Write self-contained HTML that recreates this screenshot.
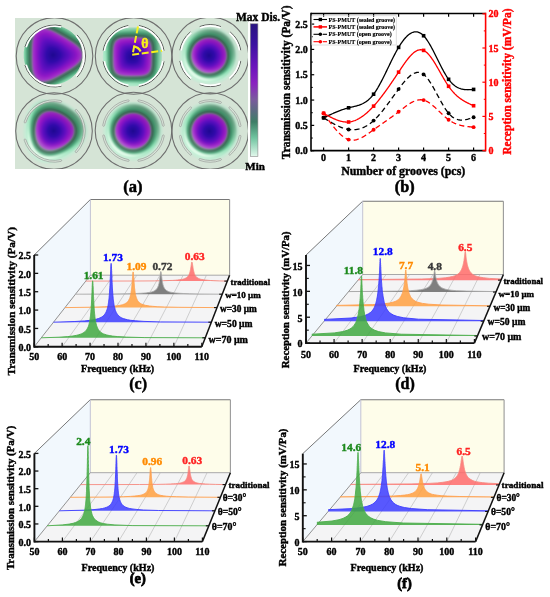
<!DOCTYPE html>
<html><head><meta charset="utf-8"><style>
html,body{margin:0;padding:0;background:#fff;width:550px;height:597px;overflow:hidden}
#wrap{position:relative;width:550px;height:597px}
#hm,#fb{position:absolute;left:15px;top:18px;width:233px;height:151px}
#fb{background-color:#d5e4d6;background-image:radial-gradient(circle 36.5px at 38.0px 37.0px, rgb(30,8,145) 0.0%, rgb(48,10,170) 18.0%, rgb(96,14,192) 34.0%, rgb(145,22,198) 46.0%, rgb(160,44,200) 53.0%, rgb(134,96,160) 57.0%, rgb(86,110,112) 60.0%, rgb(60,110,88) 64.0%, rgb(72,158,116) 71.0%, rgb(138,222,178) 80.0%, rgb(196,234,212) 90.0%, rgb(213,228,214) 100.0%, rgba(213,228,214,0) 100%),radial-gradient(circle 33.5px at 117.4px 38.8px, rgb(30,8,145) 0.0%, rgb(48,10,170) 18.0%, rgb(96,14,192) 34.0%, rgb(145,22,198) 46.0%, rgb(160,44,200) 53.0%, rgb(134,96,160) 57.0%, rgb(86,110,112) 60.0%, rgb(60,110,88) 64.0%, rgb(72,158,116) 71.0%, rgb(138,222,178) 80.0%, rgb(196,234,212) 90.0%, rgb(213,228,214) 100.0%, rgba(213,228,214,0) 100%),radial-gradient(circle 30.5px at 194.0px 37.5px, rgb(30,8,145) 0.0%, rgb(48,10,170) 18.0%, rgb(96,14,192) 34.0%, rgb(145,22,198) 46.0%, rgb(160,44,200) 53.0%, rgb(134,96,160) 57.0%, rgb(86,110,112) 60.0%, rgb(60,110,88) 64.0%, rgb(72,158,116) 71.0%, rgb(138,222,178) 80.0%, rgb(196,234,212) 90.0%, rgb(213,228,214) 100.0%, rgba(213,228,214,0) 100%),radial-gradient(circle 31.5px at 38.6px 112.8px, rgb(30,8,145) 0.0%, rgb(48,10,170) 18.0%, rgb(96,14,192) 34.0%, rgb(145,22,198) 46.0%, rgb(160,44,200) 53.0%, rgb(134,96,160) 57.0%, rgb(86,110,112) 60.0%, rgb(60,110,88) 64.0%, rgb(72,158,116) 71.0%, rgb(138,222,178) 80.0%, rgb(196,234,212) 90.0%, rgb(213,228,214) 100.0%, rgba(213,228,214,0) 100%),radial-gradient(circle 31.0px at 118.0px 113.0px, rgb(30,8,145) 0.0%, rgb(48,10,170) 18.0%, rgb(96,14,192) 34.0%, rgb(145,22,198) 46.0%, rgb(160,44,200) 53.0%, rgb(134,96,160) 57.0%, rgb(86,110,112) 60.0%, rgb(60,110,88) 64.0%, rgb(72,158,116) 71.0%, rgb(138,222,178) 80.0%, rgb(196,234,212) 90.0%, rgb(213,228,214) 100.0%, rgba(213,228,214,0) 100%),radial-gradient(circle 31.0px at 194.5px 113.2px, rgb(30,8,145) 0.0%, rgb(48,10,170) 18.0%, rgb(96,14,192) 34.0%, rgb(145,22,198) 46.0%, rgb(160,44,200) 53.0%, rgb(134,96,160) 57.0%, rgb(86,110,112) 60.0%, rgb(60,110,88) 64.0%, rgb(72,158,116) 71.0%, rgb(138,222,178) 80.0%, rgb(196,234,212) 90.0%, rgb(213,228,214) 100.0%, rgba(213,228,214,0) 100%)}
svg{position:absolute;left:0;top:0}
text{font-family:"Liberation Serif",serif;font-weight:bold}
</style></head><body><div id="wrap">
<div id="fb"></div><canvas id="hm" width="233" height="151"></canvas>
<svg width="550" height="597" viewBox="0 0 550 597">
<clipPath id="clipA"><rect x="15" y="18" width="233" height="151"/></clipPath>
<g clip-path="url(#clipA)">
<circle cx="54.5" cy="56.0" r="38.3" fill="none" stroke="#6e6e6e" stroke-width="1.1"/>
<path d="M61.45,25.89 A30.9,30.9 0 0 0 24.95,46.97" fill="none" stroke="#505050" stroke-width="1"/>
<path d="M61.18,27.06 A29.7,29.7 0 0 0 26.10,47.32" fill="none" stroke="#ffffff" stroke-width="1.6"/>
<path d="M24.95,65.03 A30.9,30.9 0 0 0 61.45,86.11" fill="none" stroke="#505050" stroke-width="1"/>
<path d="M26.10,64.68 A29.7,29.7 0 0 0 61.18,84.94" fill="none" stroke="#ffffff" stroke-width="1.6"/>
<path d="M77.10,77.07 A30.9,30.9 0 0 0 77.10,34.93" fill="none" stroke="#505050" stroke-width="1"/>
<path d="M76.22,76.26 A29.7,29.7 0 0 0 76.22,35.74" fill="none" stroke="#ffffff" stroke-width="1.6"/>
<circle cx="133.6" cy="56.0" r="38.3" fill="none" stroke="#6e6e6e" stroke-width="1.1"/>
<path d="M164.03,50.63 A30.9,30.9 0 0 0 138.97,25.57" fill="none" stroke="#505050" stroke-width="1"/>
<path d="M162.85,50.84 A29.7,29.7 0 0 0 138.76,26.75" fill="none" stroke="#ffffff" stroke-width="1.6"/>
<path d="M128.23,25.57 A30.9,30.9 0 0 0 103.17,50.63" fill="none" stroke="#505050" stroke-width="1"/>
<path d="M128.44,26.75 A29.7,29.7 0 0 0 104.35,50.84" fill="none" stroke="#ffffff" stroke-width="1.6"/>
<path d="M103.17,61.37 A30.9,30.9 0 0 0 128.23,86.43" fill="none" stroke="#505050" stroke-width="1"/>
<path d="M104.35,61.16 A29.7,29.7 0 0 0 128.44,85.25" fill="none" stroke="#ffffff" stroke-width="1.6"/>
<path d="M138.97,86.43 A30.9,30.9 0 0 0 164.03,61.37" fill="none" stroke="#505050" stroke-width="1"/>
<path d="M138.76,85.25 A29.7,29.7 0 0 0 162.85,61.16" fill="none" stroke="#ffffff" stroke-width="1.6"/>
<circle cx="210.3" cy="55.6" r="38.3" fill="none" stroke="#6e6e6e" stroke-width="1.1"/>
<path d="M240.73,50.23 A30.9,30.9 0 0 0 230.16,31.93" fill="none" stroke="#505050" stroke-width="1"/>
<path d="M239.55,50.44 A29.7,29.7 0 0 0 229.39,32.85" fill="none" stroke="#ffffff" stroke-width="1.6"/>
<path d="M220.87,26.56 A30.9,30.9 0 0 0 199.73,26.56" fill="none" stroke="#505050" stroke-width="1"/>
<path d="M220.46,27.69 A29.7,29.7 0 0 0 200.14,27.69" fill="none" stroke="#ffffff" stroke-width="1.6"/>
<path d="M190.44,31.93 A30.9,30.9 0 0 0 179.87,50.23" fill="none" stroke="#505050" stroke-width="1"/>
<path d="M191.21,32.85 A29.7,29.7 0 0 0 181.05,50.44" fill="none" stroke="#ffffff" stroke-width="1.6"/>
<path d="M179.87,60.97 A30.9,30.9 0 0 0 190.44,79.27" fill="none" stroke="#505050" stroke-width="1"/>
<path d="M181.05,60.76 A29.7,29.7 0 0 0 191.21,78.35" fill="none" stroke="#ffffff" stroke-width="1.6"/>
<path d="M199.73,84.64 A30.9,30.9 0 0 0 220.87,84.64" fill="none" stroke="#505050" stroke-width="1"/>
<path d="M200.14,83.51 A29.7,29.7 0 0 0 220.46,83.51" fill="none" stroke="#ffffff" stroke-width="1.6"/>
<path d="M230.16,79.27 A30.9,30.9 0 0 0 240.73,60.97" fill="none" stroke="#505050" stroke-width="1"/>
<path d="M229.39,78.35 A29.7,29.7 0 0 0 239.55,60.76" fill="none" stroke="#ffffff" stroke-width="1.6"/>
<circle cx="54.0" cy="131.0" r="38.3" fill="none" stroke="#6e6e6e" stroke-width="1.1"/>
<path d="M61.02,100.60 A31.2,31.2 0 0 0 24.16,121.88 A0.9000000000000004,0.9000000000000004 0 0 0 25.88,122.40 A29.4,29.4 0 0 1 60.61,102.35 A0.9000000000000004,0.9000000000000004 0 0 0 61.02,100.60 Z" fill="#d9e6da" stroke="#8e8e8e" stroke-width="0.6"/>
<path d="M24.16,140.12 A31.2,31.2 0 0 0 61.02,161.40 A0.9000000000000004,0.9000000000000004 0 0 0 60.61,159.65 A29.4,29.4 0 0 1 25.88,139.60 A0.9000000000000004,0.9000000000000004 0 0 0 24.16,140.12 Z" fill="#d9e6da" stroke="#8e8e8e" stroke-width="0.6"/>
<path d="M76.82,152.28 A31.2,31.2 0 0 0 76.82,109.72 A0.9000000000000004,0.9000000000000004 0 0 0 75.50,110.95 A29.4,29.4 0 0 1 75.50,151.05 A0.9000000000000004,0.9000000000000004 0 0 0 76.82,152.28 Z" fill="#d9e6da" stroke="#8e8e8e" stroke-width="0.6"/>
<circle cx="133.5" cy="130.6" r="38.3" fill="none" stroke="#6e6e6e" stroke-width="1.1"/>
<path d="M164.23,125.18 A31.2,31.2 0 0 0 138.92,99.87 A0.9000000000000004,0.9000000000000004 0 0 0 138.61,101.65 A29.4,29.4 0 0 1 162.45,125.49 A0.9000000000000004,0.9000000000000004 0 0 0 164.23,125.18 Z" fill="#d9e6da" stroke="#8e8e8e" stroke-width="0.6"/>
<path d="M128.08,99.87 A31.2,31.2 0 0 0 102.77,125.18 A0.9000000000000004,0.9000000000000004 0 0 0 104.55,125.49 A29.4,29.4 0 0 1 128.39,101.65 A0.9000000000000004,0.9000000000000004 0 0 0 128.08,99.87 Z" fill="#d9e6da" stroke="#8e8e8e" stroke-width="0.6"/>
<path d="M102.77,136.02 A31.2,31.2 0 0 0 128.08,161.33 A0.9000000000000004,0.9000000000000004 0 0 0 128.39,159.55 A29.4,29.4 0 0 1 104.55,135.71 A0.9000000000000004,0.9000000000000004 0 0 0 102.77,136.02 Z" fill="#d9e6da" stroke="#8e8e8e" stroke-width="0.6"/>
<path d="M138.92,161.33 A31.2,31.2 0 0 0 164.23,136.02 A0.9000000000000004,0.9000000000000004 0 0 0 162.45,135.71 A29.4,29.4 0 0 1 138.61,159.55 A0.9000000000000004,0.9000000000000004 0 0 0 138.92,161.33 Z" fill="#d9e6da" stroke="#8e8e8e" stroke-width="0.6"/>
<circle cx="210.2" cy="131.0" r="38.3" fill="none" stroke="#6e6e6e" stroke-width="1.1"/>
<path d="M240.93,125.58 A31.2,31.2 0 0 0 230.25,107.10 A0.9000000000000004,0.9000000000000004 0 0 0 229.10,108.48 A29.4,29.4 0 0 1 239.15,125.89 A0.9000000000000004,0.9000000000000004 0 0 0 240.93,125.58 Z" fill="#d9e6da" stroke="#8e8e8e" stroke-width="0.6"/>
<path d="M220.87,101.68 A31.2,31.2 0 0 0 199.53,101.68 A0.9000000000000004,0.9000000000000004 0 0 0 200.14,103.37 A29.4,29.4 0 0 1 220.26,103.37 A0.9000000000000004,0.9000000000000004 0 0 0 220.87,101.68 Z" fill="#d9e6da" stroke="#8e8e8e" stroke-width="0.6"/>
<path d="M190.15,107.10 A31.2,31.2 0 0 0 179.47,125.58 A0.9000000000000004,0.9000000000000004 0 0 0 181.25,125.89 A29.4,29.4 0 0 1 191.30,108.48 A0.9000000000000004,0.9000000000000004 0 0 0 190.15,107.10 Z" fill="#d9e6da" stroke="#8e8e8e" stroke-width="0.6"/>
<path d="M179.47,136.42 A31.2,31.2 0 0 0 190.15,154.90 A0.9000000000000004,0.9000000000000004 0 0 0 191.30,153.52 A29.4,29.4 0 0 1 181.25,136.11 A0.9000000000000004,0.9000000000000004 0 0 0 179.47,136.42 Z" fill="#d9e6da" stroke="#8e8e8e" stroke-width="0.6"/>
<path d="M199.53,160.32 A31.2,31.2 0 0 0 220.87,160.32 A0.9000000000000004,0.9000000000000004 0 0 0 220.26,158.63 A29.4,29.4 0 0 1 200.14,158.63 A0.9000000000000004,0.9000000000000004 0 0 0 199.53,160.32 Z" fill="#d9e6da" stroke="#8e8e8e" stroke-width="0.6"/>
<path d="M230.25,154.90 A31.2,31.2 0 0 0 240.93,136.42 A0.9000000000000004,0.9000000000000004 0 0 0 239.15,136.11 A29.4,29.4 0 0 1 229.10,153.52 A0.9000000000000004,0.9000000000000004 0 0 0 230.25,154.90 Z" fill="#d9e6da" stroke="#8e8e8e" stroke-width="0.6"/>
</g>
<path d="M138,26.5 L132.6,54.4" stroke="#f7f01a" stroke-width="2" stroke-dasharray="7,2.6" fill="none"/>
<path d="M132.2,54.8 L162.1,50.7" stroke="#f7f01a" stroke-width="2" stroke-dasharray="7,2.6" fill="none"/>
<path d="M133.6,46.6 A8,8 0 0 1 140.6,51.5" stroke="#f7f01a" stroke-width="2.2" fill="none"/>
<text x="141.2" y="47.7" font-size="14" font-family="Liberation Serif" fill="#f7f01a" stroke="#f7f01a" stroke-width="0.45">θ</text>
<linearGradient id="cbar" x1="0" y1="0" x2="0" y2="1">
<stop offset="0" stop-color="#2a1580"/>
<stop offset="0.15" stop-color="#3a12a0"/>
<stop offset="0.32" stop-color="#6a14bc"/>
<stop offset="0.45" stop-color="#8a22c0"/>
<stop offset="0.57" stop-color="#7a5a9e"/>
<stop offset="0.66" stop-color="#5a6c80"/>
<stop offset="0.74" stop-color="#3e7e66"/>
<stop offset="0.86" stop-color="#70c4a0"/>
<stop offset="1" stop-color="#e2f8ec"/>
</linearGradient>
<rect x="250.3" y="23.8" width="7.6" height="132.6" fill="url(#cbar)" stroke="#888" stroke-width="0.6"/>
<text x="236.00" y="21.10" font-size="11.5" fill="#000" text-anchor="start" stroke="#000" stroke-width="0.4" >Max Dis.</text>
<text x="245.30" y="169.60" font-size="11" fill="#000" text-anchor="start" stroke="#000" stroke-width="0.4" >Min</text>
<text x="132.95" y="192.10" font-size="16.5" fill="#000" text-anchor="middle" stroke="#000" stroke-width="0.5" >(a)</text>
<clipPath id="clipB"><rect x="311.0" y="13.5" width="174.60000000000002" height="137.1"/></clipPath>
<g clip-path="url(#clipB)">
<path d="M323.60,117.78 L324.23,118.17 L324.85,118.56 L325.48,118.94 L326.10,119.33 L326.73,119.71 L327.35,120.10 L327.98,120.48 L328.60,120.85 L329.23,121.23 L329.85,121.60 L330.48,121.97 L331.10,122.33 L331.73,122.69 L332.35,123.04 L332.98,123.39 L333.60,123.74 L334.23,124.07 L334.85,124.41 L335.48,124.73 L336.10,125.05 L336.73,125.36 L337.35,125.67 L337.98,125.96 L338.60,126.25 L339.23,126.53 L339.85,126.80 L340.48,127.06 L341.10,127.31 L341.73,127.55 L342.35,127.78 L342.98,128.00 L343.60,128.21 L344.23,128.41 L344.85,128.59 L345.48,128.76 L346.10,128.92 L346.73,129.07 L347.35,129.21 L347.98,129.33 L348.60,129.43 L349.23,129.52 L349.85,129.60 L350.48,129.66 L351.10,129.71 L351.73,129.74 L352.35,129.76 L352.98,129.76 L353.60,129.75 L354.23,129.72 L354.85,129.68 L355.48,129.62 L356.10,129.54 L356.73,129.45 L357.35,129.35 L357.98,129.22 L358.60,129.08 L359.23,128.93 L359.85,128.76 L360.48,128.57 L361.10,128.37 L361.73,128.14 L362.35,127.91 L362.98,127.65 L363.60,127.38 L364.23,127.09 L364.85,126.78 L365.48,126.46 L366.10,126.12 L366.73,125.76 L367.35,125.38 L367.98,124.99 L368.60,124.58 L369.23,124.15 L369.85,123.70 L370.48,123.23 L371.10,122.75 L371.73,122.24 L372.35,121.72 L372.98,121.18 L373.60,120.62 L374.23,120.04 L374.85,119.44 L375.48,118.83 L376.10,118.20 L376.73,117.55 L377.35,116.88 L377.98,116.20 L378.60,115.51 L379.23,114.80 L379.85,114.08 L380.48,113.34 L381.10,112.60 L381.73,111.84 L382.35,111.07 L382.98,110.29 L383.60,109.50 L384.23,108.70 L384.85,107.89 L385.48,107.07 L386.10,106.25 L386.73,105.41 L387.35,104.58 L387.98,103.73 L388.60,102.89 L389.23,102.03 L389.85,101.18 L390.48,100.32 L391.10,99.46 L391.73,98.59 L392.35,97.73 L392.98,96.86 L393.60,95.99 L394.23,95.13 L394.85,94.26 L395.48,93.40 L396.10,92.53 L396.73,91.68 L397.35,90.82 L397.98,89.97 L398.60,89.12 L399.23,88.28 L399.85,87.45 L400.48,86.62 L401.10,85.80 L401.73,84.99 L402.35,84.20 L402.98,83.42 L403.60,82.65 L404.23,81.90 L404.85,81.17 L405.48,80.46 L406.10,79.77 L406.73,79.10 L407.35,78.45 L407.98,77.83 L408.60,77.23 L409.23,76.66 L409.85,76.12 L410.48,75.61 L411.10,75.14 L411.73,74.69 L412.35,74.28 L412.98,73.91 L413.60,73.57 L414.23,73.27 L414.85,73.01 L415.48,72.80 L416.10,72.62 L416.73,72.49 L417.35,72.41 L417.98,72.37 L418.60,72.38 L419.23,72.45 L419.85,72.56 L420.48,72.72 L421.10,72.94 L421.73,73.22 L422.35,73.55 L422.98,73.94 L423.60,74.39 L424.23,74.89 L424.85,75.46 L425.48,76.09 L426.10,76.76 L426.73,77.49 L427.35,78.26 L427.98,79.08 L428.60,79.94 L429.23,80.84 L429.85,81.77 L430.48,82.74 L431.10,83.74 L431.73,84.77 L432.35,85.82 L432.98,86.90 L433.60,88.00 L434.23,89.11 L434.85,90.24 L435.48,91.38 L436.10,92.53 L436.73,93.69 L437.35,94.85 L437.98,96.01 L438.60,97.17 L439.23,98.32 L439.85,99.47 L440.48,100.61 L441.10,101.74 L441.73,102.85 L442.35,103.94 L442.98,105.01 L443.60,106.06 L444.23,107.08 L444.85,108.08 L445.48,109.04 L446.10,109.97 L446.73,110.86 L447.35,111.71 L447.98,112.51 L448.60,113.28 L449.23,113.99 L449.85,114.66 L450.48,115.28 L451.10,115.86 L451.73,116.40 L452.35,116.89 L452.98,117.35 L453.60,117.76 L454.23,118.13 L454.85,118.47 L455.48,118.77 L456.10,119.04 L456.73,119.28 L457.35,119.48 L457.98,119.65 L458.60,119.79 L459.23,119.90 L459.85,119.98 L460.48,120.04 L461.10,120.07 L461.73,120.08 L462.35,120.07 L462.98,120.03 L463.60,119.97 L464.23,119.90 L464.85,119.80 L465.48,119.69 L466.10,119.57 L466.73,119.43 L467.35,119.27 L467.98,119.11 L468.60,118.93 L469.23,118.75 L469.85,118.55 L470.48,118.35 L471.10,118.14 L471.73,117.93 L472.35,117.72 L472.98,117.50 L473.60,117.28" fill="none" stroke="#000" stroke-width="1.3" stroke-dasharray="5.2,3.2"/>
<path d="M323.60,113.19 L324.23,114.07 L324.85,114.96 L325.48,115.85 L326.10,116.74 L326.73,117.62 L327.35,118.49 L327.98,119.36 L328.60,120.23 L329.23,121.09 L329.85,121.94 L330.48,122.78 L331.10,123.62 L331.73,124.44 L332.35,125.25 L332.98,126.05 L333.60,126.83 L334.23,127.61 L334.85,128.36 L335.48,129.11 L336.10,129.83 L336.73,130.54 L337.35,131.23 L337.98,131.90 L338.60,132.56 L339.23,133.19 L339.85,133.80 L340.48,134.38 L341.10,134.95 L341.73,135.49 L342.35,136.00 L342.98,136.49 L343.60,136.95 L344.23,137.39 L344.85,137.80 L345.48,138.17 L346.10,138.52 L346.73,138.83 L347.35,139.12 L347.98,139.37 L348.60,139.59 L349.23,139.77 L349.85,139.92 L350.48,140.04 L351.10,140.12 L351.73,140.18 L352.35,140.20 L352.98,140.20 L353.60,140.17 L354.23,140.11 L354.85,140.02 L355.48,139.91 L356.10,139.77 L356.73,139.62 L357.35,139.43 L357.98,139.23 L358.60,139.01 L359.23,138.76 L359.85,138.50 L360.48,138.22 L361.10,137.92 L361.73,137.60 L362.35,137.27 L362.98,136.93 L363.60,136.57 L364.23,136.20 L364.85,135.82 L365.48,135.42 L366.10,135.02 L366.73,134.61 L367.35,134.19 L367.98,133.76 L368.60,133.33 L369.23,132.89 L369.85,132.44 L370.48,132.00 L371.10,131.55 L371.73,131.09 L372.35,130.64 L372.98,130.19 L373.60,129.74 L374.23,129.29 L374.85,128.84 L375.48,128.39 L376.10,127.95 L376.73,127.51 L377.35,127.07 L377.98,126.62 L378.60,126.18 L379.23,125.75 L379.85,125.31 L380.48,124.87 L381.10,124.43 L381.73,123.99 L382.35,123.56 L382.98,123.12 L383.60,122.68 L384.23,122.25 L384.85,121.81 L385.48,121.37 L386.10,120.93 L386.73,120.49 L387.35,120.05 L387.98,119.61 L388.60,119.17 L389.23,118.73 L389.85,118.28 L390.48,117.83 L391.10,117.38 L391.73,116.93 L392.35,116.48 L392.98,116.03 L393.60,115.57 L394.23,115.11 L394.85,114.65 L395.48,114.18 L396.10,113.72 L396.73,113.25 L397.35,112.77 L397.98,112.30 L398.60,111.82 L399.23,111.33 L399.85,110.85 L400.48,110.36 L401.10,109.87 L401.73,109.39 L402.35,108.90 L402.98,108.42 L403.60,107.94 L404.23,107.46 L404.85,106.99 L405.48,106.53 L406.10,106.07 L406.73,105.62 L407.35,105.18 L407.98,104.75 L408.60,104.33 L409.23,103.92 L409.85,103.53 L410.48,103.15 L411.10,102.78 L411.73,102.44 L412.35,102.10 L412.98,101.79 L413.60,101.49 L414.23,101.22 L414.85,100.96 L415.48,100.73 L416.10,100.52 L416.73,100.33 L417.35,100.17 L417.98,100.04 L418.60,99.93 L419.23,99.84 L419.85,99.79 L420.48,99.77 L421.10,99.77 L421.73,99.81 L422.35,99.88 L422.98,99.98 L423.60,100.12 L424.23,100.29 L424.85,100.50 L425.48,100.74 L426.10,101.01 L426.73,101.31 L427.35,101.64 L427.98,101.99 L428.60,102.37 L429.23,102.78 L429.85,103.21 L430.48,103.66 L431.10,104.13 L431.73,104.61 L432.35,105.12 L432.98,105.64 L433.60,106.18 L434.23,106.73 L434.85,107.29 L435.48,107.86 L436.10,108.44 L436.73,109.02 L437.35,109.62 L437.98,110.21 L438.60,110.81 L439.23,111.42 L439.85,112.02 L440.48,112.62 L441.10,113.22 L441.73,113.82 L442.35,114.41 L442.98,115.00 L443.60,115.58 L444.23,116.15 L444.85,116.70 L445.48,117.25 L446.10,117.78 L446.73,118.30 L447.35,118.80 L447.98,119.29 L448.60,119.75 L449.23,120.20 L449.85,120.62 L450.48,121.03 L451.10,121.42 L451.73,121.79 L452.35,122.14 L452.98,122.47 L453.60,122.79 L454.23,123.09 L454.85,123.38 L455.48,123.65 L456.10,123.90 L456.73,124.14 L457.35,124.37 L457.98,124.58 L458.60,124.79 L459.23,124.98 L459.85,125.15 L460.48,125.32 L461.10,125.48 L461.73,125.62 L462.35,125.76 L462.98,125.88 L463.60,126.00 L464.23,126.11 L464.85,126.22 L465.48,126.31 L466.10,126.40 L466.73,126.48 L467.35,126.56 L467.98,126.63 L468.60,126.70 L469.23,126.76 L469.85,126.82 L470.48,126.88 L471.10,126.94 L471.73,126.99 L472.35,127.04 L472.98,127.09 L473.60,127.14" fill="none" stroke="#ff0000" stroke-width="1.3" stroke-dasharray="5.2,3.2"/>
<path d="M323.60,117.78 L324.23,117.49 L324.85,117.20 L325.48,116.90 L326.10,116.61 L326.73,116.32 L327.35,116.03 L327.98,115.74 L328.60,115.45 L329.23,115.16 L329.85,114.88 L330.48,114.59 L331.10,114.31 L331.73,114.03 L332.35,113.75 L332.98,113.48 L333.60,113.20 L334.23,112.93 L334.85,112.67 L335.48,112.40 L336.10,112.14 L336.73,111.88 L337.35,111.62 L337.98,111.37 L338.60,111.12 L339.23,110.88 L339.85,110.64 L340.48,110.41 L341.10,110.17 L341.73,109.95 L342.35,109.73 L342.98,109.51 L343.60,109.30 L344.23,109.09 L344.85,108.89 L345.48,108.70 L346.10,108.51 L346.73,108.32 L347.35,108.14 L347.98,107.97 L348.60,107.81 L349.23,107.65 L349.85,107.50 L350.48,107.35 L351.10,107.20 L351.73,107.06 L352.35,106.91 L352.98,106.77 L353.60,106.63 L354.23,106.48 L354.85,106.33 L355.48,106.17 L356.10,106.01 L356.73,105.84 L357.35,105.66 L357.98,105.47 L358.60,105.27 L359.23,105.06 L359.85,104.83 L360.48,104.59 L361.10,104.34 L361.73,104.07 L362.35,103.78 L362.98,103.47 L363.60,103.14 L364.23,102.79 L364.85,102.42 L365.48,102.02 L366.10,101.60 L366.73,101.15 L367.35,100.68 L367.98,100.18 L368.60,99.64 L369.23,99.08 L369.85,98.49 L370.48,97.86 L371.10,97.20 L371.73,96.50 L372.35,95.77 L372.98,95.00 L373.60,94.19 L374.23,93.34 L374.85,92.45 L375.48,91.52 L376.10,90.56 L376.73,89.57 L377.35,88.55 L377.98,87.50 L378.60,86.41 L379.23,85.31 L379.85,84.18 L380.48,83.02 L381.10,81.84 L381.73,80.65 L382.35,79.44 L382.98,78.21 L383.60,76.97 L384.23,75.71 L384.85,74.45 L385.48,73.17 L386.10,71.89 L386.73,70.60 L387.35,69.31 L387.98,68.02 L388.60,66.73 L389.23,65.43 L389.85,64.14 L390.48,62.86 L391.10,61.58 L391.73,60.31 L392.35,59.05 L392.98,57.81 L393.60,56.57 L394.23,55.36 L394.85,54.15 L395.48,52.97 L396.10,51.81 L396.73,50.67 L397.35,49.55 L397.98,48.46 L398.60,47.39 L399.23,46.36 L399.85,45.35 L400.48,44.38 L401.10,43.43 L401.73,42.52 L402.35,41.64 L402.98,40.79 L403.60,39.98 L404.23,39.20 L404.85,38.46 L405.48,37.75 L406.10,37.08 L406.73,36.44 L407.35,35.84 L407.98,35.29 L408.60,34.77 L409.23,34.29 L409.85,33.85 L410.48,33.45 L411.10,33.09 L411.73,32.78 L412.35,32.50 L412.98,32.28 L413.60,32.09 L414.23,31.95 L414.85,31.86 L415.48,31.82 L416.10,31.82 L416.73,31.87 L417.35,31.96 L417.98,32.11 L418.60,32.31 L419.23,32.55 L419.85,32.85 L420.48,33.20 L421.10,33.60 L421.73,34.06 L422.35,34.57 L422.98,35.13 L423.60,35.75 L424.23,36.42 L424.85,37.15 L425.48,37.93 L426.10,38.75 L426.73,39.62 L427.35,40.54 L427.98,41.50 L428.60,42.49 L429.23,43.52 L429.85,44.58 L430.48,45.67 L431.10,46.80 L431.73,47.94 L432.35,49.11 L432.98,50.30 L433.60,51.51 L434.23,52.73 L434.85,53.97 L435.48,55.21 L436.10,56.47 L436.73,57.73 L437.35,58.99 L437.98,60.25 L438.60,61.51 L439.23,62.77 L439.85,64.02 L440.48,65.25 L441.10,66.48 L441.73,67.69 L442.35,68.88 L442.98,70.06 L443.60,71.21 L444.23,72.33 L444.85,73.43 L445.48,74.50 L446.10,75.53 L446.73,76.53 L447.35,77.50 L447.98,78.42 L448.60,79.30 L449.23,80.13 L449.85,80.92 L450.48,81.67 L451.10,82.38 L451.73,83.04 L452.35,83.67 L452.98,84.25 L453.60,84.80 L454.23,85.31 L454.85,85.79 L455.48,86.24 L456.10,86.65 L456.73,87.03 L457.35,87.38 L457.98,87.70 L458.60,87.99 L459.23,88.25 L459.85,88.49 L460.48,88.70 L461.10,88.89 L461.73,89.06 L462.35,89.20 L462.98,89.33 L463.60,89.43 L464.23,89.52 L464.85,89.59 L465.48,89.64 L466.10,89.68 L466.73,89.71 L467.35,89.72 L467.98,89.73 L468.60,89.72 L469.23,89.70 L469.85,89.68 L470.48,89.65 L471.10,89.61 L471.73,89.57 L472.35,89.52 L472.98,89.47 L473.60,89.43" fill="none" stroke="#000" stroke-width="1.3"/>
<path d="M323.60,113.32 L324.23,113.67 L324.85,114.02 L325.48,114.37 L326.10,114.72 L326.73,115.07 L327.35,115.41 L327.98,115.75 L328.60,116.09 L329.23,116.42 L329.85,116.75 L330.48,117.07 L331.10,117.39 L331.73,117.70 L332.35,118.01 L332.98,118.31 L333.60,118.60 L334.23,118.88 L334.85,119.15 L335.48,119.42 L336.10,119.68 L336.73,119.92 L337.35,120.16 L337.98,120.38 L338.60,120.59 L339.23,120.79 L339.85,120.98 L340.48,121.16 L341.10,121.32 L341.73,121.46 L342.35,121.60 L342.98,121.71 L343.60,121.82 L344.23,121.90 L344.85,121.97 L345.48,122.02 L346.10,122.06 L346.73,122.07 L347.35,122.07 L347.98,122.05 L348.60,122.01 L349.23,121.95 L349.85,121.87 L350.48,121.77 L351.10,121.65 L351.73,121.51 L352.35,121.35 L352.98,121.17 L353.60,120.98 L354.23,120.76 L354.85,120.53 L355.48,120.28 L356.10,120.01 L356.73,119.73 L357.35,119.42 L357.98,119.10 L358.60,118.77 L359.23,118.41 L359.85,118.04 L360.48,117.66 L361.10,117.25 L361.73,116.83 L362.35,116.40 L362.98,115.95 L363.60,115.49 L364.23,115.01 L364.85,114.51 L365.48,114.00 L366.10,113.48 L366.73,112.94 L367.35,112.39 L367.98,111.82 L368.60,111.24 L369.23,110.65 L369.85,110.04 L370.48,109.42 L371.10,108.79 L371.73,108.15 L372.35,107.49 L372.98,106.82 L373.60,106.14 L374.23,105.45 L374.85,104.74 L375.48,104.03 L376.10,103.30 L376.73,102.57 L377.35,101.82 L377.98,101.06 L378.60,100.30 L379.23,99.52 L379.85,98.73 L380.48,97.94 L381.10,97.14 L381.73,96.32 L382.35,95.50 L382.98,94.68 L383.60,93.84 L384.23,93.00 L384.85,92.15 L385.48,91.29 L386.10,90.42 L386.73,89.55 L387.35,88.68 L387.98,87.79 L388.60,86.91 L389.23,86.01 L389.85,85.11 L390.48,84.21 L391.10,83.30 L391.73,82.39 L392.35,81.47 L392.98,80.55 L393.60,79.63 L394.23,78.70 L394.85,77.77 L395.48,76.84 L396.10,75.90 L396.73,74.97 L397.35,74.03 L397.98,73.09 L398.60,72.15 L399.23,71.20 L399.85,70.26 L400.48,69.32 L401.10,68.38 L401.73,67.45 L402.35,66.53 L402.98,65.61 L403.60,64.70 L404.23,63.81 L404.85,62.93 L405.48,62.06 L406.10,61.21 L406.73,60.37 L407.35,59.56 L407.98,58.77 L408.60,58.00 L409.23,57.25 L409.85,56.53 L410.48,55.84 L411.10,55.17 L411.73,54.54 L412.35,53.94 L412.98,53.37 L413.60,52.84 L414.23,52.34 L414.85,51.88 L415.48,51.47 L416.10,51.09 L416.73,50.76 L417.35,50.47 L417.98,50.23 L418.60,50.03 L419.23,49.89 L419.85,49.80 L420.48,49.75 L421.10,49.77 L421.73,49.84 L422.35,49.96 L422.98,50.15 L423.60,50.39 L424.23,50.70 L424.85,51.07 L425.48,51.49 L426.10,51.97 L426.73,52.50 L427.35,53.09 L427.98,53.72 L428.60,54.39 L429.23,55.11 L429.85,55.88 L430.48,56.68 L431.10,57.51 L431.73,58.38 L432.35,59.29 L432.98,60.22 L433.60,61.18 L434.23,62.16 L434.85,63.17 L435.48,64.19 L436.10,65.24 L436.73,66.30 L437.35,67.37 L437.98,68.46 L438.60,69.55 L439.23,70.65 L439.85,71.75 L440.48,72.86 L441.10,73.96 L441.73,75.06 L442.35,76.16 L442.98,77.24 L443.60,78.32 L444.23,79.39 L444.85,80.44 L445.48,81.47 L446.10,82.49 L446.73,83.48 L447.35,84.45 L447.98,85.39 L448.60,86.30 L449.23,87.19 L449.85,88.04 L450.48,88.86 L451.10,89.66 L451.73,90.43 L452.35,91.17 L452.98,91.88 L453.60,92.57 L454.23,93.23 L454.85,93.87 L455.48,94.49 L456.10,95.08 L456.73,95.65 L457.35,96.20 L457.98,96.73 L458.60,97.25 L459.23,97.74 L459.85,98.21 L460.48,98.67 L461.10,99.11 L461.73,99.54 L462.35,99.95 L462.98,100.35 L463.60,100.73 L464.23,101.11 L464.85,101.47 L465.48,101.82 L466.10,102.16 L466.73,102.49 L467.35,102.81 L467.98,103.12 L468.60,103.43 L469.23,103.73 L469.85,104.03 L470.48,104.32 L471.10,104.60 L471.73,104.89 L472.35,105.17 L472.98,105.45 L473.60,105.73" fill="none" stroke="#ff0000" stroke-width="1.3"/>
</g>
<circle cx="323.60" cy="117.78" r="1.95" fill="#000"/>
<circle cx="348.60" cy="129.43" r="1.95" fill="#000"/>
<circle cx="373.60" cy="120.62" r="1.95" fill="#000"/>
<circle cx="398.60" cy="89.12" r="1.95" fill="#000"/>
<circle cx="423.60" cy="74.39" r="1.95" fill="#000"/>
<circle cx="448.60" cy="113.28" r="1.95" fill="#000"/>
<circle cx="473.60" cy="117.28" r="1.95" fill="#000"/>
<circle cx="323.60" cy="113.19" r="1.95" fill="#ff0000"/>
<circle cx="348.60" cy="139.59" r="1.95" fill="#ff0000"/>
<circle cx="373.60" cy="129.74" r="1.95" fill="#ff0000"/>
<circle cx="398.60" cy="111.82" r="1.95" fill="#ff0000"/>
<circle cx="423.60" cy="100.12" r="1.95" fill="#ff0000"/>
<circle cx="448.60" cy="119.75" r="1.95" fill="#ff0000"/>
<circle cx="473.60" cy="127.14" r="1.95" fill="#ff0000"/>
<rect x="321.80" y="115.98" width="3.6" height="3.6" fill="#000"/>
<rect x="346.80" y="106.01" width="3.6" height="3.6" fill="#000"/>
<rect x="371.80" y="92.39" width="3.6" height="3.6" fill="#000"/>
<rect x="396.80" y="45.59" width="3.6" height="3.6" fill="#000"/>
<rect x="421.80" y="33.95" width="3.6" height="3.6" fill="#000"/>
<rect x="446.80" y="77.50" width="3.6" height="3.6" fill="#000"/>
<rect x="471.80" y="87.63" width="3.6" height="3.6" fill="#000"/>
<rect x="321.80" y="111.52" width="3.6" height="3.6" fill="#ff0000"/>
<rect x="346.80" y="120.21" width="3.6" height="3.6" fill="#ff0000"/>
<rect x="371.80" y="104.34" width="3.6" height="3.6" fill="#ff0000"/>
<rect x="396.80" y="70.35" width="3.6" height="3.6" fill="#ff0000"/>
<rect x="421.80" y="48.59" width="3.6" height="3.6" fill="#ff0000"/>
<rect x="446.80" y="84.50" width="3.6" height="3.6" fill="#ff0000"/>
<rect x="471.80" y="103.93" width="3.6" height="3.6" fill="#ff0000"/>
<line x1="311.00" y1="13.50" x2="485.60" y2="13.50" stroke="#000" stroke-width="1.6" />
<line x1="311.00" y1="150.60" x2="485.60" y2="150.60" stroke="#000" stroke-width="1.6" />
<line x1="311.00" y1="12.70" x2="311.00" y2="151.40" stroke="#000" stroke-width="1.6" />
<line x1="485.60" y1="12.70" x2="485.60" y2="151.40" stroke="#ff0000" stroke-width="1.6" />
<line x1="311.00" y1="150.70" x2="314.20" y2="150.70" stroke="#000" stroke-width="1.2" />
<text x="307.80" y="154.20" font-size="10" fill="#000" text-anchor="end" stroke="#000" stroke-width="0.4" >0.0</text>
<line x1="311.00" y1="125.38" x2="314.20" y2="125.38" stroke="#000" stroke-width="1.2" />
<text x="307.80" y="128.88" font-size="10" fill="#000" text-anchor="end" stroke="#000" stroke-width="0.4" >0.5</text>
<line x1="311.00" y1="100.06" x2="314.20" y2="100.06" stroke="#000" stroke-width="1.2" />
<text x="307.80" y="103.56" font-size="10" fill="#000" text-anchor="end" stroke="#000" stroke-width="0.4" >1.0</text>
<line x1="311.00" y1="74.74" x2="314.20" y2="74.74" stroke="#000" stroke-width="1.2" />
<text x="307.80" y="78.24" font-size="10" fill="#000" text-anchor="end" stroke="#000" stroke-width="0.4" >1.5</text>
<line x1="311.00" y1="49.42" x2="314.20" y2="49.42" stroke="#000" stroke-width="1.2" />
<text x="307.80" y="52.92" font-size="10" fill="#000" text-anchor="end" stroke="#000" stroke-width="0.4" >2.0</text>
<line x1="311.00" y1="24.10" x2="314.20" y2="24.10" stroke="#000" stroke-width="1.2" />
<text x="307.80" y="27.60" font-size="10" fill="#000" text-anchor="end" stroke="#000" stroke-width="0.4" >2.5</text>
<line x1="311.00" y1="138.04" x2="312.80" y2="138.04" stroke="#000" stroke-width="1" />
<line x1="311.00" y1="112.72" x2="312.80" y2="112.72" stroke="#000" stroke-width="1" />
<line x1="311.00" y1="87.40" x2="312.80" y2="87.40" stroke="#000" stroke-width="1" />
<line x1="311.00" y1="62.08" x2="312.80" y2="62.08" stroke="#000" stroke-width="1" />
<line x1="311.00" y1="36.76" x2="312.80" y2="36.76" stroke="#000" stroke-width="1" />
<line x1="323.60" y1="150.60" x2="323.60" y2="147.40" stroke="#000" stroke-width="1.2" />
<line x1="323.60" y1="13.50" x2="323.60" y2="16.70" stroke="#000" stroke-width="1.2" />
<text x="323.60" y="161.30" font-size="10" fill="#000" text-anchor="middle" stroke="#000" stroke-width="0.4" >0</text>
<line x1="348.60" y1="150.60" x2="348.60" y2="147.40" stroke="#000" stroke-width="1.2" />
<line x1="348.60" y1="13.50" x2="348.60" y2="16.70" stroke="#000" stroke-width="1.2" />
<text x="348.60" y="161.30" font-size="10" fill="#000" text-anchor="middle" stroke="#000" stroke-width="0.4" >1</text>
<line x1="373.60" y1="150.60" x2="373.60" y2="147.40" stroke="#000" stroke-width="1.2" />
<line x1="373.60" y1="13.50" x2="373.60" y2="16.70" stroke="#000" stroke-width="1.2" />
<text x="373.60" y="161.30" font-size="10" fill="#000" text-anchor="middle" stroke="#000" stroke-width="0.4" >2</text>
<line x1="398.60" y1="150.60" x2="398.60" y2="147.40" stroke="#000" stroke-width="1.2" />
<line x1="398.60" y1="13.50" x2="398.60" y2="16.70" stroke="#000" stroke-width="1.2" />
<text x="398.60" y="161.30" font-size="10" fill="#000" text-anchor="middle" stroke="#000" stroke-width="0.4" >3</text>
<line x1="423.60" y1="150.60" x2="423.60" y2="147.40" stroke="#000" stroke-width="1.2" />
<line x1="423.60" y1="13.50" x2="423.60" y2="16.70" stroke="#000" stroke-width="1.2" />
<text x="423.60" y="161.30" font-size="10" fill="#000" text-anchor="middle" stroke="#000" stroke-width="0.4" >4</text>
<line x1="448.60" y1="150.60" x2="448.60" y2="147.40" stroke="#000" stroke-width="1.2" />
<line x1="448.60" y1="13.50" x2="448.60" y2="16.70" stroke="#000" stroke-width="1.2" />
<text x="448.60" y="161.30" font-size="10" fill="#000" text-anchor="middle" stroke="#000" stroke-width="0.4" >5</text>
<line x1="473.60" y1="150.60" x2="473.60" y2="147.40" stroke="#000" stroke-width="1.2" />
<line x1="473.60" y1="13.50" x2="473.60" y2="16.70" stroke="#000" stroke-width="1.2" />
<text x="473.60" y="161.30" font-size="10" fill="#000" text-anchor="middle" stroke="#000" stroke-width="0.4" >6</text>
<line x1="485.60" y1="150.60" x2="482.40" y2="150.60" stroke="#ff0000" stroke-width="1.2" />
<text x="488.60" y="154.10" font-size="10" fill="#ff0000" text-anchor="start" stroke="#ff0000" stroke-width="0.4" >0</text>
<line x1="485.60" y1="116.40" x2="482.40" y2="116.40" stroke="#ff0000" stroke-width="1.2" />
<text x="488.60" y="119.90" font-size="10" fill="#ff0000" text-anchor="start" stroke="#ff0000" stroke-width="0.4" >5</text>
<line x1="485.60" y1="82.20" x2="482.40" y2="82.20" stroke="#ff0000" stroke-width="1.2" />
<text x="488.60" y="85.70" font-size="10" fill="#ff0000" text-anchor="start" stroke="#ff0000" stroke-width="0.4" >10</text>
<line x1="485.60" y1="48.00" x2="482.40" y2="48.00" stroke="#ff0000" stroke-width="1.2" />
<text x="488.60" y="51.50" font-size="10" fill="#ff0000" text-anchor="start" stroke="#ff0000" stroke-width="0.4" >15</text>
<line x1="485.60" y1="13.80" x2="482.40" y2="13.80" stroke="#ff0000" stroke-width="1.2" />
<text x="488.60" y="17.30" font-size="10" fill="#ff0000" text-anchor="start" stroke="#ff0000" stroke-width="0.4" >20</text>
<line x1="485.60" y1="133.50" x2="483.80" y2="133.50" stroke="#ff0000" stroke-width="1" />
<line x1="485.60" y1="99.30" x2="483.80" y2="99.30" stroke="#ff0000" stroke-width="1" />
<line x1="485.60" y1="65.10" x2="483.80" y2="65.10" stroke="#ff0000" stroke-width="1" />
<line x1="485.60" y1="30.90" x2="483.80" y2="30.90" stroke="#ff0000" stroke-width="1" />
<text x="403.20" y="174.60" font-size="11.9" fill="#000" text-anchor="middle" stroke="#000" stroke-width="0.4" >Number of grooves (pcs)</text>
<text transform="translate(290.0,82.3) rotate(-90)" font-size="11.6" text-anchor="middle" stroke="#000" stroke-width="0.4">Transmission sensitivity (Pa/V)</text>
<text transform="translate(511.4,81.6) rotate(-90)" font-size="11.55" fill="#ff0000" text-anchor="middle" stroke="#ff0000" stroke-width="0.4">Reception sensitivity (mV/Pa)</text>
<text x="404.75" y="191.70" font-size="16.2" fill="#000" text-anchor="middle" stroke="#000" stroke-width="0.55" >(b)</text>
<rect x="311.8" y="15.8" width="84.4" height="29.2" fill="none" stroke="#c8c8c8" stroke-width="0.6"/>
<line x1="313.50" y1="19.50" x2="327.00" y2="19.50" stroke="#000" stroke-width="1.1" />
<rect x="318.65" y="17.80" width="3.4" height="3.4" fill="#000"/>
<text x="328.60" y="21.60" font-size="6.0" fill="#000" text-anchor="start" stroke="#000" stroke-width="0.15" >FS-PMUT (sealed groove)</text>
<line x1="313.50" y1="26.90" x2="327.00" y2="26.90" stroke="#ff0000" stroke-width="1.5" />
<rect x="318.65" y="25.20" width="3.4" height="3.4" fill="#ff0000"/>
<text x="328.60" y="29.00" font-size="6.0" fill="#000" text-anchor="start" stroke="#000" stroke-width="0.15" >FS-PMUT (sealed groove)</text>
<line x1="313.50" y1="34.30" x2="319.00" y2="34.30" stroke="#000" stroke-width="1.1" />
<line x1="322.80" y1="34.30" x2="327.00" y2="34.30" stroke="#000" stroke-width="1.1" />
<circle cx="320.35" cy="34.30" r="1.8" fill="#000"/>
<text x="328.60" y="36.40" font-size="6.0" fill="#000" text-anchor="start" stroke="#000" stroke-width="0.15" >FS-PMUT (open groove)</text>
<line x1="313.50" y1="41.70" x2="319.00" y2="41.70" stroke="#ff0000" stroke-width="1.1" />
<line x1="322.80" y1="41.70" x2="327.00" y2="41.70" stroke="#ff0000" stroke-width="1.1" />
<circle cx="320.35" cy="41.70" r="1.8" fill="#ff0000"/>
<text x="328.60" y="43.80" font-size="6.0" fill="#000" text-anchor="start" stroke="#000" stroke-width="0.15" >FS-PMUT (open groove)</text>
<polygon points="34.20,346.80 34.20,255.00 90.40,199.50 90.40,275.20" fill="#f2f8fd"/>
<rect x="90.4" y="199.5" width="139.2" height="75.69999999999999" fill="#fefdea"/>
<polygon points="34.20,346.80 201.80,346.80 229.60,275.20 90.40,275.20" fill="#f4f4f5"/>
<line x1="34.20" y1="255.00" x2="90.40" y2="199.50" stroke="#555" stroke-width="0.8" />
<line x1="90.40" y1="199.50" x2="229.60" y2="199.50" stroke="#777" stroke-width="1.1" />
<line x1="229.60" y1="199.50" x2="229.60" y2="275.20" stroke="#999" stroke-width="1.1" />
<line x1="90.40" y1="199.50" x2="90.40" y2="275.20" stroke="#c4c4d4" stroke-width="1.0" />
<line x1="90.40" y1="275.20" x2="229.60" y2="275.20" stroke="#a8a8a8" stroke-width="1.0" />
<line x1="34.20" y1="346.80" x2="90.40" y2="275.20" stroke="#666" stroke-width="0.7" />
<line x1="62.13" y1="346.80" x2="113.60" y2="275.20" stroke="#b4b4b4" stroke-width="0.6" />
<line x1="90.07" y1="346.80" x2="136.80" y2="275.20" stroke="#b4b4b4" stroke-width="0.6" />
<line x1="118.00" y1="346.80" x2="160.00" y2="275.20" stroke="#b4b4b4" stroke-width="0.6" />
<line x1="145.93" y1="346.80" x2="183.20" y2="275.20" stroke="#b4b4b4" stroke-width="0.6" />
<line x1="173.87" y1="346.80" x2="206.40" y2="275.20" stroke="#b4b4b4" stroke-width="0.6" />
<path d="M85.77,281.10 L85.8,281.1 L136.2,281.0 L154.2,280.9 L163.4,280.7 L169.0,280.5 L172.8,280.4 L175.5,280.2 L177.6,280.0 L179.2,279.8 L180.5,279.6 L181.5,279.4 L182.4,279.3 L183.2,279.1 L183.8,278.9 L184.4,278.7 L184.9,278.5 L185.3,278.3 L185.7,278.1 L186.1,277.9 L186.4,277.7 L186.7,277.5 L186.9,277.3 L187.2,277.1 L187.4,276.9 L187.6,276.6 L187.8,276.4 L188.0,276.2 L188.2,276.0 L188.3,275.8 L188.5,275.5 L188.6,275.3 L188.7,275.1 L188.9,274.9 L189.0,274.6 L189.1,274.4 L189.2,274.1 L189.3,273.9 L189.4,273.6 L189.5,273.4 L189.6,273.1 L189.7,272.9 L189.8,272.6 L189.8,272.3 L189.9,272.0 L190.0,271.8 L190.1,271.5 L190.1,271.2 L190.2,270.9 L190.3,270.6 L190.3,270.3 L190.4,270.0 L190.5,269.7 L190.5,269.4 L190.6,269.1 L190.6,268.7 L190.7,268.4 L190.8,268.1 L190.8,267.8 L190.9,267.4 L190.9,267.1 L191.0,266.8 L191.0,266.4 L191.1,266.1 L191.1,265.8 L191.2,265.5 L191.2,265.2 L191.3,264.9 L191.3,264.6 L191.4,264.3 L191.4,264.0 L191.4,263.7 L191.5,263.5 L191.5,263.2 L191.6,263.0 L191.6,262.8 L191.7,262.7 L191.7,262.5 L191.7,262.4 L191.8,262.3 L191.8,262.2 L191.9,262.2 L191.9,262.2 L191.9,262.2 L192.0,262.2 L192.0,262.2 L192.0,262.3 L192.1,262.4 L192.1,262.5 L192.2,262.7 L192.2,262.9 L192.3,263.1 L192.3,263.3 L192.4,263.5 L192.4,263.8 L192.4,264.0 L192.5,264.3 L192.5,264.6 L192.6,264.9 L192.6,265.2 L192.7,265.5 L192.7,265.8 L192.8,266.2 L192.8,266.5 L192.9,266.8 L192.9,267.1 L193.0,267.5 L193.0,267.8 L193.1,268.1 L193.1,268.5 L193.2,268.8 L193.2,269.1 L193.3,269.4 L193.4,269.7 L193.4,270.0 L193.5,270.3 L193.6,270.7 L193.6,270.9 L193.7,271.2 L193.8,271.5 L193.8,271.8 L193.9,272.1 L194.0,272.4 L194.1,272.6 L194.1,272.9 L194.2,273.2 L194.3,273.4 L194.4,273.7 L194.5,273.9 L194.6,274.2 L194.7,274.4 L194.8,274.7 L195.0,274.9 L195.1,275.2 L195.2,275.4 L195.4,275.6 L195.5,275.8 L195.7,276.1 L195.8,276.3 L196.0,276.5 L196.2,276.7 L196.4,276.9 L196.6,277.1 L196.9,277.4 L197.1,277.6 L197.4,277.8 L197.7,278.0 L198.1,278.2 L198.5,278.4 L198.9,278.6 L199.4,278.8 L199.9,279.0 L200.5,279.2 L201.3,279.4 L202.1,279.5 L203.2,279.7 L204.4,279.9 L205.9,280.1 L207.9,280.3 L210.4,280.5 L213.9,280.7 L219.1,280.9 L227.3,281.1 L227.31,281.10 Z" fill="#ff6b6b" fill-opacity="0.85" stroke="none"/>
<path d="M85.8,281.1 L136.2,281.0 L154.2,280.9 L163.4,280.7 L169.0,280.5 L172.8,280.4 L175.5,280.2 L177.6,280.0 L179.2,279.8 L180.5,279.6 L181.5,279.4 L182.4,279.3 L183.2,279.1 L183.8,278.9 L184.4,278.7 L184.9,278.5 L185.3,278.3 L185.7,278.1 L186.1,277.9 L186.4,277.7 L186.7,277.5 L186.9,277.3 L187.2,277.1 L187.4,276.9 L187.6,276.6 L187.8,276.4 L188.0,276.2 L188.2,276.0 L188.3,275.8 L188.5,275.5 L188.6,275.3 L188.7,275.1 L188.9,274.9 L189.0,274.6 L189.1,274.4 L189.2,274.1 L189.3,273.9 L189.4,273.6 L189.5,273.4 L189.6,273.1 L189.7,272.9 L189.8,272.6 L189.8,272.3 L189.9,272.0 L190.0,271.8 L190.1,271.5 L190.1,271.2 L190.2,270.9 L190.3,270.6 L190.3,270.3 L190.4,270.0 L190.5,269.7 L190.5,269.4 L190.6,269.1 L190.6,268.7 L190.7,268.4 L190.8,268.1 L190.8,267.8 L190.9,267.4 L190.9,267.1 L191.0,266.8 L191.0,266.4 L191.1,266.1 L191.1,265.8 L191.2,265.5 L191.2,265.2 L191.3,264.9 L191.3,264.6 L191.4,264.3 L191.4,264.0 L191.4,263.7 L191.5,263.5 L191.5,263.2 L191.6,263.0 L191.6,262.8 L191.7,262.7 L191.7,262.5 L191.7,262.4 L191.8,262.3 L191.8,262.2 L191.9,262.2 L191.9,262.2 L191.9,262.2 L192.0,262.2 L192.0,262.2 L192.0,262.3 L192.1,262.4 L192.1,262.5 L192.2,262.7 L192.2,262.9 L192.3,263.1 L192.3,263.3 L192.4,263.5 L192.4,263.8 L192.4,264.0 L192.5,264.3 L192.5,264.6 L192.6,264.9 L192.6,265.2 L192.7,265.5 L192.7,265.8 L192.8,266.2 L192.8,266.5 L192.9,266.8 L192.9,267.1 L193.0,267.5 L193.0,267.8 L193.1,268.1 L193.1,268.5 L193.2,268.8 L193.2,269.1 L193.3,269.4 L193.4,269.7 L193.4,270.0 L193.5,270.3 L193.6,270.7 L193.6,270.9 L193.7,271.2 L193.8,271.5 L193.8,271.8 L193.9,272.1 L194.0,272.4 L194.1,272.6 L194.1,272.9 L194.2,273.2 L194.3,273.4 L194.4,273.7 L194.5,273.9 L194.6,274.2 L194.7,274.4 L194.8,274.7 L195.0,274.9 L195.1,275.2 L195.2,275.4 L195.4,275.6 L195.5,275.8 L195.7,276.1 L195.8,276.3 L196.0,276.5 L196.2,276.7 L196.4,276.9 L196.6,277.1 L196.9,277.4 L197.1,277.6 L197.4,277.8 L197.7,278.0 L198.1,278.2 L198.5,278.4 L198.9,278.6 L199.4,278.8 L199.9,279.0 L200.5,279.2 L201.3,279.4 L202.1,279.5 L203.2,279.7 L204.4,279.9 L205.9,280.1 L207.9,280.3 L210.4,280.5 L213.9,280.7 L219.1,280.9 L227.3,281.1" fill="none" stroke="#f68a80" stroke-width="0.9" stroke-linejoin="round"/>
<text x="194.80" y="260.30" font-size="11.4" fill="#ff2222" text-anchor="middle" stroke="#ff2222" stroke-width="0.4" >0.63</text>
<path d="M75.49,294.20 L75.5,294.2 L113.2,294.0 L127.9,293.8 L135.6,293.5 L140.4,293.3 L143.7,293.1 L146.1,292.9 L147.9,292.6 L149.3,292.4 L150.5,292.2 L151.4,292.0 L152.2,291.7 L152.9,291.5 L153.5,291.3 L154.0,291.0 L154.4,290.8 L154.8,290.6 L155.2,290.3 L155.5,290.1 L155.8,289.8 L156.1,289.6 L156.3,289.4 L156.5,289.1 L156.7,288.8 L156.9,288.6 L157.1,288.3 L157.3,288.1 L157.4,287.8 L157.6,287.5 L157.7,287.3 L157.8,287.0 L157.9,286.7 L158.1,286.4 L158.2,286.1 L158.3,285.9 L158.4,285.6 L158.5,285.3 L158.6,285.0 L158.6,284.7 L158.7,284.3 L158.8,284.0 L158.9,283.7 L159.0,283.4 L159.0,283.0 L159.1,282.7 L159.2,282.4 L159.2,282.0 L159.3,281.7 L159.4,281.3 L159.4,280.9 L159.5,280.6 L159.5,280.2 L159.6,279.8 L159.6,279.4 L159.7,279.0 L159.7,278.7 L159.8,278.3 L159.8,277.9 L159.9,277.5 L159.9,277.1 L160.0,276.7 L160.0,276.3 L160.1,275.9 L160.1,275.5 L160.2,275.2 L160.2,274.8 L160.3,274.4 L160.3,274.1 L160.3,273.7 L160.4,273.4 L160.4,273.1 L160.5,272.8 L160.5,272.6 L160.5,272.3 L160.6,272.1 L160.6,272.0 L160.7,271.8 L160.7,271.7 L160.7,271.6 L160.8,271.5 L160.8,271.5 L160.8,271.5 L160.9,271.5 L160.9,271.6 L160.9,271.7 L161.0,271.8 L161.0,271.9 L161.1,272.1 L161.1,272.3 L161.2,272.5 L161.2,272.8 L161.2,273.1 L161.3,273.4 L161.3,273.7 L161.4,274.0 L161.4,274.4 L161.4,274.7 L161.5,275.1 L161.5,275.5 L161.6,275.8 L161.6,276.2 L161.7,276.6 L161.7,277.0 L161.8,277.4 L161.8,277.8 L161.9,278.2 L161.9,278.6 L162.0,279.0 L162.0,279.4 L162.1,279.8 L162.1,280.1 L162.2,280.5 L162.2,280.9 L162.3,281.2 L162.4,281.6 L162.4,282.0 L162.5,282.3 L162.5,282.7 L162.6,283.0 L162.7,283.3 L162.8,283.7 L162.8,284.0 L162.9,284.3 L163.0,284.6 L163.1,284.9 L163.2,285.2 L163.3,285.5 L163.4,285.8 L163.5,286.1 L163.6,286.4 L163.7,286.7 L163.8,287.0 L163.9,287.3 L164.1,287.5 L164.2,287.8 L164.3,288.1 L164.5,288.3 L164.7,288.6 L164.9,288.8 L165.1,289.1 L165.3,289.3 L165.5,289.6 L165.7,289.8 L166.0,290.1 L166.3,290.3 L166.7,290.6 L167.0,290.8 L167.5,291.0 L167.9,291.3 L168.5,291.5 L169.1,291.7 L169.8,292.0 L170.7,292.2 L171.8,292.4 L173.0,292.6 L174.6,292.9 L176.7,293.1 L179.5,293.3 L183.4,293.5 L189.5,293.8 L199.9,294.0 L222.2,294.2 L222.22,294.20 Z" fill="#6a6a6a" fill-opacity="0.85" stroke="none"/>
<path d="M75.5,294.2 L113.2,294.0 L127.9,293.8 L135.6,293.5 L140.4,293.3 L143.7,293.1 L146.1,292.9 L147.9,292.6 L149.3,292.4 L150.5,292.2 L151.4,292.0 L152.2,291.7 L152.9,291.5 L153.5,291.3 L154.0,291.0 L154.4,290.8 L154.8,290.6 L155.2,290.3 L155.5,290.1 L155.8,289.8 L156.1,289.6 L156.3,289.4 L156.5,289.1 L156.7,288.8 L156.9,288.6 L157.1,288.3 L157.3,288.1 L157.4,287.8 L157.6,287.5 L157.7,287.3 L157.8,287.0 L157.9,286.7 L158.1,286.4 L158.2,286.1 L158.3,285.9 L158.4,285.6 L158.5,285.3 L158.6,285.0 L158.6,284.7 L158.7,284.3 L158.8,284.0 L158.9,283.7 L159.0,283.4 L159.0,283.0 L159.1,282.7 L159.2,282.4 L159.2,282.0 L159.3,281.7 L159.4,281.3 L159.4,280.9 L159.5,280.6 L159.5,280.2 L159.6,279.8 L159.6,279.4 L159.7,279.0 L159.7,278.7 L159.8,278.3 L159.8,277.9 L159.9,277.5 L159.9,277.1 L160.0,276.7 L160.0,276.3 L160.1,275.9 L160.1,275.5 L160.2,275.2 L160.2,274.8 L160.3,274.4 L160.3,274.1 L160.3,273.7 L160.4,273.4 L160.4,273.1 L160.5,272.8 L160.5,272.6 L160.5,272.3 L160.6,272.1 L160.6,272.0 L160.7,271.8 L160.7,271.7 L160.7,271.6 L160.8,271.5 L160.8,271.5 L160.8,271.5 L160.9,271.5 L160.9,271.6 L160.9,271.7 L161.0,271.8 L161.0,271.9 L161.1,272.1 L161.1,272.3 L161.2,272.5 L161.2,272.8 L161.2,273.1 L161.3,273.4 L161.3,273.7 L161.4,274.0 L161.4,274.4 L161.4,274.7 L161.5,275.1 L161.5,275.5 L161.6,275.8 L161.6,276.2 L161.7,276.6 L161.7,277.0 L161.8,277.4 L161.8,277.8 L161.9,278.2 L161.9,278.6 L162.0,279.0 L162.0,279.4 L162.1,279.8 L162.1,280.1 L162.2,280.5 L162.2,280.9 L162.3,281.2 L162.4,281.6 L162.4,282.0 L162.5,282.3 L162.5,282.7 L162.6,283.0 L162.7,283.3 L162.8,283.7 L162.8,284.0 L162.9,284.3 L163.0,284.6 L163.1,284.9 L163.2,285.2 L163.3,285.5 L163.4,285.8 L163.5,286.1 L163.6,286.4 L163.7,286.7 L163.8,287.0 L163.9,287.3 L164.1,287.5 L164.2,287.8 L164.3,288.1 L164.5,288.3 L164.7,288.6 L164.9,288.8 L165.1,289.1 L165.3,289.3 L165.5,289.6 L165.7,289.8 L166.0,290.1 L166.3,290.3 L166.7,290.6 L167.0,290.8 L167.5,291.0 L167.9,291.3 L168.5,291.5 L169.1,291.7 L169.8,292.0 L170.7,292.2 L171.8,292.4 L173.0,292.6 L174.6,292.9 L176.7,293.1 L179.5,293.3 L183.4,293.5 L189.5,293.8 L199.9,294.0 L222.2,294.2" fill="none" stroke="#acacac" stroke-width="0.9" stroke-linejoin="round"/>
<text x="162.40" y="269.60" font-size="11.4" fill="#3a3a3a" text-anchor="middle" stroke="#3a3a3a" stroke-width="0.4" >0.72</text>
<path d="M64.97,307.60 L65.0,307.6 L92.5,307.2 L104.2,306.8 L110.7,306.5 L114.8,306.1 L117.6,305.8 L119.7,305.4 L121.3,305.0 L122.6,304.7 L123.6,304.3 L124.5,304.0 L125.2,303.6 L125.8,303.2 L126.4,302.9 L126.8,302.5 L127.2,302.1 L127.6,301.8 L127.9,301.4 L128.2,301.0 L128.5,300.6 L128.7,300.2 L128.9,299.8 L129.1,299.4 L129.3,299.1 L129.5,298.6 L129.7,298.2 L129.8,297.8 L130.0,297.4 L130.1,297.0 L130.2,296.6 L130.3,296.1 L130.4,295.7 L130.6,295.2 L130.7,294.8 L130.8,294.3 L130.8,293.9 L130.9,293.4 L131.0,292.9 L131.1,292.4 L131.2,291.9 L131.2,291.4 L131.3,290.9 L131.4,290.4 L131.5,289.9 L131.5,289.3 L131.6,288.8 L131.6,288.2 L131.7,287.7 L131.8,287.1 L131.8,286.5 L131.9,286.0 L131.9,285.4 L132.0,284.8 L132.0,284.2 L132.1,283.6 L132.1,282.9 L132.2,282.3 L132.2,281.7 L132.3,281.1 L132.3,280.5 L132.4,279.9 L132.4,279.2 L132.4,278.6 L132.5,278.0 L132.5,277.4 L132.6,276.9 L132.6,276.3 L132.6,275.8 L132.7,275.2 L132.7,274.7 L132.8,274.3 L132.8,273.8 L132.8,273.5 L132.9,273.1 L132.9,272.8 L133.0,272.5 L133.0,272.3 L133.0,272.1 L133.1,272.0 L133.1,271.9 L133.1,271.9 L133.1,271.9 L133.2,272.0 L133.2,272.1 L133.3,272.2 L133.3,272.4 L133.3,272.7 L133.4,272.9 L133.4,273.3 L133.4,273.7 L133.5,274.1 L133.5,274.5 L133.6,275.0 L133.6,275.5 L133.6,276.1 L133.7,276.6 L133.7,277.2 L133.8,277.8 L133.8,278.4 L133.9,279.0 L133.9,279.6 L133.9,280.2 L134.0,280.8 L134.0,281.4 L134.1,282.1 L134.1,282.7 L134.2,283.3 L134.2,283.9 L134.3,284.5 L134.3,285.1 L134.4,285.7 L134.4,286.3 L134.5,286.9 L134.5,287.5 L134.6,288.0 L134.6,288.6 L134.7,289.1 L134.8,289.7 L134.8,290.2 L134.9,290.7 L135.0,291.2 L135.0,291.7 L135.1,292.2 L135.2,292.7 L135.3,293.2 L135.4,293.7 L135.5,294.2 L135.5,294.6 L135.6,295.1 L135.7,295.5 L135.9,296.0 L136.0,296.4 L136.1,296.9 L136.2,297.3 L136.4,297.7 L136.5,298.1 L136.7,298.5 L136.8,298.9 L137.0,299.3 L137.2,299.7 L137.4,300.1 L137.6,300.5 L137.9,300.9 L138.2,301.3 L138.5,301.7 L138.8,302.0 L139.2,302.4 L139.6,302.8 L140.1,303.1 L140.6,303.5 L141.3,303.9 L142.0,304.2 L142.9,304.6 L144.0,304.9 L145.3,305.3 L147.1,305.6 L149.3,306.0 L152.5,306.3 L157.1,306.7 L164.6,307.0 L178.9,307.3 L217.0,307.6 L217.02,307.60 Z" fill="#ffa040" fill-opacity="0.85" stroke="none"/>
<path d="M65.0,307.6 L92.5,307.2 L104.2,306.8 L110.7,306.5 L114.8,306.1 L117.6,305.8 L119.7,305.4 L121.3,305.0 L122.6,304.7 L123.6,304.3 L124.5,304.0 L125.2,303.6 L125.8,303.2 L126.4,302.9 L126.8,302.5 L127.2,302.1 L127.6,301.8 L127.9,301.4 L128.2,301.0 L128.5,300.6 L128.7,300.2 L128.9,299.8 L129.1,299.4 L129.3,299.1 L129.5,298.6 L129.7,298.2 L129.8,297.8 L130.0,297.4 L130.1,297.0 L130.2,296.6 L130.3,296.1 L130.4,295.7 L130.6,295.2 L130.7,294.8 L130.8,294.3 L130.8,293.9 L130.9,293.4 L131.0,292.9 L131.1,292.4 L131.2,291.9 L131.2,291.4 L131.3,290.9 L131.4,290.4 L131.5,289.9 L131.5,289.3 L131.6,288.8 L131.6,288.2 L131.7,287.7 L131.8,287.1 L131.8,286.5 L131.9,286.0 L131.9,285.4 L132.0,284.8 L132.0,284.2 L132.1,283.6 L132.1,282.9 L132.2,282.3 L132.2,281.7 L132.3,281.1 L132.3,280.5 L132.4,279.9 L132.4,279.2 L132.4,278.6 L132.5,278.0 L132.5,277.4 L132.6,276.9 L132.6,276.3 L132.6,275.8 L132.7,275.2 L132.7,274.7 L132.8,274.3 L132.8,273.8 L132.8,273.5 L132.9,273.1 L132.9,272.8 L133.0,272.5 L133.0,272.3 L133.0,272.1 L133.1,272.0 L133.1,271.9 L133.1,271.9 L133.1,271.9 L133.2,272.0 L133.2,272.1 L133.3,272.2 L133.3,272.4 L133.3,272.7 L133.4,272.9 L133.4,273.3 L133.4,273.7 L133.5,274.1 L133.5,274.5 L133.6,275.0 L133.6,275.5 L133.6,276.1 L133.7,276.6 L133.7,277.2 L133.8,277.8 L133.8,278.4 L133.9,279.0 L133.9,279.6 L133.9,280.2 L134.0,280.8 L134.0,281.4 L134.1,282.1 L134.1,282.7 L134.2,283.3 L134.2,283.9 L134.3,284.5 L134.3,285.1 L134.4,285.7 L134.4,286.3 L134.5,286.9 L134.5,287.5 L134.6,288.0 L134.6,288.6 L134.7,289.1 L134.8,289.7 L134.8,290.2 L134.9,290.7 L135.0,291.2 L135.0,291.7 L135.1,292.2 L135.2,292.7 L135.3,293.2 L135.4,293.7 L135.5,294.2 L135.5,294.6 L135.6,295.1 L135.7,295.5 L135.9,296.0 L136.0,296.4 L136.1,296.9 L136.2,297.3 L136.4,297.7 L136.5,298.1 L136.7,298.5 L136.8,298.9 L137.0,299.3 L137.2,299.7 L137.4,300.1 L137.6,300.5 L137.9,300.9 L138.2,301.3 L138.5,301.7 L138.8,302.0 L139.2,302.4 L139.6,302.8 L140.1,303.1 L140.6,303.5 L141.3,303.9 L142.0,304.2 L142.9,304.6 L144.0,304.9 L145.3,305.3 L147.1,305.6 L149.3,306.0 L152.5,306.3 L157.1,306.7 L164.6,307.0 L178.9,307.3 L217.0,307.6" fill="none" stroke="#ffa050" stroke-width="0.9" stroke-linejoin="round"/>
<text x="136.50" y="270.00" font-size="11.4" fill="#ff8a00" text-anchor="middle" stroke="#ff8a00" stroke-width="0.4" >1.09</text>
<path d="M53.51,322.20 L53.5,322.2 L74.9,321.5 L84.7,320.9 L90.3,320.3 L94.0,319.7 L96.6,319.1 L98.5,318.5 L100.0,317.9 L101.1,317.4 L102.1,316.8 L102.9,316.2 L103.6,315.6 L104.1,315.0 L104.6,314.4 L105.1,313.7 L105.5,313.1 L105.8,312.5 L106.1,311.9 L106.4,311.3 L106.6,310.6 L106.9,310.0 L107.1,309.3 L107.3,308.7 L107.5,308.0 L107.6,307.4 L107.8,306.7 L107.9,306.0 L108.1,305.3 L108.2,304.6 L108.3,303.9 L108.4,303.2 L108.5,302.4 L108.6,301.7 L108.7,301.0 L108.8,300.2 L108.9,299.4 L109.0,298.6 L109.1,297.8 L109.2,297.0 L109.2,296.2 L109.3,295.4 L109.4,294.5 L109.4,293.7 L109.5,292.8 L109.6,291.9 L109.6,291.0 L109.7,290.1 L109.7,289.2 L109.8,288.3 L109.9,287.3 L109.9,286.3 L110.0,285.4 L110.0,284.4 L110.1,283.4 L110.1,282.4 L110.1,281.4 L110.2,280.4 L110.2,279.3 L110.3,278.3 L110.3,277.3 L110.4,276.3 L110.4,275.3 L110.5,274.3 L110.5,273.3 L110.5,272.3 L110.6,271.3 L110.6,270.4 L110.7,269.5 L110.7,268.7 L110.7,267.9 L110.8,267.1 L110.8,266.4 L110.8,265.8 L110.9,265.2 L110.9,264.7 L111.0,264.3 L111.0,263.9 L111.0,263.7 L111.1,263.5 L111.1,263.4 L111.1,263.4 L111.1,263.4 L111.2,263.5 L111.2,263.7 L111.2,263.9 L111.3,264.3 L111.3,264.7 L111.4,265.2 L111.4,265.8 L111.4,266.4 L111.5,267.1 L111.5,267.9 L111.5,268.7 L111.6,269.5 L111.6,270.4 L111.7,271.3 L111.7,272.3 L111.7,273.3 L111.8,274.3 L111.8,275.3 L111.9,276.3 L111.9,277.3 L111.9,278.3 L112.0,279.4 L112.0,280.4 L112.1,281.4 L112.1,282.4 L112.2,283.4 L112.2,284.4 L112.3,285.4 L112.3,286.4 L112.4,287.4 L112.4,288.3 L112.5,289.2 L112.5,290.2 L112.6,291.1 L112.7,292.0 L112.7,292.9 L112.8,293.8 L112.9,294.6 L112.9,295.5 L113.0,296.3 L113.1,297.1 L113.1,297.9 L113.2,298.7 L113.3,299.5 L113.4,300.3 L113.5,301.0 L113.6,301.8 L113.7,302.5 L113.8,303.3 L113.9,304.0 L114.0,304.7 L114.1,305.4 L114.3,306.1 L114.4,306.8 L114.6,307.4 L114.7,308.1 L114.9,308.8 L115.1,309.4 L115.3,310.1 L115.5,310.7 L115.8,311.3 L116.0,312.0 L116.3,312.6 L116.7,313.2 L117.1,313.8 L117.5,314.4 L118.0,315.0 L118.5,315.6 L119.2,316.2 L119.9,316.8 L120.8,317.4 L121.9,318.0 L123.3,318.6 L125.1,319.1 L127.4,319.7 L130.7,320.3 L135.7,320.8 L144.0,321.4 L160.6,321.9 L211.4,322.2 L211.35,322.20 Z" fill="#3c3cff" fill-opacity="0.85" stroke="none"/>
<path d="M53.5,322.2 L74.9,321.5 L84.7,320.9 L90.3,320.3 L94.0,319.7 L96.6,319.1 L98.5,318.5 L100.0,317.9 L101.1,317.4 L102.1,316.8 L102.9,316.2 L103.6,315.6 L104.1,315.0 L104.6,314.4 L105.1,313.7 L105.5,313.1 L105.8,312.5 L106.1,311.9 L106.4,311.3 L106.6,310.6 L106.9,310.0 L107.1,309.3 L107.3,308.7 L107.5,308.0 L107.6,307.4 L107.8,306.7 L107.9,306.0 L108.1,305.3 L108.2,304.6 L108.3,303.9 L108.4,303.2 L108.5,302.4 L108.6,301.7 L108.7,301.0 L108.8,300.2 L108.9,299.4 L109.0,298.6 L109.1,297.8 L109.2,297.0 L109.2,296.2 L109.3,295.4 L109.4,294.5 L109.4,293.7 L109.5,292.8 L109.6,291.9 L109.6,291.0 L109.7,290.1 L109.7,289.2 L109.8,288.3 L109.9,287.3 L109.9,286.3 L110.0,285.4 L110.0,284.4 L110.1,283.4 L110.1,282.4 L110.1,281.4 L110.2,280.4 L110.2,279.3 L110.3,278.3 L110.3,277.3 L110.4,276.3 L110.4,275.3 L110.5,274.3 L110.5,273.3 L110.5,272.3 L110.6,271.3 L110.6,270.4 L110.7,269.5 L110.7,268.7 L110.7,267.9 L110.8,267.1 L110.8,266.4 L110.8,265.8 L110.9,265.2 L110.9,264.7 L111.0,264.3 L111.0,263.9 L111.0,263.7 L111.1,263.5 L111.1,263.4 L111.1,263.4 L111.1,263.4 L111.2,263.5 L111.2,263.7 L111.2,263.9 L111.3,264.3 L111.3,264.7 L111.4,265.2 L111.4,265.8 L111.4,266.4 L111.5,267.1 L111.5,267.9 L111.5,268.7 L111.6,269.5 L111.6,270.4 L111.7,271.3 L111.7,272.3 L111.7,273.3 L111.8,274.3 L111.8,275.3 L111.9,276.3 L111.9,277.3 L111.9,278.3 L112.0,279.4 L112.0,280.4 L112.1,281.4 L112.1,282.4 L112.2,283.4 L112.2,284.4 L112.3,285.4 L112.3,286.4 L112.4,287.4 L112.4,288.3 L112.5,289.2 L112.5,290.2 L112.6,291.1 L112.7,292.0 L112.7,292.9 L112.8,293.8 L112.9,294.6 L112.9,295.5 L113.0,296.3 L113.1,297.1 L113.1,297.9 L113.2,298.7 L113.3,299.5 L113.4,300.3 L113.5,301.0 L113.6,301.8 L113.7,302.5 L113.8,303.3 L113.9,304.0 L114.0,304.7 L114.1,305.4 L114.3,306.1 L114.4,306.8 L114.6,307.4 L114.7,308.1 L114.9,308.8 L115.1,309.4 L115.3,310.1 L115.5,310.7 L115.8,311.3 L116.0,312.0 L116.3,312.6 L116.7,313.2 L117.1,313.8 L117.5,314.4 L118.0,315.0 L118.5,315.6 L119.2,316.2 L119.9,316.8 L120.8,317.4 L121.9,318.0 L123.3,318.6 L125.1,319.1 L127.4,319.7 L130.7,320.3 L135.7,320.8 L144.0,321.4 L160.6,321.9 L211.4,322.2" fill="none" stroke="#3a3aff" stroke-width="0.9" stroke-linejoin="round"/>
<text x="112.90" y="261.40" font-size="11.4" fill="#0000ff" text-anchor="middle" stroke="#0000ff" stroke-width="0.4" >1.73</text>
<path d="M41.26,337.80 L41.3,337.8 L59.0,337.2 L67.7,336.6 L72.8,336.0 L76.2,335.4 L78.6,334.8 L80.4,334.2 L81.8,333.7 L82.9,333.1 L83.8,332.5 L84.6,331.9 L85.3,331.4 L85.8,330.8 L86.3,330.2 L86.7,329.6 L87.1,329.0 L87.4,328.4 L87.7,327.8 L88.0,327.2 L88.3,326.6 L88.5,325.9 L88.7,325.3 L88.9,324.7 L89.1,324.0 L89.2,323.4 L89.4,322.7 L89.5,322.1 L89.6,321.4 L89.8,320.7 L89.9,320.0 L90.0,319.3 L90.1,318.6 L90.2,317.9 L90.3,317.2 L90.4,316.5 L90.5,315.7 L90.6,314.9 L90.6,314.2 L90.7,313.4 L90.8,312.6 L90.9,311.8 L90.9,311.0 L91.0,310.1 L91.1,309.3 L91.1,308.4 L91.2,307.6 L91.2,306.7 L91.3,305.8 L91.4,304.9 L91.4,303.9 L91.5,303.0 L91.5,302.1 L91.6,301.1 L91.6,300.1 L91.7,299.2 L91.7,298.2 L91.7,297.2 L91.8,296.2 L91.8,295.2 L91.9,294.2 L91.9,293.2 L92.0,292.3 L92.0,291.3 L92.0,290.3 L92.1,289.4 L92.1,288.5 L92.2,287.6 L92.2,286.8 L92.2,285.9 L92.3,285.2 L92.3,284.4 L92.3,283.8 L92.4,283.2 L92.4,282.6 L92.5,282.1 L92.5,281.7 L92.5,281.4 L92.6,281.2 L92.6,281.0 L92.6,280.9 L92.7,280.9 L92.7,281.0 L92.7,281.1 L92.8,281.2 L92.8,281.5 L92.8,281.9 L92.9,282.3 L92.9,282.8 L92.9,283.3 L93.0,284.0 L93.0,284.7 L93.0,285.4 L93.1,286.2 L93.1,287.0 L93.2,287.9 L93.2,288.8 L93.2,289.7 L93.3,290.6 L93.3,291.6 L93.4,292.6 L93.4,293.6 L93.4,294.5 L93.5,295.5 L93.5,296.5 L93.6,297.5 L93.6,298.5 L93.7,299.5 L93.7,300.5 L93.8,301.4 L93.8,302.4 L93.9,303.3 L93.9,304.3 L94.0,305.2 L94.0,306.1 L94.1,307.0 L94.1,307.9 L94.2,308.7 L94.3,309.6 L94.3,310.4 L94.4,311.3 L94.5,312.1 L94.5,312.9 L94.6,313.7 L94.7,314.5 L94.8,315.3 L94.8,316.0 L94.9,316.8 L95.0,317.5 L95.1,318.2 L95.2,318.9 L95.3,319.6 L95.4,320.3 L95.6,321.0 L95.7,321.7 L95.8,322.4 L96.0,323.0 L96.1,323.7 L96.3,324.3 L96.5,325.0 L96.6,325.6 L96.8,326.2 L97.1,326.8 L97.3,327.4 L97.6,328.1 L97.9,328.7 L98.2,329.3 L98.6,329.8 L99.0,330.4 L99.5,331.0 L100.1,331.6 L100.7,332.2 L101.5,332.7 L102.4,333.3 L103.5,333.9 L105.0,334.4 L106.8,335.0 L109.2,335.5 L112.6,336.1 L117.8,336.6 L126.6,337.1 L144.9,337.6 L205.3,337.8 L205.29,337.80 Z" fill="#3fa83f" fill-opacity="0.85" stroke="none"/>
<path d="M41.3,337.8 L59.0,337.2 L67.7,336.6 L72.8,336.0 L76.2,335.4 L78.6,334.8 L80.4,334.2 L81.8,333.7 L82.9,333.1 L83.8,332.5 L84.6,331.9 L85.3,331.4 L85.8,330.8 L86.3,330.2 L86.7,329.6 L87.1,329.0 L87.4,328.4 L87.7,327.8 L88.0,327.2 L88.3,326.6 L88.5,325.9 L88.7,325.3 L88.9,324.7 L89.1,324.0 L89.2,323.4 L89.4,322.7 L89.5,322.1 L89.6,321.4 L89.8,320.7 L89.9,320.0 L90.0,319.3 L90.1,318.6 L90.2,317.9 L90.3,317.2 L90.4,316.5 L90.5,315.7 L90.6,314.9 L90.6,314.2 L90.7,313.4 L90.8,312.6 L90.9,311.8 L90.9,311.0 L91.0,310.1 L91.1,309.3 L91.1,308.4 L91.2,307.6 L91.2,306.7 L91.3,305.8 L91.4,304.9 L91.4,303.9 L91.5,303.0 L91.5,302.1 L91.6,301.1 L91.6,300.1 L91.7,299.2 L91.7,298.2 L91.7,297.2 L91.8,296.2 L91.8,295.2 L91.9,294.2 L91.9,293.2 L92.0,292.3 L92.0,291.3 L92.0,290.3 L92.1,289.4 L92.1,288.5 L92.2,287.6 L92.2,286.8 L92.2,285.9 L92.3,285.2 L92.3,284.4 L92.3,283.8 L92.4,283.2 L92.4,282.6 L92.5,282.1 L92.5,281.7 L92.5,281.4 L92.6,281.2 L92.6,281.0 L92.6,280.9 L92.7,280.9 L92.7,281.0 L92.7,281.1 L92.8,281.2 L92.8,281.5 L92.8,281.9 L92.9,282.3 L92.9,282.8 L92.9,283.3 L93.0,284.0 L93.0,284.7 L93.0,285.4 L93.1,286.2 L93.1,287.0 L93.2,287.9 L93.2,288.8 L93.2,289.7 L93.3,290.6 L93.3,291.6 L93.4,292.6 L93.4,293.6 L93.4,294.5 L93.5,295.5 L93.5,296.5 L93.6,297.5 L93.6,298.5 L93.7,299.5 L93.7,300.5 L93.8,301.4 L93.8,302.4 L93.9,303.3 L93.9,304.3 L94.0,305.2 L94.0,306.1 L94.1,307.0 L94.1,307.9 L94.2,308.7 L94.3,309.6 L94.3,310.4 L94.4,311.3 L94.5,312.1 L94.5,312.9 L94.6,313.7 L94.7,314.5 L94.8,315.3 L94.8,316.0 L94.9,316.8 L95.0,317.5 L95.1,318.2 L95.2,318.9 L95.3,319.6 L95.4,320.3 L95.6,321.0 L95.7,321.7 L95.8,322.4 L96.0,323.0 L96.1,323.7 L96.3,324.3 L96.5,325.0 L96.6,325.6 L96.8,326.2 L97.1,326.8 L97.3,327.4 L97.6,328.1 L97.9,328.7 L98.2,329.3 L98.6,329.8 L99.0,330.4 L99.5,331.0 L100.1,331.6 L100.7,332.2 L101.5,332.7 L102.4,333.3 L103.5,333.9 L105.0,334.4 L106.8,335.0 L109.2,335.5 L112.6,336.1 L117.8,336.6 L126.6,337.1 L144.9,337.6 L205.3,337.8" fill="none" stroke="#4cae4c" stroke-width="0.9" stroke-linejoin="round"/>
<text x="93.60" y="279.20" font-size="11.4" fill="#1d8a1d" text-anchor="middle" stroke="#1d8a1d" stroke-width="0.4" >1.61</text>
<line x1="34.20" y1="346.80" x2="201.80" y2="346.80" stroke="#111" stroke-width="1.9" />
<line x1="34.20" y1="255.00" x2="34.20" y2="347.70" stroke="#111" stroke-width="1.9" />
<line x1="201.80" y1="346.80" x2="229.60" y2="275.20" stroke="#111" stroke-width="1.5" />
<line x1="34.20" y1="346.80" x2="34.20" y2="342.80" stroke="#111" stroke-width="1.2" />
<text x="34.20" y="360.00" font-size="10" fill="#000" text-anchor="middle" stroke="#000" stroke-width="0.4" >50</text>
<line x1="48.17" y1="346.80" x2="48.17" y2="344.10" stroke="#111" stroke-width="1.2" />
<line x1="62.13" y1="346.80" x2="62.13" y2="342.80" stroke="#111" stroke-width="1.2" />
<text x="62.13" y="360.00" font-size="10" fill="#000" text-anchor="middle" stroke="#000" stroke-width="0.4" >60</text>
<line x1="76.10" y1="346.80" x2="76.10" y2="344.10" stroke="#111" stroke-width="1.2" />
<line x1="90.07" y1="346.80" x2="90.07" y2="342.80" stroke="#111" stroke-width="1.2" />
<text x="90.07" y="360.00" font-size="10" fill="#000" text-anchor="middle" stroke="#000" stroke-width="0.4" >70</text>
<line x1="104.03" y1="346.80" x2="104.03" y2="344.10" stroke="#111" stroke-width="1.2" />
<line x1="118.00" y1="346.80" x2="118.00" y2="342.80" stroke="#111" stroke-width="1.2" />
<text x="118.00" y="360.00" font-size="10" fill="#000" text-anchor="middle" stroke="#000" stroke-width="0.4" >80</text>
<line x1="131.97" y1="346.80" x2="131.97" y2="344.10" stroke="#111" stroke-width="1.2" />
<line x1="145.93" y1="346.80" x2="145.93" y2="342.80" stroke="#111" stroke-width="1.2" />
<text x="145.93" y="360.00" font-size="10" fill="#000" text-anchor="middle" stroke="#000" stroke-width="0.4" >90</text>
<line x1="159.90" y1="346.80" x2="159.90" y2="344.10" stroke="#111" stroke-width="1.2" />
<line x1="173.87" y1="346.80" x2="173.87" y2="342.80" stroke="#111" stroke-width="1.2" />
<text x="173.87" y="360.00" font-size="10" fill="#000" text-anchor="middle" stroke="#000" stroke-width="0.4" >100</text>
<line x1="187.83" y1="346.80" x2="187.83" y2="344.10" stroke="#111" stroke-width="1.2" />
<line x1="201.80" y1="346.80" x2="201.80" y2="342.80" stroke="#111" stroke-width="1.2" />
<text x="201.80" y="360.00" font-size="10" fill="#000" text-anchor="middle" stroke="#000" stroke-width="0.4" >110</text>
<line x1="34.20" y1="346.80" x2="38.20" y2="346.80" stroke="#111" stroke-width="1.3" />
<text x="31.00" y="351.10" font-size="10" fill="#000" text-anchor="end" stroke="#000" stroke-width="0.4" >0.0</text>
<line x1="34.20" y1="328.44" x2="38.20" y2="328.44" stroke="#111" stroke-width="1.3" />
<text x="31.00" y="332.74" font-size="10" fill="#000" text-anchor="end" stroke="#000" stroke-width="0.4" >0.5</text>
<line x1="34.20" y1="310.08" x2="38.20" y2="310.08" stroke="#111" stroke-width="1.3" />
<text x="31.00" y="314.38" font-size="10" fill="#000" text-anchor="end" stroke="#000" stroke-width="0.4" >1.0</text>
<line x1="34.20" y1="291.72" x2="38.20" y2="291.72" stroke="#111" stroke-width="1.3" />
<text x="31.00" y="296.02" font-size="10" fill="#000" text-anchor="end" stroke="#000" stroke-width="0.4" >1.5</text>
<line x1="34.20" y1="273.36" x2="38.20" y2="273.36" stroke="#111" stroke-width="1.3" />
<text x="31.00" y="277.66" font-size="10" fill="#000" text-anchor="end" stroke="#000" stroke-width="0.4" >2.0</text>
<line x1="34.20" y1="255.00" x2="38.20" y2="255.00" stroke="#111" stroke-width="1.3" />
<text x="31.00" y="259.30" font-size="10" fill="#000" text-anchor="end" stroke="#000" stroke-width="0.4" >2.5</text>
<line x1="205.29" y1="337.80" x2="202.29" y2="337.80" stroke="#111" stroke-width="1.1" />
<line x1="211.35" y1="322.20" x2="208.35" y2="322.20" stroke="#111" stroke-width="1.1" />
<line x1="217.02" y1="307.60" x2="214.02" y2="307.60" stroke="#111" stroke-width="1.1" />
<line x1="222.22" y1="294.20" x2="219.22" y2="294.20" stroke="#111" stroke-width="1.1" />
<line x1="227.31" y1="281.10" x2="224.31" y2="281.10" stroke="#111" stroke-width="1.1" />
<text x="230.50" y="284.80" font-size="8.7" fill="#000" text-anchor="start" stroke="#000" stroke-width="0.4" >traditional</text>
<text x="225.20" y="297.80" font-size="9.0" fill="#000" text-anchor="start" stroke="#000" stroke-width="0.4" >w=10 μm</text>
<text x="220.10" y="311.80" font-size="9.3" fill="#000" text-anchor="start" stroke="#000" stroke-width="0.4" >w=30 μm</text>
<text x="214.70" y="326.50" font-size="9.6" fill="#000" text-anchor="start" stroke="#000" stroke-width="0.4" >w=50 μm</text>
<text x="208.50" y="342.80" font-size="10.0" fill="#000" text-anchor="start" stroke="#000" stroke-width="0.4" >w=70 μm</text>
<text x="117.60" y="372.00" font-size="10.1" fill="#000" text-anchor="middle" stroke="#000" stroke-width="0.4" >Frequency (kHz)</text>
<text transform="translate(14.8,301.3) rotate(-90)" font-size="11.2" text-anchor="middle" stroke="#000" stroke-width="0.4">Transmission sensitivity (Pa/V)</text>
<text x="138.15" y="388.80" font-size="16" fill="#000" text-anchor="middle" stroke="#000" stroke-width="0.5" >(c)</text>
<polygon points="306.00,343.10 306.00,255.10 362.70,201.20 362.70,274.50" fill="#f2f8fd"/>
<rect x="362.7" y="201.2" width="140.7" height="73.30000000000001" fill="#fefdea"/>
<polygon points="306.00,343.10 474.40,343.10 503.40,274.50 362.70,274.50" fill="#f4f4f5"/>
<line x1="306.00" y1="255.10" x2="362.70" y2="201.20" stroke="#555" stroke-width="0.8" />
<line x1="362.70" y1="201.20" x2="503.40" y2="201.20" stroke="#777" stroke-width="1.1" />
<line x1="503.40" y1="201.20" x2="503.40" y2="274.50" stroke="#999" stroke-width="1.1" />
<line x1="362.70" y1="201.20" x2="362.70" y2="274.50" stroke="#c4c4d4" stroke-width="1.0" />
<line x1="362.70" y1="274.50" x2="503.40" y2="274.50" stroke="#a8a8a8" stroke-width="1.0" />
<line x1="306.00" y1="343.10" x2="362.70" y2="274.50" stroke="#666" stroke-width="0.7" />
<line x1="334.07" y1="343.10" x2="386.15" y2="274.50" stroke="#b4b4b4" stroke-width="0.6" />
<line x1="362.13" y1="343.10" x2="409.60" y2="274.50" stroke="#b4b4b4" stroke-width="0.6" />
<line x1="390.20" y1="343.10" x2="433.05" y2="274.50" stroke="#b4b4b4" stroke-width="0.6" />
<line x1="418.27" y1="343.10" x2="456.50" y2="274.50" stroke="#b4b4b4" stroke-width="0.6" />
<line x1="446.33" y1="343.10" x2="479.95" y2="274.50" stroke="#b4b4b4" stroke-width="0.6" />
<path d="M358.02,280.16 L358.0,279.6 L421.7,279.0 L438.0,278.4 L445.4,277.8 L449.7,277.1 L452.4,276.5 L454.4,275.9 L455.8,275.3 L456.9,274.7 L457.8,274.2 L458.5,273.6 L459.1,273.0 L459.6,272.5 L460.0,272.0 L460.4,271.4 L460.7,270.9 L461.0,270.4 L461.3,270.0 L461.5,269.5 L461.7,269.0 L461.9,268.6 L462.1,268.1 L462.2,267.7 L462.4,267.3 L462.5,266.9 L462.6,266.5 L462.8,266.1 L462.9,265.7 L463.0,265.3 L463.1,264.9 L463.2,264.6 L463.2,264.2 L463.3,263.9 L463.4,263.5 L463.5,263.2 L463.5,262.9 L463.6,262.5 L463.7,262.2 L463.7,261.9 L463.8,261.6 L463.8,261.3 L463.9,261.0 L464.0,260.7 L464.0,260.4 L464.0,260.1 L464.1,259.8 L464.1,259.5 L464.2,259.2 L464.2,258.9 L464.3,258.6 L464.3,258.3 L464.3,258.0 L464.4,257.7 L464.4,257.4 L464.5,257.1 L464.5,256.8 L464.5,256.5 L464.6,256.2 L464.6,255.9 L464.6,255.6 L464.7,255.4 L464.7,255.1 L464.7,254.8 L464.8,254.5 L464.8,254.3 L464.8,254.0 L464.8,253.7 L464.9,253.5 L464.9,253.3 L464.9,253.0 L465.0,252.8 L465.0,252.6 L465.0,252.5 L465.0,252.3 L465.1,252.1 L465.1,252.0 L465.1,251.9 L465.2,251.8 L465.2,251.7 L465.2,251.7 L465.2,251.7 L465.3,251.7 L465.3,251.7 L465.3,251.7 L465.3,251.7 L465.4,251.8 L465.4,251.9 L465.4,252.0 L465.4,252.1 L465.5,252.3 L465.5,252.4 L465.5,252.6 L465.5,252.8 L465.6,253.0 L465.6,253.3 L465.6,253.5 L465.7,253.7 L465.7,254.0 L465.7,254.3 L465.8,254.5 L465.8,254.8 L465.8,255.1 L465.8,255.4 L465.9,255.7 L465.9,255.9 L465.9,256.2 L466.0,256.5 L466.0,256.8 L466.0,257.1 L466.1,257.4 L466.1,257.7 L466.2,258.0 L466.2,258.3 L466.2,258.6 L466.3,258.9 L466.3,259.2 L466.4,259.5 L466.4,259.8 L466.5,260.1 L466.5,260.4 L466.6,260.7 L466.6,261.0 L466.7,261.4 L466.7,261.7 L466.8,262.0 L466.8,262.3 L466.9,262.6 L467.0,263.0 L467.0,263.3 L467.1,263.6 L467.2,264.0 L467.2,264.3 L467.3,264.7 L467.4,265.0 L467.5,265.4 L467.6,265.8 L467.7,266.1 L467.8,266.5 L468.0,266.9 L468.1,267.3 L468.2,267.8 L468.4,268.2 L468.5,268.6 L468.7,269.1 L468.9,269.5 L469.2,270.0 L469.4,270.5 L469.7,271.0 L470.0,271.5 L470.3,272.0 L470.8,272.5 L471.2,273.1 L471.8,273.6 L472.5,274.2 L473.3,274.7 L474.3,275.3 L475.6,275.9 L477.3,276.5 L479.7,277.1 L483.3,277.7 L489.3,278.4 L501.0,279.0 L501.01,280.16 Z" fill="#ff6b6b" fill-opacity="0.85" stroke="none"/>
<path d="M358.0,279.6 L421.7,279.0 L438.0,278.4 L445.4,277.8 L449.7,277.1 L452.4,276.5 L454.4,275.9 L455.8,275.3 L456.9,274.7 L457.8,274.2 L458.5,273.6 L459.1,273.0 L459.6,272.5 L460.0,272.0 L460.4,271.4 L460.7,270.9 L461.0,270.4 L461.3,270.0 L461.5,269.5 L461.7,269.0 L461.9,268.6 L462.1,268.1 L462.2,267.7 L462.4,267.3 L462.5,266.9 L462.6,266.5 L462.8,266.1 L462.9,265.7 L463.0,265.3 L463.1,264.9 L463.2,264.6 L463.2,264.2 L463.3,263.9 L463.4,263.5 L463.5,263.2 L463.5,262.9 L463.6,262.5 L463.7,262.2 L463.7,261.9 L463.8,261.6 L463.8,261.3 L463.9,261.0 L464.0,260.7 L464.0,260.4 L464.0,260.1 L464.1,259.8 L464.1,259.5 L464.2,259.2 L464.2,258.9 L464.3,258.6 L464.3,258.3 L464.3,258.0 L464.4,257.7 L464.4,257.4 L464.5,257.1 L464.5,256.8 L464.5,256.5 L464.6,256.2 L464.6,255.9 L464.6,255.6 L464.7,255.4 L464.7,255.1 L464.7,254.8 L464.8,254.5 L464.8,254.3 L464.8,254.0 L464.8,253.7 L464.9,253.5 L464.9,253.3 L464.9,253.0 L465.0,252.8 L465.0,252.6 L465.0,252.5 L465.0,252.3 L465.1,252.1 L465.1,252.0 L465.1,251.9 L465.2,251.8 L465.2,251.7 L465.2,251.7 L465.2,251.7 L465.3,251.7 L465.3,251.7 L465.3,251.7 L465.3,251.7 L465.4,251.8 L465.4,251.9 L465.4,252.0 L465.4,252.1 L465.5,252.3 L465.5,252.4 L465.5,252.6 L465.5,252.8 L465.6,253.0 L465.6,253.3 L465.6,253.5 L465.7,253.7 L465.7,254.0 L465.7,254.3 L465.8,254.5 L465.8,254.8 L465.8,255.1 L465.8,255.4 L465.9,255.7 L465.9,255.9 L465.9,256.2 L466.0,256.5 L466.0,256.8 L466.0,257.1 L466.1,257.4 L466.1,257.7 L466.2,258.0 L466.2,258.3 L466.2,258.6 L466.3,258.9 L466.3,259.2 L466.4,259.5 L466.4,259.8 L466.5,260.1 L466.5,260.4 L466.6,260.7 L466.6,261.0 L466.7,261.4 L466.7,261.7 L466.8,262.0 L466.8,262.3 L466.9,262.6 L467.0,263.0 L467.0,263.3 L467.1,263.6 L467.2,264.0 L467.2,264.3 L467.3,264.7 L467.4,265.0 L467.5,265.4 L467.6,265.8 L467.7,266.1 L467.8,266.5 L468.0,266.9 L468.1,267.3 L468.2,267.8 L468.4,268.2 L468.5,268.6 L468.7,269.1 L468.9,269.5 L469.2,270.0 L469.4,270.5 L469.7,271.0 L470.0,271.5 L470.3,272.0 L470.8,272.5 L471.2,273.1 L471.8,273.6 L472.5,274.2 L473.3,274.7 L474.3,275.3 L475.6,275.9 L477.3,276.5 L479.7,277.1 L483.3,277.7 L489.3,278.4 L501.0,279.0" fill="none" stroke="#f68a80" stroke-width="0.9" stroke-linejoin="round"/>
<text x="465.30" y="251.40" font-size="11.4" fill="#ff2222" text-anchor="middle" stroke="#ff2222" stroke-width="0.4" >6.5</text>
<path d="M348.18,292.07 L348.2,291.6 L396.7,291.1 L410.4,290.7 L416.8,290.2 L420.6,289.7 L423.0,289.2 L424.7,288.8 L426.0,288.3 L427.0,287.9 L427.8,287.4 L428.5,287.0 L429.0,286.6 L429.5,286.2 L429.9,285.7 L430.2,285.3 L430.5,285.0 L430.8,284.6 L431.0,284.2 L431.2,283.8 L431.4,283.5 L431.6,283.1 L431.7,282.8 L431.9,282.5 L432.0,282.2 L432.1,281.8 L432.2,281.5 L432.3,281.2 L432.4,280.9 L432.5,280.7 L432.6,280.4 L432.7,280.1 L432.8,279.8 L432.9,279.6 L432.9,279.3 L433.0,279.1 L433.1,278.8 L433.1,278.6 L433.2,278.3 L433.2,278.1 L433.3,277.8 L433.3,277.6 L433.4,277.3 L433.4,277.1 L433.5,276.9 L433.5,276.6 L433.6,276.4 L433.6,276.2 L433.7,276.0 L433.7,275.7 L433.7,275.5 L433.8,275.3 L433.8,275.0 L433.8,274.8 L433.9,274.6 L433.9,274.4 L433.9,274.1 L434.0,273.9 L434.0,273.7 L434.0,273.5 L434.1,273.3 L434.1,273.0 L434.1,272.8 L434.2,272.6 L434.2,272.4 L434.2,272.2 L434.2,272.0 L434.3,271.8 L434.3,271.6 L434.3,271.5 L434.3,271.3 L434.4,271.1 L434.4,271.0 L434.4,270.9 L434.5,270.7 L434.5,270.6 L434.5,270.5 L434.5,270.5 L434.6,270.4 L434.6,270.3 L434.6,270.3 L434.6,270.3 L434.6,270.3 L434.7,270.3 L434.7,270.3 L434.7,270.4 L434.7,270.5 L434.8,270.5 L434.8,270.6 L434.8,270.7 L434.8,270.9 L434.9,271.0 L434.9,271.1 L434.9,271.3 L434.9,271.5 L435.0,271.6 L435.0,271.8 L435.0,272.0 L435.1,272.2 L435.1,272.4 L435.1,272.6 L435.1,272.8 L435.2,273.1 L435.2,273.3 L435.2,273.5 L435.3,273.7 L435.3,273.9 L435.3,274.2 L435.4,274.4 L435.4,274.6 L435.4,274.9 L435.5,275.1 L435.5,275.3 L435.5,275.5 L435.6,275.8 L435.6,276.0 L435.6,276.2 L435.7,276.5 L435.7,276.7 L435.8,276.9 L435.8,277.2 L435.9,277.4 L435.9,277.6 L436.0,277.9 L436.0,278.1 L436.1,278.4 L436.1,278.6 L436.2,278.9 L436.3,279.1 L436.3,279.4 L436.4,279.6 L436.5,279.9 L436.5,280.2 L436.6,280.5 L436.7,280.7 L436.8,281.0 L436.9,281.3 L437.0,281.6 L437.1,281.9 L437.2,282.2 L437.4,282.5 L437.5,282.9 L437.7,283.2 L437.8,283.5 L438.0,283.9 L438.2,284.3 L438.4,284.6 L438.7,285.0 L439.0,285.4 L439.3,285.8 L439.7,286.2 L440.1,286.6 L440.6,287.0 L441.2,287.5 L442.0,287.9 L442.9,288.3 L444.1,288.8 L445.7,289.3 L447.8,289.7 L451.1,290.2 L456.4,290.7 L466.8,291.1 L496.0,291.6 L495.97,292.07 Z" fill="#6a6a6a" fill-opacity="0.85" stroke="none"/>
<path d="M348.2,291.6 L396.7,291.1 L410.4,290.7 L416.8,290.2 L420.6,289.7 L423.0,289.2 L424.7,288.8 L426.0,288.3 L427.0,287.9 L427.8,287.4 L428.5,287.0 L429.0,286.6 L429.5,286.2 L429.9,285.7 L430.2,285.3 L430.5,285.0 L430.8,284.6 L431.0,284.2 L431.2,283.8 L431.4,283.5 L431.6,283.1 L431.7,282.8 L431.9,282.5 L432.0,282.2 L432.1,281.8 L432.2,281.5 L432.3,281.2 L432.4,280.9 L432.5,280.7 L432.6,280.4 L432.7,280.1 L432.8,279.8 L432.9,279.6 L432.9,279.3 L433.0,279.1 L433.1,278.8 L433.1,278.6 L433.2,278.3 L433.2,278.1 L433.3,277.8 L433.3,277.6 L433.4,277.3 L433.4,277.1 L433.5,276.9 L433.5,276.6 L433.6,276.4 L433.6,276.2 L433.7,276.0 L433.7,275.7 L433.7,275.5 L433.8,275.3 L433.8,275.0 L433.8,274.8 L433.9,274.6 L433.9,274.4 L433.9,274.1 L434.0,273.9 L434.0,273.7 L434.0,273.5 L434.1,273.3 L434.1,273.0 L434.1,272.8 L434.2,272.6 L434.2,272.4 L434.2,272.2 L434.2,272.0 L434.3,271.8 L434.3,271.6 L434.3,271.5 L434.3,271.3 L434.4,271.1 L434.4,271.0 L434.4,270.9 L434.5,270.7 L434.5,270.6 L434.5,270.5 L434.5,270.5 L434.6,270.4 L434.6,270.3 L434.6,270.3 L434.6,270.3 L434.6,270.3 L434.7,270.3 L434.7,270.3 L434.7,270.4 L434.7,270.5 L434.8,270.5 L434.8,270.6 L434.8,270.7 L434.8,270.9 L434.9,271.0 L434.9,271.1 L434.9,271.3 L434.9,271.5 L435.0,271.6 L435.0,271.8 L435.0,272.0 L435.1,272.2 L435.1,272.4 L435.1,272.6 L435.1,272.8 L435.2,273.1 L435.2,273.3 L435.2,273.5 L435.3,273.7 L435.3,273.9 L435.3,274.2 L435.4,274.4 L435.4,274.6 L435.4,274.9 L435.5,275.1 L435.5,275.3 L435.5,275.5 L435.6,275.8 L435.6,276.0 L435.6,276.2 L435.7,276.5 L435.7,276.7 L435.8,276.9 L435.8,277.2 L435.9,277.4 L435.9,277.6 L436.0,277.9 L436.0,278.1 L436.1,278.4 L436.1,278.6 L436.2,278.9 L436.3,279.1 L436.3,279.4 L436.4,279.6 L436.5,279.9 L436.5,280.2 L436.6,280.5 L436.7,280.7 L436.8,281.0 L436.9,281.3 L437.0,281.6 L437.1,281.9 L437.2,282.2 L437.4,282.5 L437.5,282.9 L437.7,283.2 L437.8,283.5 L438.0,283.9 L438.2,284.3 L438.4,284.6 L438.7,285.0 L439.0,285.4 L439.3,285.8 L439.7,286.2 L440.1,286.6 L440.6,287.0 L441.2,287.5 L442.0,287.9 L442.9,288.3 L444.1,288.8 L445.7,289.3 L447.8,289.7 L451.1,290.2 L456.4,290.7 L466.8,291.1 L496.0,291.6" fill="none" stroke="#acacac" stroke-width="0.9" stroke-linejoin="round"/>
<text x="434.80" y="270.00" font-size="11.4" fill="#3a3a3a" text-anchor="middle" stroke="#3a3a3a" stroke-width="0.4" >4.8</text>
<path d="M336.42,306.29 L336.4,305.4 L372.6,304.6 L384.0,303.8 L389.6,303.0 L392.9,302.2 L395.1,301.5 L396.6,300.7 L397.8,299.9 L398.7,299.2 L399.5,298.4 L400.0,297.7 L400.5,297.0 L401.0,296.3 L401.3,295.6 L401.6,295.0 L401.9,294.3 L402.2,293.7 L402.4,293.1 L402.6,292.5 L402.7,291.9 L402.9,291.3 L403.1,290.7 L403.2,290.2 L403.3,289.7 L403.4,289.1 L403.5,288.6 L403.6,288.1 L403.7,287.7 L403.8,287.2 L403.9,286.7 L404.0,286.3 L404.0,285.8 L404.1,285.4 L404.2,284.9 L404.2,284.5 L404.3,284.1 L404.4,283.7 L404.4,283.3 L404.5,282.8 L404.5,282.4 L404.6,282.0 L404.6,281.7 L404.7,281.3 L404.7,280.9 L404.7,280.5 L404.8,280.1 L404.8,279.7 L404.9,279.3 L404.9,279.0 L404.9,278.6 L405.0,278.2 L405.0,277.8 L405.0,277.4 L405.1,277.1 L405.1,276.7 L405.1,276.3 L405.2,275.9 L405.2,275.6 L405.2,275.2 L405.2,274.8 L405.3,274.5 L405.3,274.1 L405.3,273.8 L405.4,273.4 L405.4,273.1 L405.4,272.8 L405.4,272.4 L405.5,272.1 L405.5,271.8 L405.5,271.6 L405.5,271.3 L405.6,271.1 L405.6,270.9 L405.6,270.7 L405.6,270.5 L405.7,270.3 L405.7,270.2 L405.7,270.1 L405.7,270.1 L405.7,270.0 L405.8,270.0 L405.8,270.0 L405.8,270.0 L405.8,270.1 L405.8,270.2 L405.9,270.3 L405.9,270.4 L405.9,270.6 L405.9,270.7 L406.0,271.0 L406.0,271.2 L406.0,271.4 L406.0,271.7 L406.1,272.0 L406.1,272.3 L406.1,272.6 L406.1,272.9 L406.2,273.3 L406.2,273.6 L406.2,274.0 L406.3,274.3 L406.3,274.7 L406.3,275.0 L406.3,275.4 L406.4,275.8 L406.4,276.2 L406.4,276.5 L406.5,276.9 L406.5,277.3 L406.5,277.7 L406.6,278.1 L406.6,278.4 L406.6,278.8 L406.7,279.2 L406.7,279.6 L406.7,280.0 L406.8,280.4 L406.8,280.8 L406.9,281.2 L406.9,281.6 L406.9,281.9 L407.0,282.3 L407.0,282.7 L407.1,283.2 L407.1,283.6 L407.2,284.0 L407.3,284.4 L407.3,284.8 L407.4,285.3 L407.4,285.7 L407.5,286.1 L407.6,286.6 L407.7,287.1 L407.7,287.5 L407.8,288.0 L407.9,288.5 L408.0,289.0 L408.1,289.5 L408.3,290.0 L408.4,290.6 L408.5,291.1 L408.7,291.7 L408.8,292.3 L409.0,292.8 L409.2,293.5 L409.4,294.1 L409.7,294.7 L410.0,295.4 L410.3,296.0 L410.6,296.7 L411.1,297.4 L411.6,298.1 L412.2,298.8 L413.0,299.6 L413.9,300.3 L415.1,301.1 L416.8,301.9 L419.1,302.6 L422.6,303.4 L428.8,304.2 L441.9,305.0 L490.0,305.8 L489.96,306.29 Z" fill="#ffa040" fill-opacity="0.85" stroke="none"/>
<path d="M336.4,305.4 L372.6,304.6 L384.0,303.8 L389.6,303.0 L392.9,302.2 L395.1,301.5 L396.6,300.7 L397.8,299.9 L398.7,299.2 L399.5,298.4 L400.0,297.7 L400.5,297.0 L401.0,296.3 L401.3,295.6 L401.6,295.0 L401.9,294.3 L402.2,293.7 L402.4,293.1 L402.6,292.5 L402.7,291.9 L402.9,291.3 L403.1,290.7 L403.2,290.2 L403.3,289.7 L403.4,289.1 L403.5,288.6 L403.6,288.1 L403.7,287.7 L403.8,287.2 L403.9,286.7 L404.0,286.3 L404.0,285.8 L404.1,285.4 L404.2,284.9 L404.2,284.5 L404.3,284.1 L404.4,283.7 L404.4,283.3 L404.5,282.8 L404.5,282.4 L404.6,282.0 L404.6,281.7 L404.7,281.3 L404.7,280.9 L404.7,280.5 L404.8,280.1 L404.8,279.7 L404.9,279.3 L404.9,279.0 L404.9,278.6 L405.0,278.2 L405.0,277.8 L405.0,277.4 L405.1,277.1 L405.1,276.7 L405.1,276.3 L405.2,275.9 L405.2,275.6 L405.2,275.2 L405.2,274.8 L405.3,274.5 L405.3,274.1 L405.3,273.8 L405.4,273.4 L405.4,273.1 L405.4,272.8 L405.4,272.4 L405.5,272.1 L405.5,271.8 L405.5,271.6 L405.5,271.3 L405.6,271.1 L405.6,270.9 L405.6,270.7 L405.6,270.5 L405.7,270.3 L405.7,270.2 L405.7,270.1 L405.7,270.1 L405.7,270.0 L405.8,270.0 L405.8,270.0 L405.8,270.0 L405.8,270.1 L405.8,270.2 L405.9,270.3 L405.9,270.4 L405.9,270.6 L405.9,270.7 L406.0,271.0 L406.0,271.2 L406.0,271.4 L406.0,271.7 L406.1,272.0 L406.1,272.3 L406.1,272.6 L406.1,272.9 L406.2,273.3 L406.2,273.6 L406.2,274.0 L406.3,274.3 L406.3,274.7 L406.3,275.0 L406.3,275.4 L406.4,275.8 L406.4,276.2 L406.4,276.5 L406.5,276.9 L406.5,277.3 L406.5,277.7 L406.6,278.1 L406.6,278.4 L406.6,278.8 L406.7,279.2 L406.7,279.6 L406.7,280.0 L406.8,280.4 L406.8,280.8 L406.9,281.2 L406.9,281.6 L406.9,281.9 L407.0,282.3 L407.0,282.7 L407.1,283.2 L407.1,283.6 L407.2,284.0 L407.3,284.4 L407.3,284.8 L407.4,285.3 L407.4,285.7 L407.5,286.1 L407.6,286.6 L407.7,287.1 L407.7,287.5 L407.8,288.0 L407.9,288.5 L408.0,289.0 L408.1,289.5 L408.3,290.0 L408.4,290.6 L408.5,291.1 L408.7,291.7 L408.8,292.3 L409.0,292.8 L409.2,293.5 L409.4,294.1 L409.7,294.7 L410.0,295.4 L410.3,296.0 L410.6,296.7 L411.1,297.4 L411.6,298.1 L412.2,298.8 L413.0,299.6 L413.9,300.3 L415.1,301.1 L416.8,301.9 L419.1,302.6 L422.6,303.4 L428.8,304.2 L441.9,305.0 L490.0,305.8" fill="none" stroke="#ffa050" stroke-width="0.9" stroke-linejoin="round"/>
<text x="406.00" y="269.20" font-size="11.4" fill="#ff8a00" text-anchor="middle" stroke="#ff8a00" stroke-width="0.4" >7.7</text>
<path d="M324.13,321.17 L324.1,319.4 L351.1,318.0 L360.5,316.7 L365.4,315.3 L368.3,313.9 L370.3,312.6 L371.7,311.3 L372.8,310.0 L373.6,308.7 L374.3,307.4 L374.8,306.2 L375.3,304.9 L375.7,303.7 L376.0,302.6 L376.3,301.4 L376.6,300.3 L376.8,299.2 L377.0,298.1 L377.2,297.1 L377.4,296.1 L377.5,295.1 L377.7,294.1 L377.8,293.2 L377.9,292.3 L378.0,291.4 L378.1,290.5 L378.2,289.7 L378.3,288.8 L378.4,288.0 L378.4,287.2 L378.5,286.4 L378.6,285.6 L378.7,284.9 L378.7,284.1 L378.8,283.4 L378.8,282.7 L378.9,281.9 L378.9,281.2 L379.0,280.5 L379.0,279.8 L379.1,279.1 L379.1,278.5 L379.2,277.8 L379.2,277.1 L379.3,276.4 L379.3,275.8 L379.3,275.1 L379.4,274.5 L379.4,273.8 L379.4,273.1 L379.5,272.5 L379.5,271.8 L379.5,271.2 L379.6,270.5 L379.6,269.9 L379.6,269.2 L379.6,268.6 L379.7,268.0 L379.7,267.3 L379.7,266.7 L379.8,266.1 L379.8,265.5 L379.8,264.8 L379.8,264.3 L379.9,263.7 L379.9,263.1 L379.9,262.6 L379.9,262.0 L380.0,261.6 L380.0,261.1 L380.0,260.6 L380.0,260.2 L380.1,259.9 L380.1,259.5 L380.1,259.2 L380.1,259.0 L380.1,258.8 L380.2,258.6 L380.2,258.5 L380.2,258.5 L380.2,258.4 L380.2,258.4 L380.3,258.5 L380.3,258.6 L380.3,258.7 L380.3,258.9 L380.4,259.2 L380.4,259.5 L380.4,259.8 L380.4,260.2 L380.4,260.6 L380.5,261.0 L380.5,261.5 L380.5,262.0 L380.5,262.5 L380.6,263.0 L380.6,263.6 L380.6,264.2 L380.6,264.8 L380.7,265.4 L380.7,266.0 L380.7,266.6 L380.8,267.3 L380.8,267.9 L380.8,268.5 L380.8,269.2 L380.9,269.9 L380.9,270.5 L380.9,271.2 L381.0,271.8 L381.0,272.5 L381.0,273.1 L381.1,273.8 L381.1,274.5 L381.1,275.1 L381.2,275.8 L381.2,276.5 L381.2,277.2 L381.3,277.8 L381.3,278.5 L381.4,279.2 L381.4,279.9 L381.5,280.6 L381.5,281.3 L381.6,282.0 L381.6,282.7 L381.7,283.4 L381.7,284.2 L381.8,284.9 L381.8,285.7 L381.9,286.5 L382.0,287.2 L382.1,288.0 L382.1,288.9 L382.2,289.7 L382.3,290.5 L382.4,291.4 L382.5,292.3 L382.6,293.2 L382.8,294.1 L382.9,295.1 L383.0,296.1 L383.2,297.1 L383.4,298.1 L383.6,299.1 L383.8,300.2 L384.0,301.3 L384.3,302.5 L384.6,303.6 L385.0,304.8 L385.4,306.0 L385.9,307.2 L386.5,308.5 L387.3,309.8 L388.2,311.1 L389.4,312.4 L391.1,313.7 L393.5,315.1 L397.2,316.4 L403.7,317.8 L418.5,319.2 L483.7,320.5 L483.67,321.17 Z" fill="#3c3cff" fill-opacity="0.85" stroke="none"/>
<path d="M324.1,319.4 L351.1,318.0 L360.5,316.7 L365.4,315.3 L368.3,313.9 L370.3,312.6 L371.7,311.3 L372.8,310.0 L373.6,308.7 L374.3,307.4 L374.8,306.2 L375.3,304.9 L375.7,303.7 L376.0,302.6 L376.3,301.4 L376.6,300.3 L376.8,299.2 L377.0,298.1 L377.2,297.1 L377.4,296.1 L377.5,295.1 L377.7,294.1 L377.8,293.2 L377.9,292.3 L378.0,291.4 L378.1,290.5 L378.2,289.7 L378.3,288.8 L378.4,288.0 L378.4,287.2 L378.5,286.4 L378.6,285.6 L378.7,284.9 L378.7,284.1 L378.8,283.4 L378.8,282.7 L378.9,281.9 L378.9,281.2 L379.0,280.5 L379.0,279.8 L379.1,279.1 L379.1,278.5 L379.2,277.8 L379.2,277.1 L379.3,276.4 L379.3,275.8 L379.3,275.1 L379.4,274.5 L379.4,273.8 L379.4,273.1 L379.5,272.5 L379.5,271.8 L379.5,271.2 L379.6,270.5 L379.6,269.9 L379.6,269.2 L379.6,268.6 L379.7,268.0 L379.7,267.3 L379.7,266.7 L379.8,266.1 L379.8,265.5 L379.8,264.8 L379.8,264.3 L379.9,263.7 L379.9,263.1 L379.9,262.6 L379.9,262.0 L380.0,261.6 L380.0,261.1 L380.0,260.6 L380.0,260.2 L380.1,259.9 L380.1,259.5 L380.1,259.2 L380.1,259.0 L380.1,258.8 L380.2,258.6 L380.2,258.5 L380.2,258.5 L380.2,258.4 L380.2,258.4 L380.3,258.5 L380.3,258.6 L380.3,258.7 L380.3,258.9 L380.4,259.2 L380.4,259.5 L380.4,259.8 L380.4,260.2 L380.4,260.6 L380.5,261.0 L380.5,261.5 L380.5,262.0 L380.5,262.5 L380.6,263.0 L380.6,263.6 L380.6,264.2 L380.6,264.8 L380.7,265.4 L380.7,266.0 L380.7,266.6 L380.8,267.3 L380.8,267.9 L380.8,268.5 L380.8,269.2 L380.9,269.9 L380.9,270.5 L380.9,271.2 L381.0,271.8 L381.0,272.5 L381.0,273.1 L381.1,273.8 L381.1,274.5 L381.1,275.1 L381.2,275.8 L381.2,276.5 L381.2,277.2 L381.3,277.8 L381.3,278.5 L381.4,279.2 L381.4,279.9 L381.5,280.6 L381.5,281.3 L381.6,282.0 L381.6,282.7 L381.7,283.4 L381.7,284.2 L381.8,284.9 L381.8,285.7 L381.9,286.5 L382.0,287.2 L382.1,288.0 L382.1,288.9 L382.2,289.7 L382.3,290.5 L382.4,291.4 L382.5,292.3 L382.6,293.2 L382.8,294.1 L382.9,295.1 L383.0,296.1 L383.2,297.1 L383.4,298.1 L383.6,299.1 L383.8,300.2 L384.0,301.3 L384.3,302.5 L384.6,303.6 L385.0,304.8 L385.4,306.0 L385.9,307.2 L386.5,308.5 L387.3,309.8 L388.2,311.1 L389.4,312.4 L391.1,313.7 L393.5,315.1 L397.2,316.4 L403.7,317.8 L418.5,319.2 L483.7,320.5" fill="none" stroke="#3a3aff" stroke-width="0.9" stroke-linejoin="round"/>
<text x="382.80" y="255.30" font-size="11.4" fill="#0000ff" text-anchor="middle" stroke="#0000ff" stroke-width="0.4" >12.8</text>
<path d="M311.82,336.06 L311.8,334.2 L334.3,332.9 L342.7,331.6 L347.2,330.3 L349.9,329.0 L351.8,327.7 L353.2,326.4 L354.2,325.2 L355.0,323.9 L355.7,322.7 L356.2,321.5 L356.6,320.4 L357.0,319.2 L357.3,318.1 L357.6,317.0 L357.9,316.0 L358.1,314.9 L358.3,313.9 L358.5,312.9 L358.7,311.9 L358.8,311.0 L358.9,310.1 L359.1,309.2 L359.2,308.3 L359.3,307.5 L359.4,306.6 L359.5,305.8 L359.6,305.0 L359.6,304.2 L359.7,303.4 L359.8,302.7 L359.9,302.0 L359.9,301.2 L360.0,300.5 L360.0,299.8 L360.1,299.1 L360.2,298.4 L360.2,297.8 L360.3,297.1 L360.3,296.4 L360.3,295.8 L360.4,295.1 L360.4,294.5 L360.5,293.8 L360.5,293.2 L360.6,292.5 L360.6,291.9 L360.6,291.3 L360.7,290.6 L360.7,290.0 L360.7,289.4 L360.8,288.8 L360.8,288.1 L360.8,287.5 L360.8,286.9 L360.9,286.3 L360.9,285.7 L360.9,285.1 L361.0,284.4 L361.0,283.8 L361.0,283.3 L361.0,282.7 L361.1,282.1 L361.1,281.5 L361.1,281.0 L361.1,280.4 L361.2,279.9 L361.2,279.4 L361.2,278.9 L361.2,278.5 L361.3,278.1 L361.3,277.7 L361.3,277.3 L361.3,277.0 L361.4,276.7 L361.4,276.5 L361.4,276.3 L361.4,276.2 L361.4,276.1 L361.5,276.0 L361.5,276.0 L361.5,276.0 L361.5,276.1 L361.5,276.2 L361.6,276.3 L361.6,276.5 L361.6,276.7 L361.6,277.0 L361.7,277.3 L361.7,277.7 L361.7,278.1 L361.7,278.5 L361.7,279.0 L361.8,279.4 L361.8,279.9 L361.8,280.5 L361.8,281.0 L361.9,281.6 L361.9,282.1 L361.9,282.7 L361.9,283.3 L362.0,283.9 L362.0,284.5 L362.0,285.1 L362.1,285.7 L362.1,286.4 L362.1,287.0 L362.1,287.6 L362.2,288.3 L362.2,288.9 L362.2,289.5 L362.3,290.2 L362.3,290.8 L362.3,291.4 L362.4,292.1 L362.4,292.7 L362.4,293.3 L362.5,294.0 L362.5,294.6 L362.6,295.3 L362.6,295.9 L362.7,296.6 L362.7,297.3 L362.7,297.9 L362.8,298.6 L362.9,299.3 L362.9,300.0 L363.0,300.7 L363.0,301.4 L363.1,302.2 L363.2,302.9 L363.2,303.7 L363.3,304.4 L363.4,305.2 L363.5,306.0 L363.6,306.8 L363.7,307.6 L363.8,308.5 L363.9,309.4 L364.0,310.3 L364.1,311.2 L364.3,312.1 L364.4,313.1 L364.6,314.1 L364.8,315.1 L365.0,316.1 L365.3,317.2 L365.5,318.2 L365.8,319.3 L366.2,320.5 L366.6,321.6 L367.1,322.8 L367.8,324.0 L368.5,325.2 L369.5,326.5 L370.7,327.7 L372.4,329.0 L374.8,330.3 L378.6,331.6 L385.4,332.9 L401.2,334.2 L477.4,335.5 L477.38,336.06 Z" fill="#3fa83f" fill-opacity="0.85" stroke="none"/>
<path d="M311.8,334.2 L334.3,332.9 L342.7,331.6 L347.2,330.3 L349.9,329.0 L351.8,327.7 L353.2,326.4 L354.2,325.2 L355.0,323.9 L355.7,322.7 L356.2,321.5 L356.6,320.4 L357.0,319.2 L357.3,318.1 L357.6,317.0 L357.9,316.0 L358.1,314.9 L358.3,313.9 L358.5,312.9 L358.7,311.9 L358.8,311.0 L358.9,310.1 L359.1,309.2 L359.2,308.3 L359.3,307.5 L359.4,306.6 L359.5,305.8 L359.6,305.0 L359.6,304.2 L359.7,303.4 L359.8,302.7 L359.9,302.0 L359.9,301.2 L360.0,300.5 L360.0,299.8 L360.1,299.1 L360.2,298.4 L360.2,297.8 L360.3,297.1 L360.3,296.4 L360.3,295.8 L360.4,295.1 L360.4,294.5 L360.5,293.8 L360.5,293.2 L360.6,292.5 L360.6,291.9 L360.6,291.3 L360.7,290.6 L360.7,290.0 L360.7,289.4 L360.8,288.8 L360.8,288.1 L360.8,287.5 L360.8,286.9 L360.9,286.3 L360.9,285.7 L360.9,285.1 L361.0,284.4 L361.0,283.8 L361.0,283.3 L361.0,282.7 L361.1,282.1 L361.1,281.5 L361.1,281.0 L361.1,280.4 L361.2,279.9 L361.2,279.4 L361.2,278.9 L361.2,278.5 L361.3,278.1 L361.3,277.7 L361.3,277.3 L361.3,277.0 L361.4,276.7 L361.4,276.5 L361.4,276.3 L361.4,276.2 L361.4,276.1 L361.5,276.0 L361.5,276.0 L361.5,276.0 L361.5,276.1 L361.5,276.2 L361.6,276.3 L361.6,276.5 L361.6,276.7 L361.6,277.0 L361.7,277.3 L361.7,277.7 L361.7,278.1 L361.7,278.5 L361.7,279.0 L361.8,279.4 L361.8,279.9 L361.8,280.5 L361.8,281.0 L361.9,281.6 L361.9,282.1 L361.9,282.7 L361.9,283.3 L362.0,283.9 L362.0,284.5 L362.0,285.1 L362.1,285.7 L362.1,286.4 L362.1,287.0 L362.1,287.6 L362.2,288.3 L362.2,288.9 L362.2,289.5 L362.3,290.2 L362.3,290.8 L362.3,291.4 L362.4,292.1 L362.4,292.7 L362.4,293.3 L362.5,294.0 L362.5,294.6 L362.6,295.3 L362.6,295.9 L362.7,296.6 L362.7,297.3 L362.7,297.9 L362.8,298.6 L362.9,299.3 L362.9,300.0 L363.0,300.7 L363.0,301.4 L363.1,302.2 L363.2,302.9 L363.2,303.7 L363.3,304.4 L363.4,305.2 L363.5,306.0 L363.6,306.8 L363.7,307.6 L363.8,308.5 L363.9,309.4 L364.0,310.3 L364.1,311.2 L364.3,312.1 L364.4,313.1 L364.6,314.1 L364.8,315.1 L365.0,316.1 L365.3,317.2 L365.5,318.2 L365.8,319.3 L366.2,320.5 L366.6,321.6 L367.1,322.8 L367.8,324.0 L368.5,325.2 L369.5,326.5 L370.7,327.7 L372.4,329.0 L374.8,330.3 L378.6,331.6 L385.4,332.9 L401.2,334.2 L477.4,335.5" fill="none" stroke="#4cae4c" stroke-width="0.9" stroke-linejoin="round"/>
<text x="353.30" y="274.30" font-size="11.4" fill="#1d8a1d" text-anchor="middle" stroke="#1d8a1d" stroke-width="0.4" >11.8</text>
<line x1="306.00" y1="343.10" x2="474.40" y2="343.10" stroke="#111" stroke-width="1.9" />
<line x1="306.00" y1="255.10" x2="306.00" y2="344.00" stroke="#111" stroke-width="1.9" />
<line x1="474.40" y1="343.10" x2="503.40" y2="274.50" stroke="#111" stroke-width="1.5" />
<line x1="306.00" y1="343.10" x2="306.00" y2="339.10" stroke="#111" stroke-width="1.2" />
<text x="306.00" y="357.70" font-size="10" fill="#000" text-anchor="middle" stroke="#000" stroke-width="0.4" >50</text>
<line x1="320.03" y1="343.10" x2="320.03" y2="340.40" stroke="#111" stroke-width="1.2" />
<line x1="334.07" y1="343.10" x2="334.07" y2="339.10" stroke="#111" stroke-width="1.2" />
<text x="334.07" y="357.70" font-size="10" fill="#000" text-anchor="middle" stroke="#000" stroke-width="0.4" >60</text>
<line x1="348.10" y1="343.10" x2="348.10" y2="340.40" stroke="#111" stroke-width="1.2" />
<line x1="362.13" y1="343.10" x2="362.13" y2="339.10" stroke="#111" stroke-width="1.2" />
<text x="362.13" y="357.70" font-size="10" fill="#000" text-anchor="middle" stroke="#000" stroke-width="0.4" >70</text>
<line x1="376.17" y1="343.10" x2="376.17" y2="340.40" stroke="#111" stroke-width="1.2" />
<line x1="390.20" y1="343.10" x2="390.20" y2="339.10" stroke="#111" stroke-width="1.2" />
<text x="390.20" y="357.70" font-size="10" fill="#000" text-anchor="middle" stroke="#000" stroke-width="0.4" >80</text>
<line x1="404.23" y1="343.10" x2="404.23" y2="340.40" stroke="#111" stroke-width="1.2" />
<line x1="418.27" y1="343.10" x2="418.27" y2="339.10" stroke="#111" stroke-width="1.2" />
<text x="418.27" y="357.70" font-size="10" fill="#000" text-anchor="middle" stroke="#000" stroke-width="0.4" >90</text>
<line x1="432.30" y1="343.10" x2="432.30" y2="340.40" stroke="#111" stroke-width="1.2" />
<line x1="446.33" y1="343.10" x2="446.33" y2="339.10" stroke="#111" stroke-width="1.2" />
<text x="446.33" y="357.70" font-size="10" fill="#000" text-anchor="middle" stroke="#000" stroke-width="0.4" >100</text>
<line x1="460.37" y1="343.10" x2="460.37" y2="340.40" stroke="#111" stroke-width="1.2" />
<line x1="474.40" y1="343.10" x2="474.40" y2="339.10" stroke="#111" stroke-width="1.2" />
<text x="474.40" y="357.70" font-size="10" fill="#000" text-anchor="middle" stroke="#000" stroke-width="0.4" >110</text>
<line x1="306.00" y1="343.10" x2="310.00" y2="343.10" stroke="#111" stroke-width="1.3" />
<text x="302.50" y="347.40" font-size="10" fill="#000" text-anchor="end" stroke="#000" stroke-width="0.4" >0</text>
<line x1="306.00" y1="317.22" x2="310.00" y2="317.22" stroke="#111" stroke-width="1.3" />
<text x="302.50" y="321.52" font-size="10" fill="#000" text-anchor="end" stroke="#000" stroke-width="0.4" >5</text>
<line x1="306.00" y1="291.34" x2="310.00" y2="291.34" stroke="#111" stroke-width="1.3" />
<text x="302.50" y="295.64" font-size="10" fill="#000" text-anchor="end" stroke="#000" stroke-width="0.4" >10</text>
<line x1="306.00" y1="265.45" x2="310.00" y2="265.45" stroke="#111" stroke-width="1.3" />
<text x="302.50" y="269.75" font-size="10" fill="#000" text-anchor="end" stroke="#000" stroke-width="0.4" >15</text>
<line x1="306.00" y1="330.16" x2="308.80" y2="330.16" stroke="#111" stroke-width="1.1" />
<line x1="306.00" y1="304.28" x2="308.80" y2="304.28" stroke="#111" stroke-width="1.1" />
<line x1="306.00" y1="278.39" x2="308.80" y2="278.39" stroke="#111" stroke-width="1.1" />
<line x1="477.38" y1="336.06" x2="474.38" y2="336.06" stroke="#111" stroke-width="1.1" />
<line x1="483.67" y1="321.17" x2="480.67" y2="321.17" stroke="#111" stroke-width="1.1" />
<line x1="489.96" y1="306.29" x2="486.96" y2="306.29" stroke="#111" stroke-width="1.1" />
<line x1="495.97" y1="292.07" x2="492.97" y2="292.07" stroke="#111" stroke-width="1.1" />
<line x1="501.01" y1="280.16" x2="498.01" y2="280.16" stroke="#111" stroke-width="1.1" />
<text x="503.40" y="283.80" font-size="8.7" fill="#000" text-anchor="start" stroke="#000" stroke-width="0.4" >traditional</text>
<text x="498.50" y="296.80" font-size="9.0" fill="#000" text-anchor="start" stroke="#000" stroke-width="0.4" >w=10 μm</text>
<text x="493.50" y="310.60" font-size="9.3" fill="#000" text-anchor="start" stroke="#000" stroke-width="0.4" >w=30 μm</text>
<text x="487.60" y="325.00" font-size="9.6" fill="#000" text-anchor="start" stroke="#000" stroke-width="0.4" >w=50 μm</text>
<text x="482.00" y="340.10" font-size="10.0" fill="#000" text-anchor="start" stroke="#000" stroke-width="0.4" >w=70 μm</text>
<text x="390.00" y="371.50" font-size="10.1" fill="#000" text-anchor="middle" stroke="#000" stroke-width="0.4" >Frequency (kHz)</text>
<text transform="translate(289.0,299.8) rotate(-90)" font-size="10.8" text-anchor="middle" stroke="#000" stroke-width="0.4">Reception sensitivity (mV/Pa)</text>
<text x="405.00" y="389.20" font-size="16" fill="#000" text-anchor="middle" stroke="#000" stroke-width="0.5" >(d)</text>
<polygon points="34.40,541.60 34.40,453.40 90.30,399.70 90.30,472.70" fill="#f2f8fd"/>
<rect x="90.3" y="399.7" width="140.10000000000002" height="73.0" fill="#fefdea"/>
<polygon points="34.40,541.60 202.40,541.60 230.40,472.70 90.30,472.70" fill="#f4f4f5"/>
<line x1="34.40" y1="453.40" x2="90.30" y2="399.70" stroke="#555" stroke-width="0.8" />
<line x1="90.30" y1="399.70" x2="230.40" y2="399.70" stroke="#777" stroke-width="1.1" />
<line x1="230.40" y1="399.70" x2="230.40" y2="472.70" stroke="#999" stroke-width="1.1" />
<line x1="90.30" y1="399.70" x2="90.30" y2="472.70" stroke="#c4c4d4" stroke-width="1.0" />
<line x1="90.30" y1="472.70" x2="230.40" y2="472.70" stroke="#a8a8a8" stroke-width="1.0" />
<line x1="34.40" y1="541.60" x2="90.30" y2="472.70" stroke="#666" stroke-width="0.7" />
<line x1="62.40" y1="541.60" x2="113.65" y2="472.70" stroke="#b4b4b4" stroke-width="0.6" />
<line x1="90.40" y1="541.60" x2="137.00" y2="472.70" stroke="#b4b4b4" stroke-width="0.6" />
<line x1="118.40" y1="541.60" x2="160.35" y2="472.70" stroke="#b4b4b4" stroke-width="0.6" />
<line x1="146.40" y1="541.60" x2="183.70" y2="472.70" stroke="#b4b4b4" stroke-width="0.6" />
<line x1="174.40" y1="541.60" x2="207.05" y2="472.70" stroke="#b4b4b4" stroke-width="0.6" />
<path d="M80.65,484.60 L80.6,484.6 L139.4,484.5 L156.9,484.4 L165.3,484.2 L170.2,484.0 L173.5,483.8 L175.8,483.7 L177.5,483.5 L178.8,483.3 L179.9,483.1 L180.8,482.9 L181.5,482.7 L182.1,482.5 L182.6,482.3 L183.1,482.2 L183.5,482.0 L183.8,481.8 L184.2,481.6 L184.4,481.4 L184.7,481.2 L184.9,481.0 L185.1,480.8 L185.3,480.6 L185.5,480.4 L185.7,480.2 L185.8,479.9 L186.0,479.7 L186.1,479.5 L186.2,479.3 L186.4,479.1 L186.5,478.8 L186.6,478.6 L186.7,478.4 L186.8,478.1 L186.9,477.9 L187.0,477.7 L187.0,477.4 L187.1,477.2 L187.2,476.9 L187.3,476.7 L187.3,476.4 L187.4,476.1 L187.5,475.9 L187.5,475.6 L187.6,475.3 L187.6,475.0 L187.7,474.8 L187.8,474.5 L187.8,474.2 L187.9,473.9 L187.9,473.6 L188.0,473.3 L188.0,473.0 L188.0,472.6 L188.1,472.3 L188.1,472.0 L188.2,471.7 L188.2,471.4 L188.3,471.0 L188.3,470.7 L188.3,470.4 L188.4,470.1 L188.4,469.7 L188.5,469.4 L188.5,469.1 L188.5,468.8 L188.6,468.5 L188.6,468.2 L188.6,467.9 L188.7,467.6 L188.7,467.4 L188.8,467.1 L188.8,466.9 L188.8,466.7 L188.9,466.5 L188.9,466.4 L188.9,466.2 L189.0,466.1 L189.0,466.0 L189.0,466.0 L189.1,465.9 L189.1,465.9 L189.1,465.9 L189.1,465.9 L189.2,466.0 L189.2,466.1 L189.2,466.2 L189.3,466.3 L189.3,466.4 L189.3,466.6 L189.4,466.8 L189.4,467.0 L189.4,467.3 L189.5,467.5 L189.5,467.8 L189.5,468.1 L189.6,468.4 L189.6,468.7 L189.7,469.0 L189.7,469.3 L189.7,469.6 L189.8,469.9 L189.8,470.3 L189.9,470.6 L189.9,470.9 L189.9,471.2 L190.0,471.6 L190.0,471.9 L190.1,472.2 L190.1,472.5 L190.2,472.8 L190.2,473.1 L190.2,473.5 L190.3,473.8 L190.3,474.1 L190.4,474.4 L190.5,474.6 L190.5,474.9 L190.6,475.2 L190.6,475.5 L190.7,475.8 L190.7,476.0 L190.8,476.3 L190.9,476.6 L190.9,476.8 L191.0,477.1 L191.1,477.3 L191.2,477.6 L191.3,477.8 L191.3,478.1 L191.4,478.3 L191.5,478.5 L191.6,478.8 L191.7,479.0 L191.9,479.2 L192.0,479.4 L192.1,479.7 L192.2,479.9 L192.4,480.1 L192.6,480.3 L192.7,480.5 L192.9,480.7 L193.1,480.9 L193.3,481.1 L193.6,481.3 L193.8,481.5 L194.1,481.7 L194.5,481.9 L194.8,482.1 L195.2,482.3 L195.7,482.5 L196.3,482.7 L196.9,482.9 L197.7,483.1 L198.6,483.3 L199.8,483.5 L201.2,483.6 L203.1,483.8 L205.7,484.0 L209.4,484.2 L215.2,484.4 L225.6,484.6 L225.56,484.60 Z" fill="#ff6b6b" fill-opacity="0.85" stroke="none"/>
<path d="M80.6,484.6 L139.4,484.5 L156.9,484.4 L165.3,484.2 L170.2,484.0 L173.5,483.8 L175.8,483.7 L177.5,483.5 L178.8,483.3 L179.9,483.1 L180.8,482.9 L181.5,482.7 L182.1,482.5 L182.6,482.3 L183.1,482.2 L183.5,482.0 L183.8,481.8 L184.2,481.6 L184.4,481.4 L184.7,481.2 L184.9,481.0 L185.1,480.8 L185.3,480.6 L185.5,480.4 L185.7,480.2 L185.8,479.9 L186.0,479.7 L186.1,479.5 L186.2,479.3 L186.4,479.1 L186.5,478.8 L186.6,478.6 L186.7,478.4 L186.8,478.1 L186.9,477.9 L187.0,477.7 L187.0,477.4 L187.1,477.2 L187.2,476.9 L187.3,476.7 L187.3,476.4 L187.4,476.1 L187.5,475.9 L187.5,475.6 L187.6,475.3 L187.6,475.0 L187.7,474.8 L187.8,474.5 L187.8,474.2 L187.9,473.9 L187.9,473.6 L188.0,473.3 L188.0,473.0 L188.0,472.6 L188.1,472.3 L188.1,472.0 L188.2,471.7 L188.2,471.4 L188.3,471.0 L188.3,470.7 L188.3,470.4 L188.4,470.1 L188.4,469.7 L188.5,469.4 L188.5,469.1 L188.5,468.8 L188.6,468.5 L188.6,468.2 L188.6,467.9 L188.7,467.6 L188.7,467.4 L188.8,467.1 L188.8,466.9 L188.8,466.7 L188.9,466.5 L188.9,466.4 L188.9,466.2 L189.0,466.1 L189.0,466.0 L189.0,466.0 L189.1,465.9 L189.1,465.9 L189.1,465.9 L189.1,465.9 L189.2,466.0 L189.2,466.1 L189.2,466.2 L189.3,466.3 L189.3,466.4 L189.3,466.6 L189.4,466.8 L189.4,467.0 L189.4,467.3 L189.5,467.5 L189.5,467.8 L189.5,468.1 L189.6,468.4 L189.6,468.7 L189.7,469.0 L189.7,469.3 L189.7,469.6 L189.8,469.9 L189.8,470.3 L189.9,470.6 L189.9,470.9 L189.9,471.2 L190.0,471.6 L190.0,471.9 L190.1,472.2 L190.1,472.5 L190.2,472.8 L190.2,473.1 L190.2,473.5 L190.3,473.8 L190.3,474.1 L190.4,474.4 L190.5,474.6 L190.5,474.9 L190.6,475.2 L190.6,475.5 L190.7,475.8 L190.7,476.0 L190.8,476.3 L190.9,476.6 L190.9,476.8 L191.0,477.1 L191.1,477.3 L191.2,477.6 L191.3,477.8 L191.3,478.1 L191.4,478.3 L191.5,478.5 L191.6,478.8 L191.7,479.0 L191.9,479.2 L192.0,479.4 L192.1,479.7 L192.2,479.9 L192.4,480.1 L192.6,480.3 L192.7,480.5 L192.9,480.7 L193.1,480.9 L193.3,481.1 L193.6,481.3 L193.8,481.5 L194.1,481.7 L194.5,481.9 L194.8,482.1 L195.2,482.3 L195.7,482.5 L196.3,482.7 L196.9,482.9 L197.7,483.1 L198.6,483.3 L199.8,483.5 L201.2,483.6 L203.1,483.8 L205.7,484.0 L209.4,484.2 L215.2,484.4 L225.6,484.6" fill="none" stroke="#f68a80" stroke-width="0.9" stroke-linejoin="round"/>
<text x="192.20" y="464.20" font-size="11.4" fill="#ff2222" text-anchor="middle" stroke="#ff2222" stroke-width="0.4" >0.63</text>
<path d="M70.34,497.30 L70.3,497.3 L110.2,497.0 L123.6,496.7 L130.4,496.4 L134.4,496.1 L137.1,495.8 L139.1,495.5 L140.5,495.2 L141.7,494.9 L142.6,494.6 L143.3,494.3 L144.0,494.0 L144.5,493.7 L145.0,493.4 L145.3,493.1 L145.7,492.8 L146.0,492.5 L146.3,492.2 L146.5,491.9 L146.8,491.5 L147.0,491.2 L147.1,490.9 L147.3,490.6 L147.5,490.2 L147.6,489.9 L147.8,489.6 L147.9,489.2 L148.0,488.9 L148.1,488.5 L148.2,488.2 L148.3,487.8 L148.4,487.4 L148.5,487.1 L148.6,486.7 L148.7,486.3 L148.7,485.9 L148.8,485.5 L148.9,485.1 L148.9,484.7 L149.0,484.3 L149.1,483.9 L149.1,483.5 L149.2,483.0 L149.2,482.6 L149.3,482.2 L149.3,481.7 L149.4,481.3 L149.4,480.8 L149.5,480.3 L149.5,479.8 L149.6,479.4 L149.6,478.9 L149.7,478.4 L149.7,477.9 L149.8,477.4 L149.8,476.9 L149.8,476.3 L149.9,475.8 L149.9,475.3 L149.9,474.8 L150.0,474.3 L150.0,473.8 L150.0,473.3 L150.1,472.7 L150.1,472.3 L150.1,471.8 L150.2,471.3 L150.2,470.8 L150.2,470.4 L150.3,470.0 L150.3,469.6 L150.3,469.2 L150.4,468.9 L150.4,468.6 L150.4,468.3 L150.5,468.1 L150.5,467.9 L150.5,467.7 L150.6,467.6 L150.6,467.5 L150.6,467.5 L150.6,467.5 L150.7,467.5 L150.7,467.6 L150.7,467.7 L150.7,467.9 L150.8,468.1 L150.8,468.3 L150.8,468.6 L150.9,468.9 L150.9,469.2 L150.9,469.6 L151.0,470.0 L151.0,470.4 L151.0,470.9 L151.1,471.3 L151.1,471.8 L151.1,472.3 L151.2,472.8 L151.2,473.3 L151.2,473.8 L151.3,474.3 L151.3,474.8 L151.3,475.4 L151.4,475.9 L151.4,476.4 L151.5,476.9 L151.5,477.4 L151.5,477.9 L151.6,478.4 L151.6,478.9 L151.7,479.4 L151.7,479.9 L151.7,480.4 L151.8,480.8 L151.8,481.3 L151.9,481.8 L151.9,482.2 L152.0,482.7 L152.1,483.1 L152.1,483.5 L152.2,484.0 L152.2,484.4 L152.3,484.8 L152.4,485.2 L152.4,485.6 L152.5,486.0 L152.6,486.4 L152.7,486.8 L152.7,487.1 L152.8,487.5 L152.9,487.9 L153.0,488.2 L153.1,488.6 L153.2,488.9 L153.3,489.3 L153.5,489.6 L153.6,490.0 L153.7,490.3 L153.9,490.6 L154.1,491.0 L154.3,491.3 L154.5,491.6 L154.7,491.9 L154.9,492.2 L155.2,492.6 L155.5,492.9 L155.8,493.2 L156.2,493.5 L156.7,493.8 L157.2,494.1 L157.8,494.4 L158.5,494.7 L159.4,495.0 L160.5,495.3 L161.9,495.6 L163.8,495.9 L166.3,496.2 L170.1,496.5 L176.3,496.7 L188.2,497.0 L220.4,497.3 L220.40,497.30 Z" fill="#ffa040" fill-opacity="0.85" stroke="none"/>
<path d="M70.3,497.3 L110.2,497.0 L123.6,496.7 L130.4,496.4 L134.4,496.1 L137.1,495.8 L139.1,495.5 L140.5,495.2 L141.7,494.9 L142.6,494.6 L143.3,494.3 L144.0,494.0 L144.5,493.7 L145.0,493.4 L145.3,493.1 L145.7,492.8 L146.0,492.5 L146.3,492.2 L146.5,491.9 L146.8,491.5 L147.0,491.2 L147.1,490.9 L147.3,490.6 L147.5,490.2 L147.6,489.9 L147.8,489.6 L147.9,489.2 L148.0,488.9 L148.1,488.5 L148.2,488.2 L148.3,487.8 L148.4,487.4 L148.5,487.1 L148.6,486.7 L148.7,486.3 L148.7,485.9 L148.8,485.5 L148.9,485.1 L148.9,484.7 L149.0,484.3 L149.1,483.9 L149.1,483.5 L149.2,483.0 L149.2,482.6 L149.3,482.2 L149.3,481.7 L149.4,481.3 L149.4,480.8 L149.5,480.3 L149.5,479.8 L149.6,479.4 L149.6,478.9 L149.7,478.4 L149.7,477.9 L149.8,477.4 L149.8,476.9 L149.8,476.3 L149.9,475.8 L149.9,475.3 L149.9,474.8 L150.0,474.3 L150.0,473.8 L150.0,473.3 L150.1,472.7 L150.1,472.3 L150.1,471.8 L150.2,471.3 L150.2,470.8 L150.2,470.4 L150.3,470.0 L150.3,469.6 L150.3,469.2 L150.4,468.9 L150.4,468.6 L150.4,468.3 L150.5,468.1 L150.5,467.9 L150.5,467.7 L150.6,467.6 L150.6,467.5 L150.6,467.5 L150.6,467.5 L150.7,467.5 L150.7,467.6 L150.7,467.7 L150.7,467.9 L150.8,468.1 L150.8,468.3 L150.8,468.6 L150.9,468.9 L150.9,469.2 L150.9,469.6 L151.0,470.0 L151.0,470.4 L151.0,470.9 L151.1,471.3 L151.1,471.8 L151.1,472.3 L151.2,472.8 L151.2,473.3 L151.2,473.8 L151.3,474.3 L151.3,474.8 L151.3,475.4 L151.4,475.9 L151.4,476.4 L151.5,476.9 L151.5,477.4 L151.5,477.9 L151.6,478.4 L151.6,478.9 L151.7,479.4 L151.7,479.9 L151.7,480.4 L151.8,480.8 L151.8,481.3 L151.9,481.8 L151.9,482.2 L152.0,482.7 L152.1,483.1 L152.1,483.5 L152.2,484.0 L152.2,484.4 L152.3,484.8 L152.4,485.2 L152.4,485.6 L152.5,486.0 L152.6,486.4 L152.7,486.8 L152.7,487.1 L152.8,487.5 L152.9,487.9 L153.0,488.2 L153.1,488.6 L153.2,488.9 L153.3,489.3 L153.5,489.6 L153.6,490.0 L153.7,490.3 L153.9,490.6 L154.1,491.0 L154.3,491.3 L154.5,491.6 L154.7,491.9 L154.9,492.2 L155.2,492.6 L155.5,492.9 L155.8,493.2 L156.2,493.5 L156.7,493.8 L157.2,494.1 L157.8,494.4 L158.5,494.7 L159.4,495.0 L160.5,495.3 L161.9,495.6 L163.8,495.9 L166.3,496.2 L170.1,496.5 L176.3,496.7 L188.2,497.0 L220.4,497.3" fill="none" stroke="#ffa050" stroke-width="0.9" stroke-linejoin="round"/>
<text x="152.20" y="465.00" font-size="11.4" fill="#ff8a00" text-anchor="middle" stroke="#ff8a00" stroke-width="0.4" >0.96</text>
<path d="M59.39,510.80 L59.4,510.8 L84.2,510.2 L94.0,509.6 L99.2,509.0 L102.5,508.5 L104.7,507.9 L106.3,507.4 L107.6,506.8 L108.5,506.3 L109.3,505.7 L110.0,505.1 L110.5,504.6 L111.0,504.0 L111.4,503.4 L111.7,502.8 L112.0,502.3 L112.3,501.7 L112.5,501.1 L112.8,500.5 L113.0,499.9 L113.1,499.3 L113.3,498.7 L113.5,498.1 L113.6,497.4 L113.7,496.8 L113.8,496.2 L114.0,495.5 L114.1,494.9 L114.2,494.2 L114.3,493.6 L114.3,492.9 L114.4,492.2 L114.5,491.5 L114.6,490.8 L114.7,490.1 L114.7,489.3 L114.8,488.6 L114.9,487.8 L114.9,487.1 L115.0,486.3 L115.0,485.5 L115.1,484.7 L115.1,483.9 L115.2,483.1 L115.2,482.3 L115.3,481.4 L115.3,480.6 L115.4,479.7 L115.4,478.8 L115.4,477.9 L115.5,477.0 L115.5,476.1 L115.6,475.1 L115.6,474.2 L115.6,473.2 L115.7,472.3 L115.7,471.3 L115.7,470.4 L115.8,469.4 L115.8,468.4 L115.8,467.4 L115.9,466.5 L115.9,465.5 L115.9,464.6 L116.0,463.7 L116.0,462.8 L116.0,461.9 L116.1,461.1 L116.1,460.2 L116.1,459.5 L116.1,458.7 L116.2,458.1 L116.2,457.5 L116.2,456.9 L116.3,456.4 L116.3,456.0 L116.3,455.7 L116.3,455.4 L116.4,455.2 L116.4,455.1 L116.4,455.1 L116.4,455.1 L116.5,455.2 L116.5,455.4 L116.5,455.6 L116.5,455.9 L116.6,456.3 L116.6,456.8 L116.6,457.3 L116.6,457.9 L116.7,458.6 L116.7,459.3 L116.7,460.0 L116.8,460.8 L116.8,461.7 L116.8,462.6 L116.9,463.5 L116.9,464.4 L116.9,465.3 L116.9,466.3 L117.0,467.2 L117.0,468.2 L117.0,469.2 L117.1,470.1 L117.1,471.1 L117.1,472.1 L117.2,473.0 L117.2,474.0 L117.3,474.9 L117.3,475.9 L117.3,476.8 L117.4,477.7 L117.4,478.6 L117.5,479.5 L117.5,480.4 L117.5,481.3 L117.6,482.1 L117.6,482.9 L117.7,483.8 L117.7,484.6 L117.8,485.4 L117.8,486.2 L117.9,487.0 L118.0,487.7 L118.0,488.5 L118.1,489.2 L118.1,490.0 L118.2,490.7 L118.3,491.4 L118.4,492.1 L118.4,492.8 L118.5,493.5 L118.6,494.1 L118.7,494.8 L118.8,495.4 L118.9,496.1 L119.0,496.7 L119.2,497.4 L119.3,498.0 L119.5,498.6 L119.6,499.2 L119.8,499.8 L120.0,500.4 L120.2,501.0 L120.4,501.6 L120.7,502.2 L121.0,502.8 L121.3,503.3 L121.7,503.9 L122.1,504.5 L122.6,505.0 L123.2,505.6 L123.9,506.2 L124.8,506.7 L125.9,507.3 L127.3,507.8 L129.2,508.4 L132.0,508.9 L136.1,509.4 L143.3,510.0 L158.7,510.5 L214.9,510.8 L214.92,510.80 Z" fill="#3c3cff" fill-opacity="0.85" stroke="none"/>
<path d="M59.4,510.8 L84.2,510.2 L94.0,509.6 L99.2,509.0 L102.5,508.5 L104.7,507.9 L106.3,507.4 L107.6,506.8 L108.5,506.3 L109.3,505.7 L110.0,505.1 L110.5,504.6 L111.0,504.0 L111.4,503.4 L111.7,502.8 L112.0,502.3 L112.3,501.7 L112.5,501.1 L112.8,500.5 L113.0,499.9 L113.1,499.3 L113.3,498.7 L113.5,498.1 L113.6,497.4 L113.7,496.8 L113.8,496.2 L114.0,495.5 L114.1,494.9 L114.2,494.2 L114.3,493.6 L114.3,492.9 L114.4,492.2 L114.5,491.5 L114.6,490.8 L114.7,490.1 L114.7,489.3 L114.8,488.6 L114.9,487.8 L114.9,487.1 L115.0,486.3 L115.0,485.5 L115.1,484.7 L115.1,483.9 L115.2,483.1 L115.2,482.3 L115.3,481.4 L115.3,480.6 L115.4,479.7 L115.4,478.8 L115.4,477.9 L115.5,477.0 L115.5,476.1 L115.6,475.1 L115.6,474.2 L115.6,473.2 L115.7,472.3 L115.7,471.3 L115.7,470.4 L115.8,469.4 L115.8,468.4 L115.8,467.4 L115.9,466.5 L115.9,465.5 L115.9,464.6 L116.0,463.7 L116.0,462.8 L116.0,461.9 L116.1,461.1 L116.1,460.2 L116.1,459.5 L116.1,458.7 L116.2,458.1 L116.2,457.5 L116.2,456.9 L116.3,456.4 L116.3,456.0 L116.3,455.7 L116.3,455.4 L116.4,455.2 L116.4,455.1 L116.4,455.1 L116.4,455.1 L116.5,455.2 L116.5,455.4 L116.5,455.6 L116.5,455.9 L116.6,456.3 L116.6,456.8 L116.6,457.3 L116.6,457.9 L116.7,458.6 L116.7,459.3 L116.7,460.0 L116.8,460.8 L116.8,461.7 L116.8,462.6 L116.9,463.5 L116.9,464.4 L116.9,465.3 L116.9,466.3 L117.0,467.2 L117.0,468.2 L117.0,469.2 L117.1,470.1 L117.1,471.1 L117.1,472.1 L117.2,473.0 L117.2,474.0 L117.3,474.9 L117.3,475.9 L117.3,476.8 L117.4,477.7 L117.4,478.6 L117.5,479.5 L117.5,480.4 L117.5,481.3 L117.6,482.1 L117.6,482.9 L117.7,483.8 L117.7,484.6 L117.8,485.4 L117.8,486.2 L117.9,487.0 L118.0,487.7 L118.0,488.5 L118.1,489.2 L118.1,490.0 L118.2,490.7 L118.3,491.4 L118.4,492.1 L118.4,492.8 L118.5,493.5 L118.6,494.1 L118.7,494.8 L118.8,495.4 L118.9,496.1 L119.0,496.7 L119.2,497.4 L119.3,498.0 L119.5,498.6 L119.6,499.2 L119.8,499.8 L120.0,500.4 L120.2,501.0 L120.4,501.6 L120.7,502.2 L121.0,502.8 L121.3,503.3 L121.7,503.9 L122.1,504.5 L122.6,505.0 L123.2,505.6 L123.9,506.2 L124.8,506.7 L125.9,507.3 L127.3,507.8 L129.2,508.4 L132.0,508.9 L136.1,509.4 L143.3,510.0 L158.7,510.5 L214.9,510.8" fill="none" stroke="#3a3aff" stroke-width="0.9" stroke-linejoin="round"/>
<text x="119.00" y="453.00" font-size="11.4" fill="#0000ff" text-anchor="middle" stroke="#0000ff" stroke-width="0.4" >1.73</text>
<path d="M47.22,525.80 L47.2,525.8 L62.2,524.9 L69.2,524.1 L73.1,523.3 L75.7,522.4 L77.6,521.6 L78.9,520.8 L80.0,520.0 L80.8,519.2 L81.5,518.4 L82.0,517.6 L82.5,516.8 L82.9,515.9 L83.3,515.1 L83.6,514.3 L83.9,513.4 L84.1,512.6 L84.3,511.8 L84.5,510.9 L84.7,510.0 L84.9,509.2 L85.0,508.3 L85.2,507.4 L85.3,506.5 L85.4,505.6 L85.5,504.6 L85.6,503.7 L85.7,502.8 L85.8,501.8 L85.9,500.8 L86.0,499.8 L86.1,498.9 L86.1,497.8 L86.2,496.8 L86.3,495.8 L86.3,494.7 L86.4,493.7 L86.4,492.6 L86.5,491.5 L86.5,490.3 L86.6,489.2 L86.6,488.0 L86.7,486.9 L86.7,485.7 L86.8,484.5 L86.8,483.2 L86.9,482.0 L86.9,480.7 L86.9,479.4 L87.0,478.1 L87.0,476.8 L87.1,475.5 L87.1,474.1 L87.1,472.8 L87.2,471.4 L87.2,470.0 L87.2,468.6 L87.3,467.2 L87.3,465.8 L87.3,464.4 L87.4,463.1 L87.4,461.7 L87.4,460.3 L87.4,459.0 L87.5,457.6 L87.5,456.4 L87.5,455.1 L87.6,453.9 L87.6,452.7 L87.6,451.7 L87.6,450.6 L87.7,449.7 L87.7,448.8 L87.7,448.1 L87.7,447.4 L87.8,446.8 L87.8,446.4 L87.8,446.0 L87.9,445.8 L87.9,445.7 L87.9,445.7 L87.9,445.7 L87.9,445.9 L88.0,446.1 L88.0,446.5 L88.0,447.0 L88.0,447.6 L88.1,448.3 L88.1,449.1 L88.1,450.0 L88.1,451.0 L88.2,452.0 L88.2,453.1 L88.2,454.3 L88.3,455.5 L88.3,456.8 L88.3,458.1 L88.3,459.4 L88.4,460.8 L88.4,462.2 L88.4,463.6 L88.5,464.9 L88.5,466.3 L88.5,467.7 L88.6,469.1 L88.6,470.5 L88.6,471.9 L88.7,473.3 L88.7,474.7 L88.7,476.0 L88.8,477.3 L88.8,478.6 L88.8,479.9 L88.9,481.2 L88.9,482.5 L89.0,483.7 L89.0,485.0 L89.0,486.2 L89.1,487.4 L89.1,488.5 L89.2,489.7 L89.2,490.8 L89.3,491.9 L89.3,493.0 L89.4,494.1 L89.5,495.2 L89.5,496.2 L89.6,497.3 L89.7,498.3 L89.7,499.3 L89.8,500.3 L89.9,501.3 L90.0,502.2 L90.1,503.2 L90.2,504.1 L90.3,505.1 L90.4,506.0 L90.5,506.9 L90.6,507.8 L90.8,508.7 L90.9,509.5 L91.1,510.4 L91.3,511.3 L91.5,512.1 L91.7,513.0 L91.9,513.8 L92.2,514.7 L92.5,515.5 L92.9,516.3 L93.3,517.1 L93.8,517.9 L94.4,518.7 L95.1,519.5 L95.9,520.3 L97.0,521.1 L98.4,521.9 L100.3,522.7 L103.1,523.5 L107.3,524.2 L114.9,524.9 L132.1,525.6 L208.8,525.8 L208.82,525.80 Z" fill="#3fa83f" fill-opacity="0.85" stroke="none"/>
<path d="M47.2,525.8 L62.2,524.9 L69.2,524.1 L73.1,523.3 L75.7,522.4 L77.6,521.6 L78.9,520.8 L80.0,520.0 L80.8,519.2 L81.5,518.4 L82.0,517.6 L82.5,516.8 L82.9,515.9 L83.3,515.1 L83.6,514.3 L83.9,513.4 L84.1,512.6 L84.3,511.8 L84.5,510.9 L84.7,510.0 L84.9,509.2 L85.0,508.3 L85.2,507.4 L85.3,506.5 L85.4,505.6 L85.5,504.6 L85.6,503.7 L85.7,502.8 L85.8,501.8 L85.9,500.8 L86.0,499.8 L86.1,498.9 L86.1,497.8 L86.2,496.8 L86.3,495.8 L86.3,494.7 L86.4,493.7 L86.4,492.6 L86.5,491.5 L86.5,490.3 L86.6,489.2 L86.6,488.0 L86.7,486.9 L86.7,485.7 L86.8,484.5 L86.8,483.2 L86.9,482.0 L86.9,480.7 L86.9,479.4 L87.0,478.1 L87.0,476.8 L87.1,475.5 L87.1,474.1 L87.1,472.8 L87.2,471.4 L87.2,470.0 L87.2,468.6 L87.3,467.2 L87.3,465.8 L87.3,464.4 L87.4,463.1 L87.4,461.7 L87.4,460.3 L87.4,459.0 L87.5,457.6 L87.5,456.4 L87.5,455.1 L87.6,453.9 L87.6,452.7 L87.6,451.7 L87.6,450.6 L87.7,449.7 L87.7,448.8 L87.7,448.1 L87.7,447.4 L87.8,446.8 L87.8,446.4 L87.8,446.0 L87.9,445.8 L87.9,445.7 L87.9,445.7 L87.9,445.7 L87.9,445.9 L88.0,446.1 L88.0,446.5 L88.0,447.0 L88.0,447.6 L88.1,448.3 L88.1,449.1 L88.1,450.0 L88.1,451.0 L88.2,452.0 L88.2,453.1 L88.2,454.3 L88.3,455.5 L88.3,456.8 L88.3,458.1 L88.3,459.4 L88.4,460.8 L88.4,462.2 L88.4,463.6 L88.5,464.9 L88.5,466.3 L88.5,467.7 L88.6,469.1 L88.6,470.5 L88.6,471.9 L88.7,473.3 L88.7,474.7 L88.7,476.0 L88.8,477.3 L88.8,478.6 L88.8,479.9 L88.9,481.2 L88.9,482.5 L89.0,483.7 L89.0,485.0 L89.0,486.2 L89.1,487.4 L89.1,488.5 L89.2,489.7 L89.2,490.8 L89.3,491.9 L89.3,493.0 L89.4,494.1 L89.5,495.2 L89.5,496.2 L89.6,497.3 L89.7,498.3 L89.7,499.3 L89.8,500.3 L89.9,501.3 L90.0,502.2 L90.1,503.2 L90.2,504.1 L90.3,505.1 L90.4,506.0 L90.5,506.9 L90.6,507.8 L90.8,508.7 L90.9,509.5 L91.1,510.4 L91.3,511.3 L91.5,512.1 L91.7,513.0 L91.9,513.8 L92.2,514.7 L92.5,515.5 L92.9,516.3 L93.3,517.1 L93.8,517.9 L94.4,518.7 L95.1,519.5 L95.9,520.3 L97.0,521.1 L98.4,521.9 L100.3,522.7 L103.1,523.5 L107.3,524.2 L114.9,524.9 L132.1,525.6 L208.8,525.8" fill="none" stroke="#4cae4c" stroke-width="0.9" stroke-linejoin="round"/>
<text x="83.30" y="444.50" font-size="11.4" fill="#1d8a1d" text-anchor="middle" stroke="#1d8a1d" stroke-width="0.4" >2.4</text>
<line x1="34.40" y1="541.60" x2="202.40" y2="541.60" stroke="#111" stroke-width="1.9" />
<line x1="34.40" y1="453.40" x2="34.40" y2="542.50" stroke="#111" stroke-width="1.9" />
<line x1="202.40" y1="541.60" x2="230.40" y2="472.70" stroke="#111" stroke-width="1.5" />
<line x1="34.40" y1="541.60" x2="34.40" y2="537.60" stroke="#111" stroke-width="1.2" />
<text x="34.40" y="555.40" font-size="10" fill="#000" text-anchor="middle" stroke="#000" stroke-width="0.4" >50</text>
<line x1="48.40" y1="541.60" x2="48.40" y2="538.90" stroke="#111" stroke-width="1.2" />
<line x1="62.40" y1="541.60" x2="62.40" y2="537.60" stroke="#111" stroke-width="1.2" />
<text x="62.40" y="555.40" font-size="10" fill="#000" text-anchor="middle" stroke="#000" stroke-width="0.4" >60</text>
<line x1="76.40" y1="541.60" x2="76.40" y2="538.90" stroke="#111" stroke-width="1.2" />
<line x1="90.40" y1="541.60" x2="90.40" y2="537.60" stroke="#111" stroke-width="1.2" />
<text x="90.40" y="555.40" font-size="10" fill="#000" text-anchor="middle" stroke="#000" stroke-width="0.4" >70</text>
<line x1="104.40" y1="541.60" x2="104.40" y2="538.90" stroke="#111" stroke-width="1.2" />
<line x1="118.40" y1="541.60" x2="118.40" y2="537.60" stroke="#111" stroke-width="1.2" />
<text x="118.40" y="555.40" font-size="10" fill="#000" text-anchor="middle" stroke="#000" stroke-width="0.4" >80</text>
<line x1="132.40" y1="541.60" x2="132.40" y2="538.90" stroke="#111" stroke-width="1.2" />
<line x1="146.40" y1="541.60" x2="146.40" y2="537.60" stroke="#111" stroke-width="1.2" />
<text x="146.40" y="555.40" font-size="10" fill="#000" text-anchor="middle" stroke="#000" stroke-width="0.4" >90</text>
<line x1="160.40" y1="541.60" x2="160.40" y2="538.90" stroke="#111" stroke-width="1.2" />
<line x1="174.40" y1="541.60" x2="174.40" y2="537.60" stroke="#111" stroke-width="1.2" />
<text x="174.40" y="555.40" font-size="10" fill="#000" text-anchor="middle" stroke="#000" stroke-width="0.4" >100</text>
<line x1="188.40" y1="541.60" x2="188.40" y2="538.90" stroke="#111" stroke-width="1.2" />
<line x1="202.40" y1="541.60" x2="202.40" y2="537.60" stroke="#111" stroke-width="1.2" />
<text x="202.40" y="555.40" font-size="10" fill="#000" text-anchor="middle" stroke="#000" stroke-width="0.4" >110</text>
<line x1="34.40" y1="541.60" x2="38.40" y2="541.60" stroke="#111" stroke-width="1.3" />
<text x="31.00" y="545.90" font-size="10" fill="#000" text-anchor="end" stroke="#000" stroke-width="0.4" >0.0</text>
<line x1="34.40" y1="523.96" x2="38.40" y2="523.96" stroke="#111" stroke-width="1.3" />
<text x="31.00" y="528.26" font-size="10" fill="#000" text-anchor="end" stroke="#000" stroke-width="0.4" >0.5</text>
<line x1="34.40" y1="506.32" x2="38.40" y2="506.32" stroke="#111" stroke-width="1.3" />
<text x="31.00" y="510.62" font-size="10" fill="#000" text-anchor="end" stroke="#000" stroke-width="0.4" >1.0</text>
<line x1="34.40" y1="488.68" x2="38.40" y2="488.68" stroke="#111" stroke-width="1.3" />
<text x="31.00" y="492.98" font-size="10" fill="#000" text-anchor="end" stroke="#000" stroke-width="0.4" >1.5</text>
<line x1="34.40" y1="471.04" x2="38.40" y2="471.04" stroke="#111" stroke-width="1.3" />
<text x="31.00" y="475.34" font-size="10" fill="#000" text-anchor="end" stroke="#000" stroke-width="0.4" >2.0</text>
<line x1="34.40" y1="453.40" x2="38.40" y2="453.40" stroke="#111" stroke-width="1.3" />
<text x="31.00" y="457.70" font-size="10" fill="#000" text-anchor="end" stroke="#000" stroke-width="0.4" >2.5</text>
<line x1="208.82" y1="525.80" x2="205.82" y2="525.80" stroke="#111" stroke-width="1.1" />
<line x1="214.92" y1="510.80" x2="211.92" y2="510.80" stroke="#111" stroke-width="1.1" />
<line x1="220.40" y1="497.30" x2="217.40" y2="497.30" stroke="#111" stroke-width="1.1" />
<line x1="225.56" y1="484.60" x2="222.56" y2="484.60" stroke="#111" stroke-width="1.1" />
<text x="228.60" y="488.30" font-size="9.0" fill="#000" text-anchor="start" stroke="#000" stroke-width="0.4" >traditional</text>
<text x="222.80" y="501.00" font-size="9.4" fill="#000" text-anchor="start" stroke="#000" stroke-width="0.4" >θ=30°</text>
<text x="217.70" y="514.70" font-size="9.6" fill="#000" text-anchor="start" stroke="#000" stroke-width="0.4" >θ=50°</text>
<text x="211.80" y="529.50" font-size="9.9" fill="#000" text-anchor="start" stroke="#000" stroke-width="0.4" >θ=70°</text>
<text x="118.00" y="571.00" font-size="10.1" fill="#000" text-anchor="middle" stroke="#000" stroke-width="0.4" >Frequency (kHz)</text>
<text transform="translate(14.3,497.9) rotate(-90)" font-size="10.9" text-anchor="middle" stroke="#000" stroke-width="0.4">Transmission sensitivity (Pa/V)</text>
<text x="137.70" y="583.40" font-size="14.5" fill="#000" text-anchor="middle" stroke="#000" stroke-width="0.75" >(e)</text>
<polygon points="302.80,541.60 302.80,453.60 360.80,399.70 360.80,472.70" fill="#f2f8fd"/>
<rect x="360.8" y="399.7" width="143.3" height="73.0" fill="#fefdea"/>
<polygon points="302.80,541.60 475.60,541.60 504.10,472.70 360.80,472.70" fill="#f4f4f5"/>
<line x1="302.80" y1="453.60" x2="360.80" y2="399.70" stroke="#555" stroke-width="0.8" />
<line x1="360.80" y1="399.70" x2="504.10" y2="399.70" stroke="#777" stroke-width="1.1" />
<line x1="504.10" y1="399.70" x2="504.10" y2="472.70" stroke="#999" stroke-width="1.1" />
<line x1="360.80" y1="399.70" x2="360.80" y2="472.70" stroke="#c4c4d4" stroke-width="1.0" />
<line x1="360.80" y1="472.70" x2="504.10" y2="472.70" stroke="#a8a8a8" stroke-width="1.0" />
<line x1="302.80" y1="541.60" x2="360.80" y2="472.70" stroke="#666" stroke-width="0.7" />
<line x1="331.60" y1="541.60" x2="384.68" y2="472.70" stroke="#b4b4b4" stroke-width="0.6" />
<line x1="360.40" y1="541.60" x2="408.57" y2="472.70" stroke="#b4b4b4" stroke-width="0.6" />
<line x1="389.20" y1="541.60" x2="432.45" y2="472.70" stroke="#b4b4b4" stroke-width="0.6" />
<line x1="418.00" y1="541.60" x2="456.33" y2="472.70" stroke="#b4b4b4" stroke-width="0.6" />
<line x1="446.80" y1="541.60" x2="480.22" y2="472.70" stroke="#b4b4b4" stroke-width="0.6" />
<path d="M350.46,484.98 L350.5,484.4 L411.1,483.9 L429.0,483.4 L437.7,482.9 L442.7,482.3 L446.1,481.8 L448.4,481.3 L450.2,480.8 L451.6,480.3 L452.7,479.8 L453.6,479.3 L454.3,478.8 L454.9,478.3 L455.5,477.8 L456.0,477.3 L456.4,476.8 L456.7,476.3 L457.1,475.9 L457.4,475.4 L457.6,474.9 L457.9,474.5 L458.1,474.0 L458.3,473.6 L458.5,473.2 L458.6,472.7 L458.8,472.3 L458.9,471.9 L459.1,471.4 L459.2,471.0 L459.3,470.6 L459.4,470.2 L459.6,469.8 L459.7,469.4 L459.8,469.0 L459.8,468.7 L459.9,468.3 L460.0,467.9 L460.1,467.5 L460.2,467.2 L460.2,466.8 L460.3,466.4 L460.4,466.1 L460.5,465.7 L460.5,465.4 L460.6,465.0 L460.6,464.7 L460.7,464.3 L460.8,464.0 L460.8,463.7 L460.9,463.3 L460.9,463.0 L461.0,462.7 L461.0,462.3 L461.1,462.0 L461.1,461.7 L461.1,461.4 L461.2,461.1 L461.2,460.8 L461.3,460.4 L461.3,460.1 L461.4,459.8 L461.4,459.5 L461.4,459.3 L461.5,459.0 L461.5,458.7 L461.6,458.4 L461.6,458.2 L461.6,457.9 L461.7,457.7 L461.7,457.5 L461.7,457.2 L461.8,457.0 L461.8,456.9 L461.9,456.7 L461.9,456.5 L461.9,456.4 L462.0,456.3 L462.0,456.2 L462.0,456.1 L462.1,456.1 L462.1,456.0 L462.1,456.0 L462.1,456.0 L462.2,456.1 L462.2,456.1 L462.2,456.2 L462.3,456.3 L462.3,456.4 L462.3,456.5 L462.4,456.6 L462.4,456.8 L462.5,457.0 L462.5,457.2 L462.5,457.4 L462.6,457.6 L462.6,457.9 L462.6,458.1 L462.7,458.4 L462.7,458.6 L462.7,458.9 L462.8,459.2 L462.8,459.5 L462.9,459.8 L462.9,460.1 L463.0,460.4 L463.0,460.7 L463.0,461.0 L463.1,461.3 L463.1,461.6 L463.2,462.0 L463.2,462.3 L463.3,462.6 L463.3,463.0 L463.4,463.3 L463.4,463.6 L463.5,464.0 L463.5,464.3 L463.6,464.6 L463.6,465.0 L463.7,465.3 L463.8,465.7 L463.8,466.0 L463.9,466.4 L464.0,466.8 L464.0,467.1 L464.1,467.5 L464.2,467.9 L464.3,468.2 L464.4,468.6 L464.4,469.0 L464.5,469.4 L464.6,469.8 L464.7,470.2 L464.8,470.6 L465.0,471.0 L465.1,471.4 L465.2,471.8 L465.4,472.2 L465.5,472.6 L465.7,473.1 L465.9,473.5 L466.0,473.9 L466.2,474.4 L466.5,474.8 L466.7,475.3 L467.0,475.8 L467.3,476.2 L467.6,476.7 L468.0,477.2 L468.4,477.7 L468.9,478.2 L469.5,478.6 L470.2,479.1 L470.9,479.6 L471.9,480.1 L473.0,480.7 L474.5,481.2 L476.4,481.7 L479.0,482.2 L482.8,482.7 L488.6,483.2 L499.0,483.7 L499.02,484.98 Z" fill="#ff6b6b" fill-opacity="0.85" stroke="none"/>
<path d="M350.5,484.4 L411.1,483.9 L429.0,483.4 L437.7,482.9 L442.7,482.3 L446.1,481.8 L448.4,481.3 L450.2,480.8 L451.6,480.3 L452.7,479.8 L453.6,479.3 L454.3,478.8 L454.9,478.3 L455.5,477.8 L456.0,477.3 L456.4,476.8 L456.7,476.3 L457.1,475.9 L457.4,475.4 L457.6,474.9 L457.9,474.5 L458.1,474.0 L458.3,473.6 L458.5,473.2 L458.6,472.7 L458.8,472.3 L458.9,471.9 L459.1,471.4 L459.2,471.0 L459.3,470.6 L459.4,470.2 L459.6,469.8 L459.7,469.4 L459.8,469.0 L459.8,468.7 L459.9,468.3 L460.0,467.9 L460.1,467.5 L460.2,467.2 L460.2,466.8 L460.3,466.4 L460.4,466.1 L460.5,465.7 L460.5,465.4 L460.6,465.0 L460.6,464.7 L460.7,464.3 L460.8,464.0 L460.8,463.7 L460.9,463.3 L460.9,463.0 L461.0,462.7 L461.0,462.3 L461.1,462.0 L461.1,461.7 L461.1,461.4 L461.2,461.1 L461.2,460.8 L461.3,460.4 L461.3,460.1 L461.4,459.8 L461.4,459.5 L461.4,459.3 L461.5,459.0 L461.5,458.7 L461.6,458.4 L461.6,458.2 L461.6,457.9 L461.7,457.7 L461.7,457.5 L461.7,457.2 L461.8,457.0 L461.8,456.9 L461.9,456.7 L461.9,456.5 L461.9,456.4 L462.0,456.3 L462.0,456.2 L462.0,456.1 L462.1,456.1 L462.1,456.0 L462.1,456.0 L462.1,456.0 L462.2,456.1 L462.2,456.1 L462.2,456.2 L462.3,456.3 L462.3,456.4 L462.3,456.5 L462.4,456.6 L462.4,456.8 L462.5,457.0 L462.5,457.2 L462.5,457.4 L462.6,457.6 L462.6,457.9 L462.6,458.1 L462.7,458.4 L462.7,458.6 L462.7,458.9 L462.8,459.2 L462.8,459.5 L462.9,459.8 L462.9,460.1 L463.0,460.4 L463.0,460.7 L463.0,461.0 L463.1,461.3 L463.1,461.6 L463.2,462.0 L463.2,462.3 L463.3,462.6 L463.3,463.0 L463.4,463.3 L463.4,463.6 L463.5,464.0 L463.5,464.3 L463.6,464.6 L463.6,465.0 L463.7,465.3 L463.8,465.7 L463.8,466.0 L463.9,466.4 L464.0,466.8 L464.0,467.1 L464.1,467.5 L464.2,467.9 L464.3,468.2 L464.4,468.6 L464.4,469.0 L464.5,469.4 L464.6,469.8 L464.7,470.2 L464.8,470.6 L465.0,471.0 L465.1,471.4 L465.2,471.8 L465.4,472.2 L465.5,472.6 L465.7,473.1 L465.9,473.5 L466.0,473.9 L466.2,474.4 L466.5,474.8 L466.7,475.3 L467.0,475.8 L467.3,476.2 L467.6,476.7 L468.0,477.2 L468.4,477.7 L468.9,478.2 L469.5,478.6 L470.2,479.1 L470.9,479.6 L471.9,480.1 L473.0,480.7 L474.5,481.2 L476.4,481.7 L479.0,482.2 L482.8,482.7 L488.6,483.2 L499.0,483.7" fill="none" stroke="#f68a80" stroke-width="0.9" stroke-linejoin="round"/>
<text x="463.70" y="454.80" font-size="11.4" fill="#ff2222" text-anchor="middle" stroke="#ff2222" stroke-width="0.4" >6.5</text>
<path d="M340.05,497.34 L340.1,496.8 L380.1,496.4 L393.7,496.0 L400.5,495.5 L404.6,495.1 L407.4,494.7 L409.3,494.3 L410.8,493.8 L412.0,493.4 L412.9,493.0 L413.7,492.6 L414.3,492.2 L414.8,491.8 L415.3,491.4 L415.7,491.0 L416.1,490.6 L416.4,490.2 L416.7,489.8 L416.9,489.4 L417.1,489.1 L417.4,488.7 L417.5,488.3 L417.7,488.0 L417.9,487.6 L418.0,487.3 L418.2,486.9 L418.3,486.6 L418.4,486.2 L418.5,485.9 L418.6,485.5 L418.7,485.2 L418.8,484.9 L418.9,484.6 L419.0,484.3 L419.1,483.9 L419.2,483.6 L419.2,483.3 L419.3,483.0 L419.4,482.7 L419.4,482.4 L419.5,482.1 L419.6,481.8 L419.6,481.6 L419.7,481.3 L419.7,481.0 L419.8,480.7 L419.8,480.4 L419.9,480.2 L419.9,479.9 L420.0,479.6 L420.0,479.3 L420.1,479.1 L420.1,478.8 L420.2,478.5 L420.2,478.3 L420.2,478.0 L420.3,477.8 L420.3,477.5 L420.4,477.3 L420.4,477.0 L420.4,476.8 L420.5,476.5 L420.5,476.3 L420.5,476.1 L420.6,475.8 L420.6,475.6 L420.6,475.4 L420.7,475.2 L420.7,475.0 L420.7,474.9 L420.8,474.7 L420.8,474.5 L420.8,474.4 L420.9,474.3 L420.9,474.1 L420.9,474.1 L421.0,474.0 L421.0,473.9 L421.0,473.9 L421.0,473.8 L421.1,473.8 L421.1,473.8 L421.1,473.8 L421.1,473.9 L421.2,473.9 L421.2,474.0 L421.2,474.1 L421.3,474.2 L421.3,474.3 L421.3,474.4 L421.4,474.6 L421.4,474.7 L421.4,474.9 L421.5,475.1 L421.5,475.3 L421.5,475.5 L421.6,475.7 L421.6,475.9 L421.6,476.1 L421.7,476.4 L421.7,476.6 L421.7,476.9 L421.8,477.1 L421.8,477.4 L421.8,477.6 L421.9,477.9 L421.9,478.1 L422.0,478.4 L422.0,478.6 L422.1,478.9 L422.1,479.2 L422.1,479.5 L422.2,479.7 L422.2,480.0 L422.3,480.3 L422.3,480.6 L422.4,480.8 L422.4,481.1 L422.5,481.4 L422.5,481.7 L422.6,482.0 L422.7,482.3 L422.7,482.6 L422.8,482.9 L422.8,483.2 L422.9,483.5 L423.0,483.8 L423.1,484.1 L423.2,484.4 L423.2,484.7 L423.3,485.0 L423.4,485.4 L423.5,485.7 L423.6,486.0 L423.7,486.4 L423.9,486.7 L424.0,487.0 L424.1,487.4 L424.3,487.7 L424.4,488.1 L424.6,488.5 L424.8,488.8 L425.0,489.2 L425.2,489.6 L425.5,490.0 L425.8,490.3 L426.1,490.7 L426.4,491.1 L426.8,491.5 L427.3,491.9 L427.8,492.3 L428.4,492.7 L429.2,493.1 L430.1,493.6 L431.2,494.0 L432.6,494.4 L434.5,494.8 L437.2,495.2 L441.1,495.7 L447.5,496.1 L459.9,496.5 L493.9,496.9 L493.91,497.34 Z" fill="#ffa040" fill-opacity="0.85" stroke="none"/>
<path d="M340.1,496.8 L380.1,496.4 L393.7,496.0 L400.5,495.5 L404.6,495.1 L407.4,494.7 L409.3,494.3 L410.8,493.8 L412.0,493.4 L412.9,493.0 L413.7,492.6 L414.3,492.2 L414.8,491.8 L415.3,491.4 L415.7,491.0 L416.1,490.6 L416.4,490.2 L416.7,489.8 L416.9,489.4 L417.1,489.1 L417.4,488.7 L417.5,488.3 L417.7,488.0 L417.9,487.6 L418.0,487.3 L418.2,486.9 L418.3,486.6 L418.4,486.2 L418.5,485.9 L418.6,485.5 L418.7,485.2 L418.8,484.9 L418.9,484.6 L419.0,484.3 L419.1,483.9 L419.2,483.6 L419.2,483.3 L419.3,483.0 L419.4,482.7 L419.4,482.4 L419.5,482.1 L419.6,481.8 L419.6,481.6 L419.7,481.3 L419.7,481.0 L419.8,480.7 L419.8,480.4 L419.9,480.2 L419.9,479.9 L420.0,479.6 L420.0,479.3 L420.1,479.1 L420.1,478.8 L420.2,478.5 L420.2,478.3 L420.2,478.0 L420.3,477.8 L420.3,477.5 L420.4,477.3 L420.4,477.0 L420.4,476.8 L420.5,476.5 L420.5,476.3 L420.5,476.1 L420.6,475.8 L420.6,475.6 L420.6,475.4 L420.7,475.2 L420.7,475.0 L420.7,474.9 L420.8,474.7 L420.8,474.5 L420.8,474.4 L420.9,474.3 L420.9,474.1 L420.9,474.1 L421.0,474.0 L421.0,473.9 L421.0,473.9 L421.0,473.8 L421.1,473.8 L421.1,473.8 L421.1,473.8 L421.1,473.9 L421.2,473.9 L421.2,474.0 L421.2,474.1 L421.3,474.2 L421.3,474.3 L421.3,474.4 L421.4,474.6 L421.4,474.7 L421.4,474.9 L421.5,475.1 L421.5,475.3 L421.5,475.5 L421.6,475.7 L421.6,475.9 L421.6,476.1 L421.7,476.4 L421.7,476.6 L421.7,476.9 L421.8,477.1 L421.8,477.4 L421.8,477.6 L421.9,477.9 L421.9,478.1 L422.0,478.4 L422.0,478.6 L422.1,478.9 L422.1,479.2 L422.1,479.5 L422.2,479.7 L422.2,480.0 L422.3,480.3 L422.3,480.6 L422.4,480.8 L422.4,481.1 L422.5,481.4 L422.5,481.7 L422.6,482.0 L422.7,482.3 L422.7,482.6 L422.8,482.9 L422.8,483.2 L422.9,483.5 L423.0,483.8 L423.1,484.1 L423.2,484.4 L423.2,484.7 L423.3,485.0 L423.4,485.4 L423.5,485.7 L423.6,486.0 L423.7,486.4 L423.9,486.7 L424.0,487.0 L424.1,487.4 L424.3,487.7 L424.4,488.1 L424.6,488.5 L424.8,488.8 L425.0,489.2 L425.2,489.6 L425.5,490.0 L425.8,490.3 L426.1,490.7 L426.4,491.1 L426.8,491.5 L427.3,491.9 L427.8,492.3 L428.4,492.7 L429.2,493.1 L430.1,493.6 L431.2,494.0 L432.6,494.4 L434.5,494.8 L437.2,495.2 L441.1,495.7 L447.5,496.1 L459.9,496.5 L493.9,496.9" fill="none" stroke="#ffa050" stroke-width="0.9" stroke-linejoin="round"/>
<text x="422.70" y="471.30" font-size="11.4" fill="#ff8a00" text-anchor="middle" stroke="#ff8a00" stroke-width="0.4" >5.1</text>
<path d="M328.17,511.46 L328.2,509.7 L352.1,508.6 L361.7,507.5 L366.9,506.4 L370.1,505.3 L372.4,504.2 L374.0,503.1 L375.2,502.0 L376.2,500.9 L377.0,499.8 L377.6,498.8 L378.2,497.7 L378.6,496.6 L379.0,495.6 L379.4,494.6 L379.7,493.5 L380.0,492.5 L380.2,491.5 L380.4,490.5 L380.6,489.6 L380.8,488.6 L381.0,487.6 L381.1,486.7 L381.3,485.8 L381.4,484.8 L381.5,483.9 L381.7,483.0 L381.8,482.1 L381.9,481.3 L382.0,480.4 L382.0,479.5 L382.1,478.7 L382.2,477.9 L382.3,477.0 L382.4,476.2 L382.4,475.4 L382.5,474.6 L382.6,473.8 L382.6,473.1 L382.7,472.3 L382.7,471.5 L382.8,470.8 L382.8,470.0 L382.9,469.3 L382.9,468.5 L383.0,467.8 L383.0,467.1 L383.1,466.4 L383.1,465.7 L383.2,464.9 L383.2,464.2 L383.2,463.5 L383.3,462.9 L383.3,462.2 L383.3,461.5 L383.4,460.8 L383.4,460.1 L383.5,459.5 L383.5,458.8 L383.5,458.2 L383.6,457.6 L383.6,456.9 L383.6,456.3 L383.6,455.8 L383.7,455.2 L383.7,454.6 L383.7,454.1 L383.8,453.6 L383.8,453.1 L383.8,452.6 L383.9,452.2 L383.9,451.8 L383.9,451.5 L383.9,451.1 L384.0,450.9 L384.0,450.6 L384.0,450.4 L384.1,450.3 L384.1,450.2 L384.1,450.1 L384.1,450.1 L384.1,450.1 L384.2,450.2 L384.2,450.3 L384.2,450.4 L384.3,450.6 L384.3,450.9 L384.3,451.1 L384.3,451.5 L384.4,451.8 L384.4,452.2 L384.4,452.6 L384.5,453.1 L384.5,453.6 L384.5,454.1 L384.6,454.7 L384.6,455.2 L384.6,455.8 L384.6,456.4 L384.7,457.0 L384.7,457.6 L384.7,458.3 L384.8,458.9 L384.8,459.6 L384.8,460.2 L384.9,460.9 L384.9,461.6 L385.0,462.3 L385.0,463.0 L385.0,463.7 L385.1,464.4 L385.1,465.1 L385.1,465.8 L385.2,466.5 L385.2,467.2 L385.3,468.0 L385.3,468.7 L385.4,469.4 L385.4,470.2 L385.5,470.9 L385.5,471.7 L385.6,472.5 L385.6,473.2 L385.7,474.0 L385.8,474.8 L385.8,475.6 L385.9,476.4 L386.0,477.2 L386.0,478.0 L386.1,478.9 L386.2,479.7 L386.3,480.5 L386.4,481.4 L386.5,482.3 L386.6,483.2 L386.7,484.1 L386.8,485.0 L386.9,485.9 L387.1,486.8 L387.2,487.7 L387.4,488.7 L387.6,489.7 L387.8,490.6 L388.0,491.6 L388.2,492.6 L388.5,493.6 L388.8,494.6 L389.1,495.7 L389.5,496.7 L389.9,497.7 L390.4,498.8 L391.0,499.9 L391.8,500.9 L392.7,502.0 L393.8,503.1 L395.2,504.2 L397.2,505.3 L400.0,506.4 L404.3,507.5 L411.7,508.6 L427.7,509.7 L488.1,510.8 L488.07,511.46 Z" fill="#3c3cff" fill-opacity="0.85" stroke="none"/>
<path d="M328.2,509.7 L352.1,508.6 L361.7,507.5 L366.9,506.4 L370.1,505.3 L372.4,504.2 L374.0,503.1 L375.2,502.0 L376.2,500.9 L377.0,499.8 L377.6,498.8 L378.2,497.7 L378.6,496.6 L379.0,495.6 L379.4,494.6 L379.7,493.5 L380.0,492.5 L380.2,491.5 L380.4,490.5 L380.6,489.6 L380.8,488.6 L381.0,487.6 L381.1,486.7 L381.3,485.8 L381.4,484.8 L381.5,483.9 L381.7,483.0 L381.8,482.1 L381.9,481.3 L382.0,480.4 L382.0,479.5 L382.1,478.7 L382.2,477.9 L382.3,477.0 L382.4,476.2 L382.4,475.4 L382.5,474.6 L382.6,473.8 L382.6,473.1 L382.7,472.3 L382.7,471.5 L382.8,470.8 L382.8,470.0 L382.9,469.3 L382.9,468.5 L383.0,467.8 L383.0,467.1 L383.1,466.4 L383.1,465.7 L383.2,464.9 L383.2,464.2 L383.2,463.5 L383.3,462.9 L383.3,462.2 L383.3,461.5 L383.4,460.8 L383.4,460.1 L383.5,459.5 L383.5,458.8 L383.5,458.2 L383.6,457.6 L383.6,456.9 L383.6,456.3 L383.6,455.8 L383.7,455.2 L383.7,454.6 L383.7,454.1 L383.8,453.6 L383.8,453.1 L383.8,452.6 L383.9,452.2 L383.9,451.8 L383.9,451.5 L383.9,451.1 L384.0,450.9 L384.0,450.6 L384.0,450.4 L384.1,450.3 L384.1,450.2 L384.1,450.1 L384.1,450.1 L384.1,450.1 L384.2,450.2 L384.2,450.3 L384.2,450.4 L384.3,450.6 L384.3,450.9 L384.3,451.1 L384.3,451.5 L384.4,451.8 L384.4,452.2 L384.4,452.6 L384.5,453.1 L384.5,453.6 L384.5,454.1 L384.6,454.7 L384.6,455.2 L384.6,455.8 L384.6,456.4 L384.7,457.0 L384.7,457.6 L384.7,458.3 L384.8,458.9 L384.8,459.6 L384.8,460.2 L384.9,460.9 L384.9,461.6 L385.0,462.3 L385.0,463.0 L385.0,463.7 L385.1,464.4 L385.1,465.1 L385.1,465.8 L385.2,466.5 L385.2,467.2 L385.3,468.0 L385.3,468.7 L385.4,469.4 L385.4,470.2 L385.5,470.9 L385.5,471.7 L385.6,472.5 L385.6,473.2 L385.7,474.0 L385.8,474.8 L385.8,475.6 L385.9,476.4 L386.0,477.2 L386.0,478.0 L386.1,478.9 L386.2,479.7 L386.3,480.5 L386.4,481.4 L386.5,482.3 L386.6,483.2 L386.7,484.1 L386.8,485.0 L386.9,485.9 L387.1,486.8 L387.2,487.7 L387.4,488.7 L387.6,489.7 L387.8,490.6 L388.0,491.6 L388.2,492.6 L388.5,493.6 L388.8,494.6 L389.1,495.7 L389.5,496.7 L389.9,497.7 L390.4,498.8 L391.0,499.9 L391.8,500.9 L392.7,502.0 L393.8,503.1 L395.2,504.2 L397.2,505.3 L400.0,506.4 L404.3,507.5 L411.7,508.6 L427.7,509.7 L488.1,510.8" fill="none" stroke="#3a3aff" stroke-width="0.9" stroke-linejoin="round"/>
<text x="385.30" y="448.00" font-size="11.4" fill="#0000ff" text-anchor="middle" stroke="#0000ff" stroke-width="0.4" >12.8</text>
<path d="M316.88,524.88 L316.9,522.3 L332.0,521.0 L339.0,519.7 L343.0,518.4 L345.6,517.1 L347.5,515.8 L348.9,514.5 L349.9,513.2 L350.8,511.9 L351.5,510.7 L352.0,509.4 L352.5,508.1 L352.9,506.9 L353.3,505.7 L353.6,504.5 L353.9,503.3 L354.2,502.1 L354.4,500.9 L354.6,499.7 L354.8,498.6 L354.9,497.4 L355.1,496.3 L355.2,495.2 L355.4,494.1 L355.5,493.0 L355.6,492.0 L355.7,490.9 L355.8,489.9 L355.9,488.8 L356.0,487.8 L356.1,486.8 L356.1,485.8 L356.2,484.9 L356.3,483.9 L356.3,482.9 L356.4,482.0 L356.5,481.1 L356.5,480.1 L356.6,479.2 L356.6,478.3 L356.7,477.4 L356.7,476.5 L356.8,475.6 L356.8,474.8 L356.9,473.9 L356.9,473.0 L357.0,472.2 L357.0,471.3 L357.1,470.5 L357.1,469.7 L357.1,468.8 L357.2,468.0 L357.2,467.2 L357.2,466.4 L357.3,465.6 L357.3,464.8 L357.3,464.0 L357.4,463.2 L357.4,462.5 L357.4,461.7 L357.5,461.0 L357.5,460.3 L357.5,459.5 L357.6,458.9 L357.6,458.2 L357.6,457.5 L357.6,456.9 L357.7,456.3 L357.7,455.8 L357.7,455.2 L357.8,454.7 L357.8,454.3 L357.8,453.9 L357.8,453.5 L357.9,453.2 L357.9,452.9 L357.9,452.7 L357.9,452.6 L358.0,452.5 L358.0,452.4 L358.0,452.4 L358.0,452.4 L358.1,452.5 L358.1,452.6 L358.1,452.8 L358.1,453.1 L358.2,453.4 L358.2,453.7 L358.2,454.1 L358.2,454.5 L358.3,455.0 L358.3,455.5 L358.3,456.1 L358.4,456.7 L358.4,457.3 L358.4,457.9 L358.4,458.6 L358.5,459.3 L358.5,460.0 L358.5,460.7 L358.6,461.4 L358.6,462.2 L358.6,463.0 L358.7,463.7 L358.7,464.5 L358.7,465.3 L358.8,466.1 L358.8,466.9 L358.8,467.8 L358.9,468.6 L358.9,469.4 L358.9,470.3 L359.0,471.1 L359.0,471.9 L359.1,472.8 L359.1,473.7 L359.1,474.5 L359.2,475.4 L359.2,476.3 L359.3,477.2 L359.3,478.1 L359.4,479.0 L359.4,479.9 L359.5,480.8 L359.6,481.7 L359.6,482.7 L359.7,483.6 L359.8,484.6 L359.8,485.6 L359.9,486.6 L360.0,487.5 L360.1,488.6 L360.2,489.6 L360.2,490.6 L360.3,491.6 L360.5,492.7 L360.6,493.8 L360.7,494.9 L360.8,496.0 L361.0,497.1 L361.1,498.2 L361.3,499.3 L361.5,500.5 L361.7,501.6 L361.9,502.8 L362.2,504.0 L362.4,505.2 L362.8,506.4 L363.1,507.6 L363.6,508.9 L364.1,510.1 L364.7,511.4 L365.4,512.7 L366.2,513.9 L367.3,515.2 L368.8,516.5 L370.7,517.8 L373.5,519.1 L377.9,520.4 L385.7,521.7 L403.3,523.0 L482.5,524.3 L482.52,524.88 Z" fill="#3fa83f" fill-opacity="0.85" stroke="none"/>
<path d="M316.9,522.3 L332.0,521.0 L339.0,519.7 L343.0,518.4 L345.6,517.1 L347.5,515.8 L348.9,514.5 L349.9,513.2 L350.8,511.9 L351.5,510.7 L352.0,509.4 L352.5,508.1 L352.9,506.9 L353.3,505.7 L353.6,504.5 L353.9,503.3 L354.2,502.1 L354.4,500.9 L354.6,499.7 L354.8,498.6 L354.9,497.4 L355.1,496.3 L355.2,495.2 L355.4,494.1 L355.5,493.0 L355.6,492.0 L355.7,490.9 L355.8,489.9 L355.9,488.8 L356.0,487.8 L356.1,486.8 L356.1,485.8 L356.2,484.9 L356.3,483.9 L356.3,482.9 L356.4,482.0 L356.5,481.1 L356.5,480.1 L356.6,479.2 L356.6,478.3 L356.7,477.4 L356.7,476.5 L356.8,475.6 L356.8,474.8 L356.9,473.9 L356.9,473.0 L357.0,472.2 L357.0,471.3 L357.1,470.5 L357.1,469.7 L357.1,468.8 L357.2,468.0 L357.2,467.2 L357.2,466.4 L357.3,465.6 L357.3,464.8 L357.3,464.0 L357.4,463.2 L357.4,462.5 L357.4,461.7 L357.5,461.0 L357.5,460.3 L357.5,459.5 L357.6,458.9 L357.6,458.2 L357.6,457.5 L357.6,456.9 L357.7,456.3 L357.7,455.8 L357.7,455.2 L357.8,454.7 L357.8,454.3 L357.8,453.9 L357.8,453.5 L357.9,453.2 L357.9,452.9 L357.9,452.7 L357.9,452.6 L358.0,452.5 L358.0,452.4 L358.0,452.4 L358.0,452.4 L358.1,452.5 L358.1,452.6 L358.1,452.8 L358.1,453.1 L358.2,453.4 L358.2,453.7 L358.2,454.1 L358.2,454.5 L358.3,455.0 L358.3,455.5 L358.3,456.1 L358.4,456.7 L358.4,457.3 L358.4,457.9 L358.4,458.6 L358.5,459.3 L358.5,460.0 L358.5,460.7 L358.6,461.4 L358.6,462.2 L358.6,463.0 L358.7,463.7 L358.7,464.5 L358.7,465.3 L358.8,466.1 L358.8,466.9 L358.8,467.8 L358.9,468.6 L358.9,469.4 L358.9,470.3 L359.0,471.1 L359.0,471.9 L359.1,472.8 L359.1,473.7 L359.1,474.5 L359.2,475.4 L359.2,476.3 L359.3,477.2 L359.3,478.1 L359.4,479.0 L359.4,479.9 L359.5,480.8 L359.6,481.7 L359.6,482.7 L359.7,483.6 L359.8,484.6 L359.8,485.6 L359.9,486.6 L360.0,487.5 L360.1,488.6 L360.2,489.6 L360.2,490.6 L360.3,491.6 L360.5,492.7 L360.6,493.8 L360.7,494.9 L360.8,496.0 L361.0,497.1 L361.1,498.2 L361.3,499.3 L361.5,500.5 L361.7,501.6 L361.9,502.8 L362.2,504.0 L362.4,505.2 L362.8,506.4 L363.1,507.6 L363.6,508.9 L364.1,510.1 L364.7,511.4 L365.4,512.7 L366.2,513.9 L367.3,515.2 L368.8,516.5 L370.7,517.8 L373.5,519.1 L377.9,520.4 L385.7,521.7 L403.3,523.0 L482.5,524.3" fill="none" stroke="#4cae4c" stroke-width="0.9" stroke-linejoin="round"/>
<text x="351.30" y="451.00" font-size="11.4" fill="#1d8a1d" text-anchor="middle" stroke="#1d8a1d" stroke-width="0.4" >14.6</text>
<line x1="302.80" y1="541.60" x2="475.60" y2="541.60" stroke="#111" stroke-width="1.9" />
<line x1="302.80" y1="453.60" x2="302.80" y2="542.50" stroke="#111" stroke-width="1.9" />
<line x1="475.60" y1="541.60" x2="504.10" y2="472.70" stroke="#111" stroke-width="1.5" />
<line x1="302.80" y1="541.60" x2="302.80" y2="537.60" stroke="#111" stroke-width="1.2" />
<text x="302.80" y="554.80" font-size="10" fill="#000" text-anchor="middle" stroke="#000" stroke-width="0.4" >50</text>
<line x1="317.20" y1="541.60" x2="317.20" y2="538.90" stroke="#111" stroke-width="1.2" />
<line x1="331.60" y1="541.60" x2="331.60" y2="537.60" stroke="#111" stroke-width="1.2" />
<text x="331.60" y="554.80" font-size="10" fill="#000" text-anchor="middle" stroke="#000" stroke-width="0.4" >60</text>
<line x1="346.00" y1="541.60" x2="346.00" y2="538.90" stroke="#111" stroke-width="1.2" />
<line x1="360.40" y1="541.60" x2="360.40" y2="537.60" stroke="#111" stroke-width="1.2" />
<text x="360.40" y="554.80" font-size="10" fill="#000" text-anchor="middle" stroke="#000" stroke-width="0.4" >70</text>
<line x1="374.80" y1="541.60" x2="374.80" y2="538.90" stroke="#111" stroke-width="1.2" />
<line x1="389.20" y1="541.60" x2="389.20" y2="537.60" stroke="#111" stroke-width="1.2" />
<text x="389.20" y="554.80" font-size="10" fill="#000" text-anchor="middle" stroke="#000" stroke-width="0.4" >80</text>
<line x1="403.60" y1="541.60" x2="403.60" y2="538.90" stroke="#111" stroke-width="1.2" />
<line x1="418.00" y1="541.60" x2="418.00" y2="537.60" stroke="#111" stroke-width="1.2" />
<text x="418.00" y="554.80" font-size="10" fill="#000" text-anchor="middle" stroke="#000" stroke-width="0.4" >90</text>
<line x1="432.40" y1="541.60" x2="432.40" y2="538.90" stroke="#111" stroke-width="1.2" />
<line x1="446.80" y1="541.60" x2="446.80" y2="537.60" stroke="#111" stroke-width="1.2" />
<text x="446.80" y="554.80" font-size="10" fill="#000" text-anchor="middle" stroke="#000" stroke-width="0.4" >100</text>
<line x1="461.20" y1="541.60" x2="461.20" y2="538.90" stroke="#111" stroke-width="1.2" />
<line x1="475.60" y1="541.60" x2="475.60" y2="537.60" stroke="#111" stroke-width="1.2" />
<text x="475.60" y="554.80" font-size="10" fill="#000" text-anchor="middle" stroke="#000" stroke-width="0.4" >110</text>
<line x1="302.80" y1="541.60" x2="306.80" y2="541.60" stroke="#111" stroke-width="1.3" />
<text x="299.50" y="545.90" font-size="10" fill="#000" text-anchor="end" stroke="#000" stroke-width="0.4" >0</text>
<line x1="302.80" y1="515.72" x2="306.80" y2="515.72" stroke="#111" stroke-width="1.3" />
<text x="299.50" y="520.02" font-size="10" fill="#000" text-anchor="end" stroke="#000" stroke-width="0.4" >5</text>
<line x1="302.80" y1="489.84" x2="306.80" y2="489.84" stroke="#111" stroke-width="1.3" />
<text x="299.50" y="494.14" font-size="10" fill="#000" text-anchor="end" stroke="#000" stroke-width="0.4" >10</text>
<line x1="302.80" y1="463.95" x2="306.80" y2="463.95" stroke="#111" stroke-width="1.3" />
<text x="299.50" y="468.25" font-size="10" fill="#000" text-anchor="end" stroke="#000" stroke-width="0.4" >15</text>
<line x1="302.80" y1="528.66" x2="305.60" y2="528.66" stroke="#111" stroke-width="1.1" />
<line x1="302.80" y1="502.78" x2="305.60" y2="502.78" stroke="#111" stroke-width="1.1" />
<line x1="302.80" y1="476.89" x2="305.60" y2="476.89" stroke="#111" stroke-width="1.1" />
<line x1="482.52" y1="524.88" x2="479.52" y2="524.88" stroke="#111" stroke-width="1.1" />
<line x1="488.07" y1="511.46" x2="485.07" y2="511.46" stroke="#111" stroke-width="1.1" />
<line x1="493.91" y1="497.34" x2="490.91" y2="497.34" stroke="#111" stroke-width="1.1" />
<line x1="499.02" y1="484.98" x2="496.02" y2="484.98" stroke="#111" stroke-width="1.1" />
<text x="501.60" y="488.30" font-size="9.2" fill="#000" text-anchor="start" stroke="#000" stroke-width="0.4" >traditional</text>
<text x="496.50" y="501.00" font-size="9.4" fill="#000" text-anchor="start" stroke="#000" stroke-width="0.4" >θ=30°</text>
<text x="490.90" y="514.70" font-size="9.6" fill="#000" text-anchor="start" stroke="#000" stroke-width="0.4" >θ=50°</text>
<text x="485.30" y="529.50" font-size="9.9" fill="#000" text-anchor="start" stroke="#000" stroke-width="0.4" >θ=70°</text>
<text x="387.00" y="571.00" font-size="10.1" fill="#000" text-anchor="middle" stroke="#000" stroke-width="0.4" >Frequency (kHz)</text>
<text transform="translate(285.7,497.5) rotate(-90)" font-size="10.9" text-anchor="middle" stroke="#000" stroke-width="0.4">Reception sensitivity (mV/Pa)</text>
<text x="404.50" y="587.70" font-size="14.5" fill="#000" text-anchor="middle" stroke="#000" stroke-width="0.75" >(f)</text>
</svg></div>
<script>
(function(){
var cv=document.getElementById('hm');var ctx=cv.getContext('2d');
var W=233,H=151,X0=15,Y0=18;
var img=ctx.createImageData(W,H);var d=img.data;
var bg=[213,228,214];
var cells=[[53.0, 55.0, 36.5, 3.2, 3, 1.0471975511965976, 29.4, -2.3, 0.8, 0.35, 0.6], [132.4, 56.8, 33.5, 5.0, 4, 0.0, 29.6, -2.3, 0.85, 0.6, 0.6], [209.0, 55.5, 30.5, 1.0, 1, 0.0, 0, -2.2, 0.88, 1.4, 0.6], [53.6, 130.8, 31.5, 1.5, 3, 1.0471975511965976, 0, -2.2, 0.88, 1.4, 0.6], [133.0, 131.0, 31.0, 1.0, 1, 0.0, 0, -2.2, 0.88, 1.4, 0.6], [209.5, 131.2, 31.0, 1.0, 1, 0.0, 0, -2.2, 0.88, 1.4, 0.6]];
var stops=[[0, [30, 8, 145]], [0.18, [48, 10, 170]], [0.34, [96, 14, 192]], [0.46, [145, 22, 198]], [0.53, [160, 44, 200]], [0.57, [134, 96, 160]], [0.6, [86, 110, 112]], [0.64, [60, 110, 88]], [0.71, [72, 158, 116]], [0.8, [138, 222, 178]], [0.9, [196, 234, 212]], [1.0, [213, 228, 214]]];
function cmap(p){ if(p<=0)return stops[0][1]; if(p>=1)return stops[stops.length-1][1];
 for(var i=1;i<stops.length;i++){ if(p<=stops[i][0]){var a=stops[i-1],b=stops[i];var t=(p-a[0])/(b[0]-a[0]);return [a[1][0]+(b[1][0]-a[1][0])*t,a[1][1]+(b[1][1]-a[1][1])*t,a[1][2]+(b[1][2]-a[1][2])*t];}}}
var PI=Math.PI;
function g(c,t){var n=c[4],K=c[3],s=0;for(var i=0;i<n;i++){s+=Math.exp(K*Math.cos(t-c[5]-i*2*PI/n));}return Math.log(s)/K;}
function Rf(c,th,r){var n=c[4];if(n<=1)return c[2];var R=c[2]*g(c,c[5])/g(c,th);var s=Math.min(1,r/(c[10]*c[2]));return c[2]+(R-c[2])*s;}
var SS=3;
for(var y=0;y<H;y++)for(var x=0;x<W;x++){
 var acc=[0,0,0];
 for(var sy=0;sy<SS;sy++)for(var sx=0;sx<SS;sx++){
 var px=X0+x+(sx+0.5)/SS,py=Y0+y+(sy+0.5)/SS;var col=bg;
 for(var k=0;k<cells.length;k++){var c=cells[k];var dx=px-c[0],dy=-(py-c[1]);var r=Math.sqrt(dx*dx+dy*dy);
  if(r<45){var th=Math.atan2(dy,dx);var R=Rf(c,th,r);
   var p=r/R; if(c[6]>0 && r>c[6]) {break;}
   if(p<1){col=cmap(p);
     var sl=0.3*Math.exp(-Math.pow((p-0.55)/0.12,2))+Math.exp(-Math.pow((p-0.8)/0.085,2)); var L=Math.cos(th-c[7])*sl*c[9];
     if(L>0){var w=Math.min(0.85,0.6*Math.pow(L,1.3));col=[col[0]+(235-col[0])*w,col[1]+(255-col[1])*w,col[2]+(240-col[2])*w];}
     else {var f=1+0.22*L;col=[col[0]*f,col[1]*f,col[2]*f];}
   }
   break;}
 }
 acc[0]+=col[0];acc[1]+=col[1];acc[2]+=col[2];}
 var i=(y*W+x)*4;var n2=SS*SS;d[i]=acc[0]/n2;d[i+1]=acc[1]/n2;d[i+2]=acc[2]/n2;d[i+3]=255;}
ctx.putImageData(img,0,0);
})();
</script>
</body></html>
